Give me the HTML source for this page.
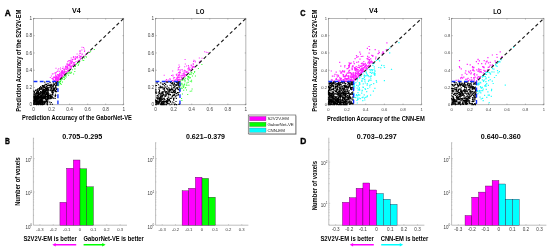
<!DOCTYPE html>
<html lang="en"><head><meta charset="utf-8"><title>Figure</title>
<style>html,body{margin:0;padding:0;background:#fff}svg{display:block}text{font-family:"Liberation Sans",sans-serif}</style></head><body>
<svg width="550" height="251" viewBox="0 0 550 251">
<rect width="550" height="251" fill="#fff"/>
<rect x="33.60" y="18.40" width="90.10" height="86.40" fill="none" stroke="#777" stroke-width="0.55"/>
<path d="M33.60 104.80v-1.2M33.60 18.40v1.2M33.60 104.80h1.2M123.70 104.80h-1.2M51.62 104.80v-1.2M51.62 18.40v1.2M33.60 87.52h1.2M123.70 87.52h-1.2M69.64 104.80v-1.2M69.64 18.40v1.2M33.60 70.24h1.2M123.70 70.24h-1.2M87.66 104.80v-1.2M87.66 18.40v1.2M33.60 52.96h1.2M123.70 52.96h-1.2M105.68 104.80v-1.2M105.68 18.40v1.2M33.60 35.68h1.2M123.70 35.68h-1.2M123.70 104.80v-1.2M123.70 18.40v1.2M33.60 18.40h1.2M123.70 18.40h-1.2" stroke="#777" stroke-width="0.5" fill="none"/>
<g font-size="4.7" fill="#444" font-family="'Liberation Sans', sans-serif">
<text x="33.60" y="110.79" text-anchor="middle">0</text>
<text x="32.20" y="106.49" text-anchor="end">0</text>
<text x="51.62" y="110.79" text-anchor="middle">0.2</text>
<text x="32.20" y="89.21" text-anchor="end">0.2</text>
<text x="69.64" y="110.79" text-anchor="middle">0.4</text>
<text x="32.20" y="71.93" text-anchor="end">0.4</text>
<text x="87.66" y="110.79" text-anchor="middle">0.6</text>
<text x="32.20" y="54.65" text-anchor="end">0.6</text>
<text x="105.68" y="110.79" text-anchor="middle">0.8</text>
<text x="32.20" y="37.37" text-anchor="end">0.8</text>
<text x="123.70" y="110.79" text-anchor="middle">1</text>
<text x="32.20" y="20.09" text-anchor="end">1</text>
</g>
<path d="M54.0 88.7h1.15v1.15h-1.15zM43.6 98.2h1.15v1.15h-1.15zM38.9 98.5h1.15v1.15h-1.15zM40.7 88.6h1.15v1.15h-1.15zM37.3 90.3h1.15v1.15h-1.15zM41.2 94.2h1.15v1.15h-1.15zM41.3 103.9h1.15v1.15h-1.15zM38.7 101.6h1.15v1.15h-1.15zM55.0 89.8h1.15v1.15h-1.15zM40.3 100.9h1.15v1.15h-1.15zM37.3 95.6h1.15v1.15h-1.15zM43.9 91.0h1.15v1.15h-1.15zM45.8 93.3h1.15v1.15h-1.15zM35.9 101.0h1.15v1.15h-1.15zM40.7 91.6h1.15v1.15h-1.15zM37.1 102.4h1.15v1.15h-1.15zM37.9 94.3h1.15v1.15h-1.15zM46.4 91.5h1.15v1.15h-1.15zM47.0 89.3h1.15v1.15h-1.15zM41.6 91.4h1.15v1.15h-1.15zM36.8 92.9h1.15v1.15h-1.15zM41.9 92.7h1.15v1.15h-1.15zM41.0 96.3h1.15v1.15h-1.15zM33.1 100.0h1.15v1.15h-1.15zM49.3 97.6h1.15v1.15h-1.15zM34.5 96.1h1.15v1.15h-1.15zM44.6 100.8h1.15v1.15h-1.15zM38.2 94.1h1.15v1.15h-1.15zM39.3 101.5h1.15v1.15h-1.15zM41.3 93.4h1.15v1.15h-1.15zM43.2 95.2h1.15v1.15h-1.15zM40.4 95.4h1.15v1.15h-1.15zM37.1 103.5h1.15v1.15h-1.15zM53.1 97.6h1.15v1.15h-1.15zM34.5 100.4h1.15v1.15h-1.15zM55.2 86.5h1.15v1.15h-1.15zM45.6 95.9h1.15v1.15h-1.15zM39.5 102.2h1.15v1.15h-1.15zM37.4 88.5h1.15v1.15h-1.15zM44.3 96.8h1.15v1.15h-1.15zM51.3 84.8h1.15v1.15h-1.15zM38.6 102.8h1.15v1.15h-1.15zM37.9 90.7h1.15v1.15h-1.15zM37.6 103.1h1.15v1.15h-1.15zM39.1 94.3h1.15v1.15h-1.15zM45.1 99.0h1.15v1.15h-1.15zM33.2 96.5h1.15v1.15h-1.15zM37.0 96.1h1.15v1.15h-1.15zM45.4 88.5h1.15v1.15h-1.15zM39.6 99.3h1.15v1.15h-1.15zM36.0 100.3h1.15v1.15h-1.15zM36.2 94.0h1.15v1.15h-1.15zM43.1 96.3h1.15v1.15h-1.15zM43.2 93.0h1.15v1.15h-1.15zM33.4 98.5h1.15v1.15h-1.15zM44.2 93.0h1.15v1.15h-1.15zM44.3 95.9h1.15v1.15h-1.15zM43.3 85.9h1.15v1.15h-1.15zM39.6 95.9h1.15v1.15h-1.15zM38.1 100.1h1.15v1.15h-1.15zM40.8 101.3h1.15v1.15h-1.15zM37.3 102.4h1.15v1.15h-1.15zM43.1 89.4h1.15v1.15h-1.15zM47.5 84.8h1.15v1.15h-1.15zM51.6 90.0h1.15v1.15h-1.15zM47.1 85.1h1.15v1.15h-1.15zM33.2 90.4h1.15v1.15h-1.15zM36.6 95.2h1.15v1.15h-1.15zM41.9 90.2h1.15v1.15h-1.15zM33.5 95.8h1.15v1.15h-1.15zM56.5 84.8h1.15v1.15h-1.15zM36.4 96.5h1.15v1.15h-1.15zM47.5 97.5h1.15v1.15h-1.15zM39.4 101.3h1.15v1.15h-1.15zM42.9 92.9h1.15v1.15h-1.15zM37.0 95.5h1.15v1.15h-1.15zM33.6 99.4h1.15v1.15h-1.15zM34.4 101.3h1.15v1.15h-1.15zM39.1 99.4h1.15v1.15h-1.15zM41.5 103.8h1.15v1.15h-1.15zM33.3 101.0h1.15v1.15h-1.15zM42.6 97.1h1.15v1.15h-1.15zM36.7 99.3h1.15v1.15h-1.15zM39.1 103.5h1.15v1.15h-1.15zM47.1 90.0h1.15v1.15h-1.15zM50.8 96.1h1.15v1.15h-1.15zM34.8 99.6h1.15v1.15h-1.15zM33.7 95.9h1.15v1.15h-1.15zM39.7 92.5h1.15v1.15h-1.15zM33.8 91.3h1.15v1.15h-1.15zM34.5 100.9h1.15v1.15h-1.15zM37.8 96.7h1.15v1.15h-1.15zM33.2 101.4h1.15v1.15h-1.15zM44.8 98.0h1.15v1.15h-1.15zM35.2 89.6h1.15v1.15h-1.15zM35.5 96.1h1.15v1.15h-1.15zM49.5 89.8h1.15v1.15h-1.15zM42.0 100.9h1.15v1.15h-1.15zM37.9 96.2h1.15v1.15h-1.15zM44.6 88.1h1.15v1.15h-1.15zM36.3 100.3h1.15v1.15h-1.15zM42.1 94.4h1.15v1.15h-1.15zM45.9 93.0h1.15v1.15h-1.15zM36.6 100.8h1.15v1.15h-1.15zM35.1 98.5h1.15v1.15h-1.15zM45.8 83.8h1.15v1.15h-1.15zM41.1 103.3h1.15v1.15h-1.15zM42.1 94.7h1.15v1.15h-1.15zM48.2 96.6h1.15v1.15h-1.15zM42.5 102.9h1.15v1.15h-1.15zM46.9 87.5h1.15v1.15h-1.15zM36.7 102.8h1.15v1.15h-1.15zM45.6 88.5h1.15v1.15h-1.15zM34.7 95.2h1.15v1.15h-1.15zM38.8 97.9h1.15v1.15h-1.15zM45.0 95.0h1.15v1.15h-1.15zM43.0 86.3h1.15v1.15h-1.15zM46.1 88.6h1.15v1.15h-1.15zM50.8 84.4h1.15v1.15h-1.15zM34.1 95.5h1.15v1.15h-1.15zM44.8 87.4h1.15v1.15h-1.15zM44.9 93.3h1.15v1.15h-1.15zM34.9 97.2h1.15v1.15h-1.15zM39.9 93.7h1.15v1.15h-1.15zM42.7 85.0h1.15v1.15h-1.15zM41.7 100.6h1.15v1.15h-1.15zM41.3 94.5h1.15v1.15h-1.15zM42.7 97.5h1.15v1.15h-1.15zM36.9 95.9h1.15v1.15h-1.15zM46.4 92.7h1.15v1.15h-1.15zM42.9 96.2h1.15v1.15h-1.15zM39.8 103.0h1.15v1.15h-1.15zM35.7 99.8h1.15v1.15h-1.15zM33.4 97.4h1.15v1.15h-1.15zM40.3 91.4h1.15v1.15h-1.15zM51.9 103.7h1.15v1.15h-1.15zM45.3 101.9h1.15v1.15h-1.15zM35.9 95.4h1.15v1.15h-1.15zM34.6 103.8h1.15v1.15h-1.15zM42.2 96.3h1.15v1.15h-1.15zM34.6 96.0h1.15v1.15h-1.15zM41.3 95.2h1.15v1.15h-1.15zM38.8 102.3h1.15v1.15h-1.15zM38.5 87.9h1.15v1.15h-1.15zM36.3 93.5h1.15v1.15h-1.15zM36.6 102.6h1.15v1.15h-1.15zM37.6 101.4h1.15v1.15h-1.15zM35.7 96.0h1.15v1.15h-1.15zM37.4 103.8h1.15v1.15h-1.15zM45.0 87.9h1.15v1.15h-1.15zM40.6 99.1h1.15v1.15h-1.15zM48.5 97.7h1.15v1.15h-1.15zM38.2 100.3h1.15v1.15h-1.15zM33.9 96.6h1.15v1.15h-1.15zM39.3 99.3h1.15v1.15h-1.15zM34.8 99.3h1.15v1.15h-1.15zM43.2 93.4h1.15v1.15h-1.15zM35.7 101.4h1.15v1.15h-1.15zM53.2 84.1h1.15v1.15h-1.15zM47.0 102.6h1.15v1.15h-1.15zM44.2 96.1h1.15v1.15h-1.15zM36.5 99.4h1.15v1.15h-1.15zM33.2 102.0h1.15v1.15h-1.15zM40.4 101.8h1.15v1.15h-1.15zM46.4 86.8h1.15v1.15h-1.15zM36.2 98.9h1.15v1.15h-1.15zM41.1 94.8h1.15v1.15h-1.15zM38.3 101.3h1.15v1.15h-1.15zM46.2 88.9h1.15v1.15h-1.15zM34.2 97.0h1.15v1.15h-1.15zM41.1 100.3h1.15v1.15h-1.15zM51.1 91.7h1.15v1.15h-1.15zM33.5 97.8h1.15v1.15h-1.15zM46.9 104.1h1.15v1.15h-1.15zM49.7 103.5h1.15v1.15h-1.15zM43.2 103.4h1.15v1.15h-1.15zM37.7 98.7h1.15v1.15h-1.15zM35.4 101.1h1.15v1.15h-1.15zM44.3 90.5h1.15v1.15h-1.15zM38.1 98.9h1.15v1.15h-1.15zM42.1 86.4h1.15v1.15h-1.15zM37.9 92.9h1.15v1.15h-1.15zM56.0 88.9h1.15v1.15h-1.15zM40.3 95.2h1.15v1.15h-1.15zM42.1 100.6h1.15v1.15h-1.15zM45.0 95.7h1.15v1.15h-1.15zM47.8 96.0h1.15v1.15h-1.15zM39.4 98.1h1.15v1.15h-1.15zM42.4 92.1h1.15v1.15h-1.15zM41.3 95.8h1.15v1.15h-1.15zM52.5 94.4h1.15v1.15h-1.15zM55.4 87.2h1.15v1.15h-1.15zM54.1 88.5h1.15v1.15h-1.15zM42.5 90.6h1.15v1.15h-1.15zM47.7 92.0h1.15v1.15h-1.15zM56.8 82.5h1.15v1.15h-1.15zM38.2 100.2h1.15v1.15h-1.15zM44.5 86.9h1.15v1.15h-1.15zM40.4 87.6h1.15v1.15h-1.15zM39.1 95.9h1.15v1.15h-1.15zM47.7 91.6h1.15v1.15h-1.15zM40.5 88.9h1.15v1.15h-1.15zM40.1 94.9h1.15v1.15h-1.15zM40.9 99.2h1.15v1.15h-1.15zM46.5 85.4h1.15v1.15h-1.15zM34.0 102.1h1.15v1.15h-1.15zM55.5 91.0h1.15v1.15h-1.15zM37.8 96.0h1.15v1.15h-1.15zM49.5 86.7h1.15v1.15h-1.15zM39.9 100.0h1.15v1.15h-1.15zM54.7 95.9h1.15v1.15h-1.15zM37.8 95.7h1.15v1.15h-1.15zM35.6 98.2h1.15v1.15h-1.15zM45.9 99.8h1.15v1.15h-1.15zM38.6 100.9h1.15v1.15h-1.15zM35.4 98.1h1.15v1.15h-1.15zM41.4 103.4h1.15v1.15h-1.15zM40.5 96.6h1.15v1.15h-1.15zM53.2 83.7h1.15v1.15h-1.15zM33.9 98.0h1.15v1.15h-1.15zM54.6 97.8h1.15v1.15h-1.15zM47.7 89.3h1.15v1.15h-1.15zM36.6 89.1h1.15v1.15h-1.15zM53.9 87.8h1.15v1.15h-1.15zM44.7 94.8h1.15v1.15h-1.15zM38.0 94.0h1.15v1.15h-1.15zM38.9 103.0h1.15v1.15h-1.15zM34.1 98.6h1.15v1.15h-1.15zM47.0 87.7h1.15v1.15h-1.15zM49.4 97.7h1.15v1.15h-1.15zM41.8 95.2h1.15v1.15h-1.15zM45.1 101.2h1.15v1.15h-1.15zM35.3 96.5h1.15v1.15h-1.15zM54.9 93.7h1.15v1.15h-1.15zM42.4 101.8h1.15v1.15h-1.15zM39.7 102.5h1.15v1.15h-1.15zM55.6 82.7h1.15v1.15h-1.15zM36.6 99.1h1.15v1.15h-1.15zM42.2 89.2h1.15v1.15h-1.15zM43.8 97.3h1.15v1.15h-1.15zM41.3 101.2h1.15v1.15h-1.15zM39.9 93.1h1.15v1.15h-1.15zM35.4 97.0h1.15v1.15h-1.15zM49.2 87.2h1.15v1.15h-1.15zM43.7 97.6h1.15v1.15h-1.15zM39.6 100.9h1.15v1.15h-1.15zM38.2 102.7h1.15v1.15h-1.15zM45.5 88.0h1.15v1.15h-1.15zM40.4 103.3h1.15v1.15h-1.15zM39.3 99.7h1.15v1.15h-1.15zM42.1 102.3h1.15v1.15h-1.15zM47.1 101.7h1.15v1.15h-1.15zM50.8 101.9h1.15v1.15h-1.15zM53.7 89.6h1.15v1.15h-1.15zM42.1 94.3h1.15v1.15h-1.15zM45.7 94.0h1.15v1.15h-1.15zM44.5 94.5h1.15v1.15h-1.15zM46.8 97.2h1.15v1.15h-1.15zM52.1 91.3h1.15v1.15h-1.15zM52.0 92.2h1.15v1.15h-1.15zM35.2 100.9h1.15v1.15h-1.15zM44.2 81.6h1.15v1.15h-1.15zM42.4 96.0h1.15v1.15h-1.15zM43.8 101.9h1.15v1.15h-1.15zM34.9 98.6h1.15v1.15h-1.15zM48.6 95.0h1.15v1.15h-1.15zM33.7 101.7h1.15v1.15h-1.15zM37.2 102.8h1.15v1.15h-1.15zM35.4 101.5h1.15v1.15h-1.15zM39.9 90.9h1.15v1.15h-1.15zM48.2 94.0h1.15v1.15h-1.15zM35.7 103.4h1.15v1.15h-1.15zM34.5 100.6h1.15v1.15h-1.15zM34.1 103.3h1.15v1.15h-1.15zM40.1 99.8h1.15v1.15h-1.15zM44.9 96.8h1.15v1.15h-1.15zM34.5 99.4h1.15v1.15h-1.15zM34.9 96.2h1.15v1.15h-1.15zM41.7 101.4h1.15v1.15h-1.15zM47.2 97.2h1.15v1.15h-1.15zM39.2 87.7h1.15v1.15h-1.15zM44.7 101.3h1.15v1.15h-1.15zM50.1 85.3h1.15v1.15h-1.15zM46.4 97.8h1.15v1.15h-1.15zM41.6 91.6h1.15v1.15h-1.15zM40.1 103.9h1.15v1.15h-1.15zM56.3 88.3h1.15v1.15h-1.15zM38.4 101.3h1.15v1.15h-1.15zM38.8 93.8h1.15v1.15h-1.15zM43.0 97.2h1.15v1.15h-1.15zM36.7 94.4h1.15v1.15h-1.15zM47.9 94.6h1.15v1.15h-1.15zM36.7 97.1h1.15v1.15h-1.15zM45.8 83.8h1.15v1.15h-1.15zM42.0 96.1h1.15v1.15h-1.15zM44.7 95.1h1.15v1.15h-1.15zM38.0 92.1h1.15v1.15h-1.15zM33.8 100.7h1.15v1.15h-1.15zM42.2 97.6h1.15v1.15h-1.15zM50.1 98.0h1.15v1.15h-1.15zM33.6 99.5h1.15v1.15h-1.15zM38.8 89.2h1.15v1.15h-1.15zM34.3 95.9h1.15v1.15h-1.15zM42.2 92.9h1.15v1.15h-1.15zM41.5 97.2h1.15v1.15h-1.15zM46.8 95.6h1.15v1.15h-1.15zM42.7 98.2h1.15v1.15h-1.15zM51.6 96.0h1.15v1.15h-1.15zM36.7 95.4h1.15v1.15h-1.15zM46.4 91.5h1.15v1.15h-1.15zM33.5 90.8h1.15v1.15h-1.15zM47.0 91.2h1.15v1.15h-1.15zM50.5 96.8h1.15v1.15h-1.15zM37.5 97.7h1.15v1.15h-1.15zM53.2 89.9h1.15v1.15h-1.15zM42.4 97.8h1.15v1.15h-1.15zM43.4 100.6h1.15v1.15h-1.15zM47.7 87.0h1.15v1.15h-1.15zM33.3 93.5h1.15v1.15h-1.15zM40.2 100.4h1.15v1.15h-1.15zM34.9 97.3h1.15v1.15h-1.15zM38.1 103.7h1.15v1.15h-1.15zM36.5 94.9h1.15v1.15h-1.15zM39.0 103.3h1.15v1.15h-1.15zM41.5 98.7h1.15v1.15h-1.15zM45.1 90.9h1.15v1.15h-1.15zM49.6 96.4h1.15v1.15h-1.15zM39.3 89.2h1.15v1.15h-1.15zM40.0 103.7h1.15v1.15h-1.15zM42.5 91.6h1.15v1.15h-1.15zM45.6 99.7h1.15v1.15h-1.15zM39.6 97.3h1.15v1.15h-1.15zM36.9 100.6h1.15v1.15h-1.15zM38.0 101.7h1.15v1.15h-1.15zM37.5 97.1h1.15v1.15h-1.15zM45.5 98.7h1.15v1.15h-1.15zM35.5 93.0h1.15v1.15h-1.15zM42.9 93.5h1.15v1.15h-1.15zM34.4 93.9h1.15v1.15h-1.15zM34.8 99.9h1.15v1.15h-1.15zM38.7 89.8h1.15v1.15h-1.15zM41.0 97.6h1.15v1.15h-1.15zM42.6 97.4h1.15v1.15h-1.15zM41.7 103.0h1.15v1.15h-1.15zM35.3 102.3h1.15v1.15h-1.15zM42.1 98.4h1.15v1.15h-1.15zM43.9 92.5h1.15v1.15h-1.15zM43.3 103.8h1.15v1.15h-1.15zM53.4 84.4h1.15v1.15h-1.15zM40.7 99.5h1.15v1.15h-1.15zM47.3 100.4h1.15v1.15h-1.15zM55.1 85.5h1.15v1.15h-1.15zM36.0 91.8h1.15v1.15h-1.15zM46.4 98.3h1.15v1.15h-1.15zM33.5 100.4h1.15v1.15h-1.15zM45.9 84.1h1.15v1.15h-1.15zM38.9 98.6h1.15v1.15h-1.15zM38.2 93.6h1.15v1.15h-1.15zM33.3 98.4h1.15v1.15h-1.15zM35.0 97.0h1.15v1.15h-1.15zM37.5 102.1h1.15v1.15h-1.15zM44.5 93.9h1.15v1.15h-1.15zM38.2 94.6h1.15v1.15h-1.15zM52.5 89.8h1.15v1.15h-1.15zM53.9 84.0h1.15v1.15h-1.15zM41.8 99.9h1.15v1.15h-1.15zM46.2 103.3h1.15v1.15h-1.15zM44.7 91.1h1.15v1.15h-1.15zM39.0 88.6h1.15v1.15h-1.15zM56.0 84.3h1.15v1.15h-1.15zM45.4 91.9h1.15v1.15h-1.15zM36.0 104.0h1.15v1.15h-1.15zM46.8 90.2h1.15v1.15h-1.15zM33.4 98.3h1.15v1.15h-1.15zM34.4 92.6h1.15v1.15h-1.15zM43.9 89.0h1.15v1.15h-1.15zM41.3 101.9h1.15v1.15h-1.15zM39.7 102.4h1.15v1.15h-1.15zM41.2 94.6h1.15v1.15h-1.15zM41.2 99.9h1.15v1.15h-1.15zM50.3 93.8h1.15v1.15h-1.15zM40.3 102.0h1.15v1.15h-1.15zM52.3 85.8h1.15v1.15h-1.15zM38.7 101.5h1.15v1.15h-1.15zM53.4 82.9h1.15v1.15h-1.15zM43.9 95.5h1.15v1.15h-1.15zM45.5 88.7h1.15v1.15h-1.15zM41.3 101.1h1.15v1.15h-1.15zM42.5 103.4h1.15v1.15h-1.15zM53.6 89.8h1.15v1.15h-1.15zM41.4 104.2h1.15v1.15h-1.15zM42.6 97.5h1.15v1.15h-1.15zM37.3 102.2h1.15v1.15h-1.15zM38.4 99.0h1.15v1.15h-1.15zM37.4 96.8h1.15v1.15h-1.15zM34.6 101.8h1.15v1.15h-1.15zM38.2 97.8h1.15v1.15h-1.15zM42.2 86.1h1.15v1.15h-1.15zM46.9 92.5h1.15v1.15h-1.15zM47.2 99.1h1.15v1.15h-1.15zM33.7 98.0h1.15v1.15h-1.15zM41.8 85.1h1.15v1.15h-1.15zM33.1 103.1h1.15v1.15h-1.15zM36.8 95.8h1.15v1.15h-1.15zM46.9 94.7h1.15v1.15h-1.15zM41.3 95.2h1.15v1.15h-1.15zM52.8 81.5h1.15v1.15h-1.15zM38.8 96.4h1.15v1.15h-1.15zM53.8 87.5h1.15v1.15h-1.15zM42.8 85.4h1.15v1.15h-1.15zM48.0 88.9h1.15v1.15h-1.15zM34.6 97.3h1.15v1.15h-1.15zM38.5 96.6h1.15v1.15h-1.15zM42.2 90.3h1.15v1.15h-1.15zM42.4 89.8h1.15v1.15h-1.15zM40.4 98.4h1.15v1.15h-1.15zM48.7 84.4h1.15v1.15h-1.15zM33.6 91.1h1.15v1.15h-1.15zM40.1 85.9h1.15v1.15h-1.15zM39.9 93.2h1.15v1.15h-1.15zM37.0 90.7h1.15v1.15h-1.15zM50.5 95.1h1.15v1.15h-1.15zM41.0 88.0h1.15v1.15h-1.15zM43.8 93.5h1.15v1.15h-1.15zM47.1 101.1h1.15v1.15h-1.15zM39.5 97.0h1.15v1.15h-1.15zM37.0 94.8h1.15v1.15h-1.15zM40.3 101.3h1.15v1.15h-1.15zM39.1 87.2h1.15v1.15h-1.15zM42.4 87.4h1.15v1.15h-1.15zM46.0 99.2h1.15v1.15h-1.15zM34.8 100.1h1.15v1.15h-1.15zM36.2 100.5h1.15v1.15h-1.15zM42.2 98.7h1.15v1.15h-1.15zM55.7 84.4h1.15v1.15h-1.15zM43.9 96.4h1.15v1.15h-1.15zM42.4 102.3h1.15v1.15h-1.15zM42.8 97.5h1.15v1.15h-1.15zM33.1 100.2h1.15v1.15h-1.15zM35.0 97.9h1.15v1.15h-1.15zM40.3 100.6h1.15v1.15h-1.15zM41.1 97.1h1.15v1.15h-1.15zM45.8 86.0h1.15v1.15h-1.15zM44.3 103.0h1.15v1.15h-1.15zM46.4 99.3h1.15v1.15h-1.15zM40.8 100.4h1.15v1.15h-1.15zM46.4 90.0h1.15v1.15h-1.15zM44.6 95.0h1.15v1.15h-1.15zM42.5 94.9h1.15v1.15h-1.15zM51.1 86.6h1.15v1.15h-1.15zM39.8 96.4h1.15v1.15h-1.15zM50.3 93.7h1.15v1.15h-1.15zM52.8 87.3h1.15v1.15h-1.15zM43.1 91.2h1.15v1.15h-1.15zM44.7 91.4h1.15v1.15h-1.15zM34.4 99.2h1.15v1.15h-1.15zM44.6 97.5h1.15v1.15h-1.15zM37.2 95.0h1.15v1.15h-1.15zM36.0 92.9h1.15v1.15h-1.15zM51.0 87.9h1.15v1.15h-1.15zM43.6 92.6h1.15v1.15h-1.15zM39.8 96.4h1.15v1.15h-1.15zM44.8 90.7h1.15v1.15h-1.15zM36.8 99.4h1.15v1.15h-1.15zM51.3 83.8h1.15v1.15h-1.15zM34.8 100.9h1.15v1.15h-1.15zM41.1 94.5h1.15v1.15h-1.15zM39.9 103.7h1.15v1.15h-1.15zM36.4 98.5h1.15v1.15h-1.15zM37.3 101.4h1.15v1.15h-1.15zM43.4 98.0h1.15v1.15h-1.15zM37.4 103.2h1.15v1.15h-1.15zM41.4 96.6h1.15v1.15h-1.15zM41.0 100.1h1.15v1.15h-1.15zM33.4 95.3h1.15v1.15h-1.15zM38.3 100.7h1.15v1.15h-1.15zM43.5 90.1h1.15v1.15h-1.15zM37.7 93.0h1.15v1.15h-1.15zM42.3 96.3h1.15v1.15h-1.15zM36.3 90.4h1.15v1.15h-1.15zM36.3 95.7h1.15v1.15h-1.15zM36.6 101.4h1.15v1.15h-1.15zM50.6 97.9h1.15v1.15h-1.15zM52.3 91.3h1.15v1.15h-1.15zM39.6 96.0h1.15v1.15h-1.15zM36.5 103.4h1.15v1.15h-1.15zM52.9 85.3h1.15v1.15h-1.15zM47.5 95.0h1.15v1.15h-1.15zM41.0 95.1h1.15v1.15h-1.15zM50.4 90.2h1.15v1.15h-1.15zM45.6 101.2h1.15v1.15h-1.15zM42.7 97.0h1.15v1.15h-1.15zM50.9 90.4h1.15v1.15h-1.15zM56.0 91.2h1.15v1.15h-1.15zM37.8 91.4h1.15v1.15h-1.15zM38.5 99.4h1.15v1.15h-1.15zM40.3 99.1h1.15v1.15h-1.15zM36.4 96.6h1.15v1.15h-1.15zM38.0 99.9h1.15v1.15h-1.15zM40.6 92.5h1.15v1.15h-1.15zM43.9 102.4h1.15v1.15h-1.15zM56.3 88.0h1.15v1.15h-1.15zM36.0 98.2h1.15v1.15h-1.15zM34.6 94.1h1.15v1.15h-1.15zM41.3 96.1h1.15v1.15h-1.15zM50.5 86.2h1.15v1.15h-1.15zM47.0 95.6h1.15v1.15h-1.15zM54.9 87.4h1.15v1.15h-1.15zM39.1 99.3h1.15v1.15h-1.15zM45.9 87.7h1.15v1.15h-1.15zM54.5 95.2h1.15v1.15h-1.15zM47.5 89.1h1.15v1.15h-1.15zM37.8 104.1h1.15v1.15h-1.15zM53.0 88.8h1.15v1.15h-1.15zM42.3 88.7h1.15v1.15h-1.15zM49.3 86.9h1.15v1.15h-1.15zM34.1 99.9h1.15v1.15h-1.15zM50.9 97.4h1.15v1.15h-1.15zM37.9 101.9h1.15v1.15h-1.15zM52.5 88.2h1.15v1.15h-1.15zM44.9 96.3h1.15v1.15h-1.15zM36.7 98.1h1.15v1.15h-1.15zM40.2 92.2h1.15v1.15h-1.15zM39.7 104.2h1.15v1.15h-1.15zM53.6 90.1h1.15v1.15h-1.15zM43.2 101.7h1.15v1.15h-1.15zM49.5 81.8h1.15v1.15h-1.15zM40.5 97.6h1.15v1.15h-1.15zM35.6 103.7h1.15v1.15h-1.15zM53.6 90.1h1.15v1.15h-1.15zM35.2 100.0h1.15v1.15h-1.15zM37.6 97.6h1.15v1.15h-1.15zM39.7 92.4h1.15v1.15h-1.15zM40.0 98.8h1.15v1.15h-1.15zM55.1 84.7h1.15v1.15h-1.15zM37.6 103.2h1.15v1.15h-1.15zM35.8 92.9h1.15v1.15h-1.15zM34.4 97.0h1.15v1.15h-1.15zM34.8 102.8h1.15v1.15h-1.15zM33.8 99.8h1.15v1.15h-1.15zM46.7 94.5h1.15v1.15h-1.15zM37.1 88.4h1.15v1.15h-1.15zM43.1 98.0h1.15v1.15h-1.15zM47.1 92.9h1.15v1.15h-1.15zM37.0 102.6h1.15v1.15h-1.15zM40.8 86.9h1.15v1.15h-1.15zM33.5 102.9h1.15v1.15h-1.15zM49.4 82.2h1.15v1.15h-1.15zM42.3 96.0h1.15v1.15h-1.15zM38.5 102.4h1.15v1.15h-1.15zM41.6 99.6h1.15v1.15h-1.15zM42.2 103.1h1.15v1.15h-1.15zM40.1 99.8h1.15v1.15h-1.15zM49.6 84.6h1.15v1.15h-1.15zM36.5 97.3h1.15v1.15h-1.15zM55.4 90.8h1.15v1.15h-1.15zM49.2 101.5h1.15v1.15h-1.15zM41.8 90.4h1.15v1.15h-1.15zM37.2 98.5h1.15v1.15h-1.15zM51.9 89.4h1.15v1.15h-1.15zM45.5 89.8h1.15v1.15h-1.15zM38.5 94.7h1.15v1.15h-1.15zM39.3 87.1h1.15v1.15h-1.15zM41.2 97.1h1.15v1.15h-1.15zM47.4 83.0h1.15v1.15h-1.15zM41.2 99.0h1.15v1.15h-1.15zM39.9 100.6h1.15v1.15h-1.15zM33.9 101.0h1.15v1.15h-1.15zM52.8 91.7h1.15v1.15h-1.15zM54.7 91.0h1.15v1.15h-1.15zM35.2 96.6h1.15v1.15h-1.15zM52.1 97.3h1.15v1.15h-1.15zM42.5 94.4h1.15v1.15h-1.15zM43.4 96.1h1.15v1.15h-1.15zM55.9 84.4h1.15v1.15h-1.15zM47.4 98.1h1.15v1.15h-1.15zM55.1 94.9h1.15v1.15h-1.15zM48.4 93.3h1.15v1.15h-1.15zM46.1 98.5h1.15v1.15h-1.15zM42.5 97.6h1.15v1.15h-1.15zM39.6 97.4h1.15v1.15h-1.15zM55.2 87.3h1.15v1.15h-1.15zM49.1 95.0h1.15v1.15h-1.15zM34.2 101.4h1.15v1.15h-1.15zM45.5 96.7h1.15v1.15h-1.15zM40.1 103.1h1.15v1.15h-1.15zM44.1 95.3h1.15v1.15h-1.15zM35.1 100.6h1.15v1.15h-1.15zM35.0 90.1h1.15v1.15h-1.15zM44.7 83.7h1.15v1.15h-1.15zM50.2 95.1h1.15v1.15h-1.15zM46.0 99.5h1.15v1.15h-1.15zM33.5 103.4h1.15v1.15h-1.15zM34.8 99.3h1.15v1.15h-1.15zM37.2 101.0h1.15v1.15h-1.15zM33.7 92.2h1.15v1.15h-1.15zM38.3 92.3h1.15v1.15h-1.15zM36.1 91.7h1.15v1.15h-1.15zM46.8 93.5h1.15v1.15h-1.15zM42.1 100.7h1.15v1.15h-1.15zM48.0 96.1h1.15v1.15h-1.15zM47.0 91.5h1.15v1.15h-1.15zM49.5 95.8h1.15v1.15h-1.15zM44.9 96.6h1.15v1.15h-1.15zM47.2 93.1h1.15v1.15h-1.15zM39.7 92.3h1.15v1.15h-1.15zM50.1 96.1h1.15v1.15h-1.15zM42.0 98.3h1.15v1.15h-1.15zM36.8 99.5h1.15v1.15h-1.15zM46.7 87.8h1.15v1.15h-1.15zM46.9 96.3h1.15v1.15h-1.15zM49.9 84.3h1.15v1.15h-1.15zM44.2 85.5h1.15v1.15h-1.15zM35.1 99.4h1.15v1.15h-1.15zM37.5 98.6h1.15v1.15h-1.15zM46.9 93.5h1.15v1.15h-1.15zM37.7 103.3h1.15v1.15h-1.15zM40.9 100.0h1.15v1.15h-1.15zM45.9 88.4h1.15v1.15h-1.15zM37.9 101.6h1.15v1.15h-1.15zM37.6 97.0h1.15v1.15h-1.15zM46.5 95.9h1.15v1.15h-1.15zM39.2 92.4h1.15v1.15h-1.15zM38.0 98.8h1.15v1.15h-1.15zM33.2 95.7h1.15v1.15h-1.15zM48.0 88.9h1.15v1.15h-1.15zM45.0 90.8h1.15v1.15h-1.15zM39.0 100.0h1.15v1.15h-1.15zM42.9 101.5h1.15v1.15h-1.15zM40.9 99.8h1.15v1.15h-1.15zM44.8 94.7h1.15v1.15h-1.15zM48.5 98.3h1.15v1.15h-1.15zM41.5 100.7h1.15v1.15h-1.15zM43.5 101.6h1.15v1.15h-1.15zM35.1 101.2h1.15v1.15h-1.15zM39.7 102.5h1.15v1.15h-1.15zM38.4 96.9h1.15v1.15h-1.15zM40.0 99.1h1.15v1.15h-1.15zM47.0 95.7h1.15v1.15h-1.15zM51.1 95.9h1.15v1.15h-1.15zM55.0 81.4h1.15v1.15h-1.15zM50.3 88.4h1.15v1.15h-1.15zM36.2 97.3h1.15v1.15h-1.15zM44.6 97.7h1.15v1.15h-1.15zM37.6 90.5h1.15v1.15h-1.15zM37.8 101.0h1.15v1.15h-1.15zM47.1 95.6h1.15v1.15h-1.15zM34.8 98.3h1.15v1.15h-1.15zM34.8 94.7h1.15v1.15h-1.15zM37.1 100.9h1.15v1.15h-1.15zM39.3 101.0h1.15v1.15h-1.15zM34.1 97.9h1.15v1.15h-1.15zM47.6 95.4h1.15v1.15h-1.15zM44.9 87.4h1.15v1.15h-1.15zM51.8 94.3h1.15v1.15h-1.15zM39.9 98.2h1.15v1.15h-1.15zM42.2 95.4h1.15v1.15h-1.15zM43.8 86.9h1.15v1.15h-1.15zM39.9 100.2h1.15v1.15h-1.15zM50.3 86.3h1.15v1.15h-1.15zM41.2 97.1h1.15v1.15h-1.15zM33.5 103.8h1.15v1.15h-1.15zM52.2 91.0h1.15v1.15h-1.15zM51.9 93.6h1.15v1.15h-1.15zM40.0 100.2h1.15v1.15h-1.15zM50.5 88.9h1.15v1.15h-1.15zM36.7 92.1h1.15v1.15h-1.15zM34.2 103.1h1.15v1.15h-1.15zM34.6 98.7h1.15v1.15h-1.15zM43.6 103.5h1.15v1.15h-1.15zM48.7 85.0h1.15v1.15h-1.15zM34.1 97.9h1.15v1.15h-1.15zM41.5 90.8h1.15v1.15h-1.15zM39.4 100.0h1.15v1.15h-1.15zM40.9 103.9h1.15v1.15h-1.15zM44.8 91.5h1.15v1.15h-1.15zM37.5 96.8h1.15v1.15h-1.15zM35.0 98.7h1.15v1.15h-1.15zM44.1 84.8h1.15v1.15h-1.15zM35.5 96.8h1.15v1.15h-1.15zM35.1 102.0h1.15v1.15h-1.15zM34.6 101.2h1.15v1.15h-1.15zM37.6 101.2h1.15v1.15h-1.15zM42.8 88.8h1.15v1.15h-1.15zM41.9 92.2h1.15v1.15h-1.15zM40.6 95.7h1.15v1.15h-1.15zM36.8 94.5h1.15v1.15h-1.15zM42.1 104.1h1.15v1.15h-1.15zM42.4 88.1h1.15v1.15h-1.15zM34.9 96.7h1.15v1.15h-1.15zM45.9 101.1h1.15v1.15h-1.15zM52.5 92.7h1.15v1.15h-1.15zM35.9 102.3h1.15v1.15h-1.15zM44.9 89.6h1.15v1.15h-1.15zM50.4 88.4h1.15v1.15h-1.15zM46.3 99.4h1.15v1.15h-1.15zM34.6 101.2h1.15v1.15h-1.15zM42.3 93.8h1.15v1.15h-1.15zM41.0 96.7h1.15v1.15h-1.15zM38.6 103.5h1.15v1.15h-1.15zM38.8 100.7h1.15v1.15h-1.15zM42.6 93.5h1.15v1.15h-1.15zM50.8 88.1h1.15v1.15h-1.15zM36.9 95.7h1.15v1.15h-1.15zM47.9 88.5h1.15v1.15h-1.15zM41.1 97.7h1.15v1.15h-1.15zM38.0 96.6h1.15v1.15h-1.15zM45.7 98.5h1.15v1.15h-1.15zM43.6 91.7h1.15v1.15h-1.15zM37.1 91.0h1.15v1.15h-1.15zM36.9 102.8h1.15v1.15h-1.15zM35.4 100.2h1.15v1.15h-1.15zM56.0 81.5h1.15v1.15h-1.15zM55.5 82.6h1.15v1.15h-1.15zM57.1 81.1h1.15v1.15h-1.15zM55.7 81.7h1.15v1.15h-1.15zM56.5 83.0h1.15v1.15h-1.15zM57.0 83.5h1.15v1.15h-1.15z" fill="#000"/>
<path d="M62.1 77.7h1.0v1.0h-1.0zM60.2 80.8h1.0v1.0h-1.0zM58.3 84.2h1.0v1.0h-1.0zM60.2 82.7h1.0v1.0h-1.0zM57.6 85.2h1.0v1.0h-1.0zM58.1 85.3h1.0v1.0h-1.0zM59.8 78.8h1.0v1.0h-1.0zM78.1 64.2h1.0v1.0h-1.0zM57.4 83.7h1.0v1.0h-1.0zM63.6 79.0h1.0v1.0h-1.0zM64.8 74.2h1.0v1.0h-1.0zM60.7 79.5h1.0v1.0h-1.0zM68.5 71.8h1.0v1.0h-1.0zM57.7 82.1h1.0v1.0h-1.0zM74.7 65.9h1.0v1.0h-1.0zM66.7 72.1h1.0v1.0h-1.0zM68.3 72.7h1.0v1.0h-1.0zM79.3 60.8h1.0v1.0h-1.0zM74.5 64.7h1.0v1.0h-1.0zM66.9 73.3h1.0v1.0h-1.0zM93.8 49.1h1.0v1.0h-1.0zM65.7 74.8h1.0v1.0h-1.0zM75.5 64.0h1.0v1.0h-1.0zM64.0 76.8h1.0v1.0h-1.0zM84.1 57.5h1.0v1.0h-1.0zM71.9 69.3h1.0v1.0h-1.0zM77.7 64.8h1.0v1.0h-1.0zM71.1 71.7h1.0v1.0h-1.0zM63.0 76.5h1.0v1.0h-1.0zM62.4 76.2h1.0v1.0h-1.0zM59.1 82.2h1.0v1.0h-1.0zM84.6 55.7h1.0v1.0h-1.0zM70.3 73.0h1.0v1.0h-1.0zM74.3 70.9h1.0v1.0h-1.0zM63.0 76.7h1.0v1.0h-1.0zM75.0 66.0h1.0v1.0h-1.0zM60.0 82.9h1.0v1.0h-1.0zM64.8 75.8h1.0v1.0h-1.0zM83.2 59.9h1.0v1.0h-1.0zM78.7 60.9h1.0v1.0h-1.0zM60.7 78.4h1.0v1.0h-1.0zM58.0 81.6h1.0v1.0h-1.0zM81.8 59.5h1.0v1.0h-1.0zM58.5 82.6h1.0v1.0h-1.0zM76.4 63.1h1.0v1.0h-1.0zM65.3 73.8h1.0v1.0h-1.0zM74.4 68.2h1.0v1.0h-1.0zM77.4 62.5h1.0v1.0h-1.0zM59.9 81.0h1.0v1.0h-1.0zM63.8 79.0h1.0v1.0h-1.0zM64.6 74.9h1.0v1.0h-1.0zM70.3 71.7h1.0v1.0h-1.0zM68.1 74.8h1.0v1.0h-1.0zM68.8 72.4h1.0v1.0h-1.0zM64.5 78.0h1.0v1.0h-1.0zM60.6 78.9h1.0v1.0h-1.0zM73.1 73.5h1.0v1.0h-1.0zM86.0 56.4h1.0v1.0h-1.0zM60.2 79.5h1.0v1.0h-1.0zM58.6 80.8h1.0v1.0h-1.0zM60.7 84.0h1.0v1.0h-1.0zM59.6 81.3h1.0v1.0h-1.0zM62.0 81.5h1.0v1.0h-1.0zM63.6 76.5h1.0v1.0h-1.0zM58.2 82.6h1.0v1.0h-1.0zM74.4 68.6h1.0v1.0h-1.0zM89.0 52.0h1.0v1.0h-1.0zM59.8 79.2h1.0v1.0h-1.0zM61.9 78.4h1.0v1.0h-1.0zM78.8 62.2h1.0v1.0h-1.0zM90.1 51.3h1.0v1.0h-1.0zM65.7 76.5h1.0v1.0h-1.0z" fill="#0f0" fill-opacity="0.85"/>
<path d="M57.6 79.5h1.0v1.0h-1.0zM56.3 79.5h1.0v1.0h-1.0zM61.1 76.6h1.0v1.0h-1.0zM54.0 80.1h1.0v1.0h-1.0zM58.2 80.2h1.0v1.0h-1.0zM56.9 77.8h1.0v1.0h-1.0zM59.0 74.4h1.0v1.0h-1.0zM56.2 79.0h1.0v1.0h-1.0zM60.3 73.7h1.0v1.0h-1.0zM64.5 73.3h1.0v1.0h-1.0zM58.7 79.1h1.0v1.0h-1.0zM74.3 62.8h1.0v1.0h-1.0zM66.7 71.2h1.0v1.0h-1.0zM71.0 62.6h1.0v1.0h-1.0zM72.9 62.8h1.0v1.0h-1.0zM68.9 62.5h1.0v1.0h-1.0zM60.7 76.6h1.0v1.0h-1.0zM58.9 76.0h1.0v1.0h-1.0zM75.0 58.6h1.0v1.0h-1.0zM62.4 71.8h1.0v1.0h-1.0zM60.5 75.3h1.0v1.0h-1.0zM54.7 72.0h1.0v1.0h-1.0zM58.7 75.7h1.0v1.0h-1.0zM57.7 74.4h1.0v1.0h-1.0zM68.9 62.5h1.0v1.0h-1.0zM52.6 73.2h1.0v1.0h-1.0zM53.8 76.5h1.0v1.0h-1.0zM61.5 72.6h1.0v1.0h-1.0zM70.0 62.5h1.0v1.0h-1.0zM85.3 53.8h1.0v1.0h-1.0zM63.7 69.4h1.0v1.0h-1.0zM69.5 63.8h1.0v1.0h-1.0zM54.7 78.4h1.0v1.0h-1.0zM64.3 69.3h1.0v1.0h-1.0zM67.1 61.3h1.0v1.0h-1.0zM52.7 79.1h1.0v1.0h-1.0zM65.2 67.2h1.0v1.0h-1.0zM51.8 73.6h1.0v1.0h-1.0zM81.6 56.2h1.0v1.0h-1.0zM61.3 71.6h1.0v1.0h-1.0zM74.2 64.0h1.0v1.0h-1.0zM63.8 69.1h1.0v1.0h-1.0zM73.2 55.9h1.0v1.0h-1.0zM58.6 70.8h1.0v1.0h-1.0zM65.0 66.1h1.0v1.0h-1.0zM69.5 66.6h1.0v1.0h-1.0zM80.1 57.7h1.0v1.0h-1.0zM55.5 67.7h1.0v1.0h-1.0zM62.4 75.3h1.0v1.0h-1.0zM61.2 74.3h1.0v1.0h-1.0zM78.0 60.6h1.0v1.0h-1.0zM55.5 80.3h1.0v1.0h-1.0zM60.0 67.6h1.0v1.0h-1.0zM61.2 70.4h1.0v1.0h-1.0zM60.4 72.2h1.0v1.0h-1.0zM53.5 76.4h1.0v1.0h-1.0zM55.8 76.9h1.0v1.0h-1.0zM61.7 72.9h1.0v1.0h-1.0zM66.7 67.0h1.0v1.0h-1.0zM81.8 53.5h1.0v1.0h-1.0zM68.4 63.7h1.0v1.0h-1.0zM55.5 76.5h1.0v1.0h-1.0zM68.2 70.2h1.0v1.0h-1.0zM74.9 58.9h1.0v1.0h-1.0zM73.4 64.7h1.0v1.0h-1.0zM81.6 54.1h1.0v1.0h-1.0zM72.6 58.8h1.0v1.0h-1.0zM61.6 73.9h1.0v1.0h-1.0zM60.8 77.1h1.0v1.0h-1.0zM73.1 63.9h1.0v1.0h-1.0zM60.4 73.2h1.0v1.0h-1.0zM78.2 59.7h1.0v1.0h-1.0zM58.9 75.8h1.0v1.0h-1.0zM66.2 69.0h1.0v1.0h-1.0zM63.7 70.5h1.0v1.0h-1.0zM51.5 78.0h1.0v1.0h-1.0zM55.1 78.3h1.0v1.0h-1.0zM59.7 77.5h1.0v1.0h-1.0zM59.8 75.5h1.0v1.0h-1.0zM69.9 66.2h1.0v1.0h-1.0zM64.2 72.5h1.0v1.0h-1.0zM61.5 71.9h1.0v1.0h-1.0zM70.7 68.0h1.0v1.0h-1.0zM70.6 59.4h1.0v1.0h-1.0zM67.9 64.8h1.0v1.0h-1.0zM61.0 72.3h1.0v1.0h-1.0zM55.5 75.8h1.0v1.0h-1.0zM65.9 72.5h1.0v1.0h-1.0zM54.5 76.4h1.0v1.0h-1.0zM60.0 77.4h1.0v1.0h-1.0zM56.9 77.9h1.0v1.0h-1.0zM61.8 70.0h1.0v1.0h-1.0zM84.9 54.4h1.0v1.0h-1.0zM60.8 74.8h1.0v1.0h-1.0zM72.0 61.4h1.0v1.0h-1.0zM56.2 80.0h1.0v1.0h-1.0zM62.1 70.6h1.0v1.0h-1.0zM64.3 71.0h1.0v1.0h-1.0zM52.8 77.4h1.0v1.0h-1.0zM73.1 62.0h1.0v1.0h-1.0zM65.8 72.3h1.0v1.0h-1.0zM57.1 80.9h1.0v1.0h-1.0zM53.2 76.5h1.0v1.0h-1.0zM60.6 71.4h1.0v1.0h-1.0zM70.7 57.5h1.0v1.0h-1.0zM78.7 57.3h1.0v1.0h-1.0zM52.6 77.6h1.0v1.0h-1.0zM49.8 77.0h1.0v1.0h-1.0zM73.8 64.5h1.0v1.0h-1.0zM56.5 77.9h1.0v1.0h-1.0zM66.6 67.0h1.0v1.0h-1.0zM54.5 72.7h1.0v1.0h-1.0zM56.6 75.4h1.0v1.0h-1.0zM55.3 73.5h1.0v1.0h-1.0zM74.3 62.3h1.0v1.0h-1.0zM71.9 65.3h1.0v1.0h-1.0zM70.5 66.4h1.0v1.0h-1.0zM54.9 79.1h1.0v1.0h-1.0zM65.1 68.4h1.0v1.0h-1.0zM61.3 76.0h1.0v1.0h-1.0zM71.2 66.0h1.0v1.0h-1.0zM75.1 57.4h1.0v1.0h-1.0zM54.8 78.9h1.0v1.0h-1.0zM65.5 66.6h1.0v1.0h-1.0zM71.2 62.9h1.0v1.0h-1.0zM59.1 73.5h1.0v1.0h-1.0zM88.4 51.2h1.0v1.0h-1.0zM72.8 56.7h1.0v1.0h-1.0zM68.5 67.7h1.0v1.0h-1.0zM78.8 54.7h1.0v1.0h-1.0zM76.6 56.8h1.0v1.0h-1.0zM56.4 80.0h1.0v1.0h-1.0zM54.7 77.2h1.0v1.0h-1.0zM69.0 65.3h1.0v1.0h-1.0zM63.1 73.5h1.0v1.0h-1.0zM83.1 47.0h1.0v1.0h-1.0zM64.4 67.8h1.0v1.0h-1.0zM80.5 55.6h1.0v1.0h-1.0zM61.0 76.6h1.0v1.0h-1.0zM70.5 66.8h1.0v1.0h-1.0zM59.1 72.7h1.0v1.0h-1.0zM70.4 60.1h1.0v1.0h-1.0zM66.2 66.3h1.0v1.0h-1.0zM57.0 76.7h1.0v1.0h-1.0zM60.3 75.3h1.0v1.0h-1.0zM59.3 74.7h1.0v1.0h-1.0zM63.1 72.7h1.0v1.0h-1.0zM57.0 80.4h1.0v1.0h-1.0zM77.4 60.8h1.0v1.0h-1.0zM65.4 68.4h1.0v1.0h-1.0zM61.9 68.1h1.0v1.0h-1.0zM66.8 68.4h1.0v1.0h-1.0zM53.2 77.1h1.0v1.0h-1.0zM69.6 64.5h1.0v1.0h-1.0zM67.0 67.7h1.0v1.0h-1.0zM61.9 72.1h1.0v1.0h-1.0zM76.7 57.2h1.0v1.0h-1.0zM71.0 67.4h1.0v1.0h-1.0zM83.7 48.4h1.0v1.0h-1.0zM79.4 51.0h1.0v1.0h-1.0zM71.7 64.6h1.0v1.0h-1.0zM55.9 76.2h1.0v1.0h-1.0zM76.9 57.2h1.0v1.0h-1.0zM57.2 79.0h1.0v1.0h-1.0zM58.7 70.9h1.0v1.0h-1.0zM60.5 73.9h1.0v1.0h-1.0zM61.2 71.7h1.0v1.0h-1.0zM67.2 69.9h1.0v1.0h-1.0zM76.6 53.6h1.0v1.0h-1.0zM55.4 76.3h1.0v1.0h-1.0zM63.5 74.1h1.0v1.0h-1.0zM76.8 57.5h1.0v1.0h-1.0zM58.0 78.3h1.0v1.0h-1.0zM83.3 55.5h1.0v1.0h-1.0zM57.9 78.0h1.0v1.0h-1.0zM78.5 54.8h1.0v1.0h-1.0zM62.6 66.6h1.0v1.0h-1.0zM58.3 68.3h1.0v1.0h-1.0zM79.4 50.3h1.0v1.0h-1.0zM55.5 80.6h1.0v1.0h-1.0zM68.8 63.9h1.0v1.0h-1.0zM65.5 70.9h1.0v1.0h-1.0zM63.1 71.6h1.0v1.0h-1.0zM58.7 79.0h1.0v1.0h-1.0zM56.2 75.4h1.0v1.0h-1.0zM79.3 59.4h1.0v1.0h-1.0zM59.9 77.0h1.0v1.0h-1.0zM64.2 71.6h1.0v1.0h-1.0zM55.1 78.3h1.0v1.0h-1.0zM68.8 64.1h1.0v1.0h-1.0zM79.8 50.4h1.0v1.0h-1.0zM67.2 66.0h1.0v1.0h-1.0zM84.0 50.9h1.0v1.0h-1.0zM68.0 65.0h1.0v1.0h-1.0zM58.5 75.6h1.0v1.0h-1.0zM60.2 69.2h1.0v1.0h-1.0zM57.7 75.5h1.0v1.0h-1.0zM63.7 71.1h1.0v1.0h-1.0zM56.1 76.5h1.0v1.0h-1.0zM67.3 70.0h1.0v1.0h-1.0zM60.7 77.7h1.0v1.0h-1.0zM55.7 79.5h1.0v1.0h-1.0zM57.6 79.2h1.0v1.0h-1.0zM53.4 76.7h1.0v1.0h-1.0zM56.8 71.0h1.0v1.0h-1.0zM55.1 78.5h1.0v1.0h-1.0zM70.6 61.6h1.0v1.0h-1.0zM81.5 46.8h1.0v1.0h-1.0zM73.9 58.6h1.0v1.0h-1.0zM61.3 74.8h1.0v1.0h-1.0zM60.8 71.8h1.0v1.0h-1.0zM57.8 74.1h1.0v1.0h-1.0zM61.2 74.3h1.0v1.0h-1.0zM63.0 68.4h1.0v1.0h-1.0zM68.7 60.1h1.0v1.0h-1.0zM56.5 77.5h1.0v1.0h-1.0zM67.8 69.7h1.0v1.0h-1.0zM67.7 70.0h1.0v1.0h-1.0zM58.4 77.8h1.0v1.0h-1.0zM57.8 77.1h1.0v1.0h-1.0zM79.5 56.1h1.0v1.0h-1.0zM55.2 79.7h1.0v1.0h-1.0zM75.8 57.3h1.0v1.0h-1.0zM61.0 75.4h1.0v1.0h-1.0zM74.9 63.9h1.0v1.0h-1.0zM62.2 70.8h1.0v1.0h-1.0zM55.9 71.7h1.0v1.0h-1.0zM65.4 65.5h1.0v1.0h-1.0zM64.3 71.2h1.0v1.0h-1.0zM57.1 74.0h1.0v1.0h-1.0zM53.7 80.0h1.0v1.0h-1.0zM55.6 77.8h1.0v1.0h-1.0zM63.9 71.4h1.0v1.0h-1.0zM66.7 64.8h1.0v1.0h-1.0zM56.1 78.0h1.0v1.0h-1.0zM57.4 76.7h1.0v1.0h-1.0zM70.4 61.0h1.0v1.0h-1.0zM56.8 79.1h1.0v1.0h-1.0zM58.4 76.4h1.0v1.0h-1.0zM70.7 61.0h1.0v1.0h-1.0zM84.2 50.3h1.0v1.0h-1.0zM60.1 78.1h1.0v1.0h-1.0zM67.3 70.8h1.0v1.0h-1.0zM79.9 58.7h1.0v1.0h-1.0zM67.9 60.6h1.0v1.0h-1.0zM57.8 79.6h1.0v1.0h-1.0zM75.3 56.0h1.0v1.0h-1.0zM77.0 56.1h1.0v1.0h-1.0zM52.8 79.2h1.0v1.0h-1.0zM62.5 76.0h1.0v1.0h-1.0zM56.8 77.0h1.0v1.0h-1.0zM73.4 56.9h1.0v1.0h-1.0zM58.4 77.0h1.0v1.0h-1.0zM73.7 62.1h1.0v1.0h-1.0zM78.0 60.2h1.0v1.0h-1.0zM68.5 64.6h1.0v1.0h-1.0zM63.6 71.8h1.0v1.0h-1.0zM68.7 69.2h1.0v1.0h-1.0zM52.9 79.5h1.0v1.0h-1.0zM57.8 78.3h1.0v1.0h-1.0zM67.3 66.8h1.0v1.0h-1.0zM71.7 65.0h1.0v1.0h-1.0zM61.0 71.2h1.0v1.0h-1.0zM70.9 61.6h1.0v1.0h-1.0zM66.5 64.0h1.0v1.0h-1.0zM61.1 75.9h1.0v1.0h-1.0zM79.2 52.8h1.0v1.0h-1.0zM52.1 78.6h1.0v1.0h-1.0zM50.9 75.6h1.0v1.0h-1.0zM81.4 49.4h1.0v1.0h-1.0zM67.2 64.2h1.0v1.0h-1.0zM80.2 52.8h1.0v1.0h-1.0zM78.9 60.0h1.0v1.0h-1.0zM52.9 78.8h1.0v1.0h-1.0zM70.6 62.8h1.0v1.0h-1.0zM71.9 58.9h1.0v1.0h-1.0zM60.9 77.4h1.0v1.0h-1.0zM71.9 60.5h1.0v1.0h-1.0zM79.4 56.6h1.0v1.0h-1.0zM66.6 63.0h1.0v1.0h-1.0zM64.3 74.2h1.0v1.0h-1.0zM69.4 60.6h1.0v1.0h-1.0zM75.5 60.9h1.0v1.0h-1.0zM57.2 79.3h1.0v1.0h-1.0zM80.5 56.2h1.0v1.0h-1.0zM66.4 67.5h1.0v1.0h-1.0zM62.3 72.8h1.0v1.0h-1.0zM57.4 79.9h1.0v1.0h-1.0zM58.0 74.8h1.0v1.0h-1.0zM55.1 74.7h1.0v1.0h-1.0zM70.4 65.5h1.0v1.0h-1.0zM54.2 77.0h1.0v1.0h-1.0zM57.4 69.6h1.0v1.0h-1.0zM67.2 70.0h1.0v1.0h-1.0zM70.1 65.7h1.0v1.0h-1.0zM86.4 53.1h1.0v1.0h-1.0zM74.6 64.1h1.0v1.0h-1.0zM61.0 73.7h1.0v1.0h-1.0zM70.4 60.5h1.0v1.0h-1.0zM68.5 68.3h1.0v1.0h-1.0zM59.3 77.8h1.0v1.0h-1.0zM62.1 74.9h1.0v1.0h-1.0zM64.3 71.8h1.0v1.0h-1.0zM77.8 60.3h1.0v1.0h-1.0z" fill="#f0f" fill-opacity="0.85"/>
<line x1="33.60" y1="104.80" x2="123.70" y2="18.40" stroke="#1a1a1a" stroke-width="1.15" stroke-dasharray="3.4 2.65"/>
<path d="M33.60 81.47H57.93V104.80" fill="none" stroke="#1030ff" stroke-width="1.35" stroke-dasharray="3.8 2.4"/>
<rect x="155.60" y="18.40" width="90.30" height="86.40" fill="none" stroke="#777" stroke-width="0.55"/>
<path d="M155.60 104.80v-1.2M155.60 18.40v1.2M155.60 104.80h1.2M245.90 104.80h-1.2M173.66 104.80v-1.2M173.66 18.40v1.2M155.60 87.52h1.2M245.90 87.52h-1.2M191.72 104.80v-1.2M191.72 18.40v1.2M155.60 70.24h1.2M245.90 70.24h-1.2M209.78 104.80v-1.2M209.78 18.40v1.2M155.60 52.96h1.2M245.90 52.96h-1.2M227.84 104.80v-1.2M227.84 18.40v1.2M155.60 35.68h1.2M245.90 35.68h-1.2M245.90 104.80v-1.2M245.90 18.40v1.2M155.60 18.40h1.2M245.90 18.40h-1.2" stroke="#777" stroke-width="0.5" fill="none"/>
<g font-size="4.7" fill="#444" font-family="'Liberation Sans', sans-serif">
<text x="155.60" y="110.79" text-anchor="middle">0</text>
<text x="154.20" y="106.49" text-anchor="end">0</text>
<text x="173.66" y="110.79" text-anchor="middle">0.2</text>
<text x="154.20" y="89.21" text-anchor="end">0.2</text>
<text x="191.72" y="110.79" text-anchor="middle">0.4</text>
<text x="154.20" y="71.93" text-anchor="end">0.4</text>
<text x="209.78" y="110.79" text-anchor="middle">0.6</text>
<text x="154.20" y="54.65" text-anchor="end">0.6</text>
<text x="227.84" y="110.79" text-anchor="middle">0.8</text>
<text x="154.20" y="37.37" text-anchor="end">0.8</text>
<text x="245.90" y="110.79" text-anchor="middle">1</text>
<text x="154.20" y="20.09" text-anchor="end">1</text>
</g>
<path d="M164.0 90.4h1.15v1.15h-1.15zM166.9 100.2h1.15v1.15h-1.15zM163.6 98.0h1.15v1.15h-1.15zM161.5 91.6h1.15v1.15h-1.15zM158.7 97.4h1.15v1.15h-1.15zM168.7 89.5h1.15v1.15h-1.15zM160.0 86.6h1.15v1.15h-1.15zM168.8 91.0h1.15v1.15h-1.15zM166.4 92.5h1.15v1.15h-1.15zM157.2 101.8h1.15v1.15h-1.15zM173.3 90.7h1.15v1.15h-1.15zM156.2 97.4h1.15v1.15h-1.15zM165.8 101.0h1.15v1.15h-1.15zM157.1 101.9h1.15v1.15h-1.15zM168.1 96.6h1.15v1.15h-1.15zM159.1 101.6h1.15v1.15h-1.15zM159.0 101.3h1.15v1.15h-1.15zM161.9 103.6h1.15v1.15h-1.15zM164.8 91.2h1.15v1.15h-1.15zM158.6 96.9h1.15v1.15h-1.15zM169.3 89.4h1.15v1.15h-1.15zM165.2 93.5h1.15v1.15h-1.15zM165.8 90.9h1.15v1.15h-1.15zM162.8 98.3h1.15v1.15h-1.15zM173.5 92.0h1.15v1.15h-1.15zM167.7 94.2h1.15v1.15h-1.15zM157.8 91.7h1.15v1.15h-1.15zM178.4 81.9h1.15v1.15h-1.15zM165.6 100.1h1.15v1.15h-1.15zM161.7 98.8h1.15v1.15h-1.15zM167.4 89.2h1.15v1.15h-1.15zM163.8 82.8h1.15v1.15h-1.15zM164.0 85.2h1.15v1.15h-1.15zM173.0 98.1h1.15v1.15h-1.15zM166.6 85.5h1.15v1.15h-1.15zM166.8 102.9h1.15v1.15h-1.15zM156.2 101.1h1.15v1.15h-1.15zM162.3 86.7h1.15v1.15h-1.15zM175.1 88.4h1.15v1.15h-1.15zM163.3 102.2h1.15v1.15h-1.15zM155.3 88.8h1.15v1.15h-1.15zM159.6 87.4h1.15v1.15h-1.15zM156.0 101.0h1.15v1.15h-1.15zM179.2 89.8h1.15v1.15h-1.15zM168.3 93.6h1.15v1.15h-1.15zM172.7 94.3h1.15v1.15h-1.15zM157.9 84.2h1.15v1.15h-1.15zM160.6 92.6h1.15v1.15h-1.15zM162.1 95.2h1.15v1.15h-1.15zM178.9 81.7h1.15v1.15h-1.15zM164.2 104.0h1.15v1.15h-1.15zM165.7 95.2h1.15v1.15h-1.15zM161.3 95.8h1.15v1.15h-1.15zM162.8 104.0h1.15v1.15h-1.15zM174.6 92.1h1.15v1.15h-1.15zM162.6 94.6h1.15v1.15h-1.15zM173.6 90.8h1.15v1.15h-1.15zM160.1 99.9h1.15v1.15h-1.15zM155.3 85.0h1.15v1.15h-1.15zM169.9 93.9h1.15v1.15h-1.15zM163.5 100.3h1.15v1.15h-1.15zM162.0 101.5h1.15v1.15h-1.15zM166.9 98.2h1.15v1.15h-1.15zM178.6 87.3h1.15v1.15h-1.15zM156.8 95.0h1.15v1.15h-1.15zM161.1 92.4h1.15v1.15h-1.15zM172.0 101.4h1.15v1.15h-1.15zM169.8 97.8h1.15v1.15h-1.15zM158.9 98.8h1.15v1.15h-1.15zM169.4 104.2h1.15v1.15h-1.15zM169.9 82.1h1.15v1.15h-1.15zM157.9 102.0h1.15v1.15h-1.15zM176.0 93.0h1.15v1.15h-1.15zM173.1 99.5h1.15v1.15h-1.15zM157.2 98.6h1.15v1.15h-1.15zM175.6 87.4h1.15v1.15h-1.15zM172.3 89.3h1.15v1.15h-1.15zM173.6 87.3h1.15v1.15h-1.15zM166.8 101.1h1.15v1.15h-1.15zM159.0 100.8h1.15v1.15h-1.15zM177.0 87.5h1.15v1.15h-1.15zM161.9 83.5h1.15v1.15h-1.15zM163.6 88.9h1.15v1.15h-1.15zM166.7 98.0h1.15v1.15h-1.15zM168.5 90.7h1.15v1.15h-1.15zM168.0 94.3h1.15v1.15h-1.15zM159.6 99.2h1.15v1.15h-1.15zM158.3 103.1h1.15v1.15h-1.15zM156.8 97.8h1.15v1.15h-1.15zM160.2 82.3h1.15v1.15h-1.15zM155.1 92.3h1.15v1.15h-1.15zM160.7 93.6h1.15v1.15h-1.15zM156.5 81.7h1.15v1.15h-1.15zM160.4 99.8h1.15v1.15h-1.15zM164.9 83.7h1.15v1.15h-1.15zM166.9 98.8h1.15v1.15h-1.15zM174.9 84.3h1.15v1.15h-1.15zM155.7 103.5h1.15v1.15h-1.15zM157.8 95.5h1.15v1.15h-1.15zM158.9 99.2h1.15v1.15h-1.15zM169.6 94.4h1.15v1.15h-1.15zM173.6 85.4h1.15v1.15h-1.15zM155.4 91.2h1.15v1.15h-1.15zM171.0 85.4h1.15v1.15h-1.15zM156.3 101.9h1.15v1.15h-1.15zM162.1 93.3h1.15v1.15h-1.15zM168.0 99.7h1.15v1.15h-1.15zM155.7 92.4h1.15v1.15h-1.15zM155.6 100.3h1.15v1.15h-1.15zM158.5 99.7h1.15v1.15h-1.15zM175.8 84.9h1.15v1.15h-1.15zM163.9 101.4h1.15v1.15h-1.15zM160.6 98.6h1.15v1.15h-1.15zM168.6 99.2h1.15v1.15h-1.15zM178.1 83.5h1.15v1.15h-1.15zM164.3 98.9h1.15v1.15h-1.15zM158.7 100.4h1.15v1.15h-1.15zM163.8 98.5h1.15v1.15h-1.15zM164.2 89.7h1.15v1.15h-1.15zM165.8 104.0h1.15v1.15h-1.15zM166.3 101.8h1.15v1.15h-1.15zM155.6 102.6h1.15v1.15h-1.15zM157.8 93.5h1.15v1.15h-1.15zM164.4 103.6h1.15v1.15h-1.15zM171.1 83.1h1.15v1.15h-1.15zM173.1 94.8h1.15v1.15h-1.15zM173.0 91.2h1.15v1.15h-1.15zM178.1 89.1h1.15v1.15h-1.15zM161.5 104.0h1.15v1.15h-1.15zM172.2 83.3h1.15v1.15h-1.15zM163.5 94.3h1.15v1.15h-1.15zM164.2 101.1h1.15v1.15h-1.15zM171.3 91.9h1.15v1.15h-1.15zM155.1 99.6h1.15v1.15h-1.15zM155.3 90.2h1.15v1.15h-1.15zM169.9 94.1h1.15v1.15h-1.15zM160.4 104.0h1.15v1.15h-1.15zM158.6 102.6h1.15v1.15h-1.15zM162.9 103.0h1.15v1.15h-1.15zM167.5 93.1h1.15v1.15h-1.15zM177.0 81.5h1.15v1.15h-1.15zM171.0 97.7h1.15v1.15h-1.15zM165.7 101.3h1.15v1.15h-1.15zM159.0 93.2h1.15v1.15h-1.15zM163.6 97.6h1.15v1.15h-1.15zM167.3 103.2h1.15v1.15h-1.15zM175.8 95.2h1.15v1.15h-1.15zM177.3 94.7h1.15v1.15h-1.15zM177.7 85.1h1.15v1.15h-1.15zM161.9 103.4h1.15v1.15h-1.15zM158.7 98.4h1.15v1.15h-1.15zM173.5 81.6h1.15v1.15h-1.15zM167.4 99.2h1.15v1.15h-1.15zM173.8 83.0h1.15v1.15h-1.15zM174.6 92.7h1.15v1.15h-1.15zM158.7 97.5h1.15v1.15h-1.15zM171.8 88.8h1.15v1.15h-1.15zM173.8 89.7h1.15v1.15h-1.15zM156.7 103.4h1.15v1.15h-1.15zM159.0 90.3h1.15v1.15h-1.15zM171.5 96.3h1.15v1.15h-1.15zM171.3 103.5h1.15v1.15h-1.15zM172.8 84.5h1.15v1.15h-1.15zM161.5 102.7h1.15v1.15h-1.15zM159.2 100.4h1.15v1.15h-1.15zM168.9 88.8h1.15v1.15h-1.15zM163.5 87.4h1.15v1.15h-1.15zM162.8 103.9h1.15v1.15h-1.15zM162.7 84.2h1.15v1.15h-1.15zM158.1 101.3h1.15v1.15h-1.15zM178.8 83.0h1.15v1.15h-1.15zM159.6 85.5h1.15v1.15h-1.15zM173.4 97.6h1.15v1.15h-1.15zM172.6 90.6h1.15v1.15h-1.15zM174.8 96.2h1.15v1.15h-1.15zM164.7 91.5h1.15v1.15h-1.15zM166.6 98.1h1.15v1.15h-1.15zM163.9 87.9h1.15v1.15h-1.15zM169.3 88.5h1.15v1.15h-1.15zM156.3 102.5h1.15v1.15h-1.15zM171.3 87.8h1.15v1.15h-1.15zM156.6 101.3h1.15v1.15h-1.15zM176.1 84.3h1.15v1.15h-1.15zM169.6 84.8h1.15v1.15h-1.15zM165.1 83.8h1.15v1.15h-1.15zM156.3 102.7h1.15v1.15h-1.15zM166.0 81.3h1.15v1.15h-1.15zM168.5 102.8h1.15v1.15h-1.15zM161.3 97.2h1.15v1.15h-1.15zM179.1 103.4h1.15v1.15h-1.15zM179.3 85.0h1.15v1.15h-1.15zM174.4 90.0h1.15v1.15h-1.15zM171.8 95.2h1.15v1.15h-1.15zM178.0 81.3h1.15v1.15h-1.15zM175.2 81.0h1.15v1.15h-1.15zM169.3 100.3h1.15v1.15h-1.15zM168.9 90.0h1.15v1.15h-1.15zM162.0 95.6h1.15v1.15h-1.15zM174.4 103.7h1.15v1.15h-1.15zM166.3 87.6h1.15v1.15h-1.15zM164.7 86.5h1.15v1.15h-1.15zM159.9 93.6h1.15v1.15h-1.15zM163.2 103.3h1.15v1.15h-1.15zM164.0 82.9h1.15v1.15h-1.15zM155.2 99.8h1.15v1.15h-1.15zM155.4 101.9h1.15v1.15h-1.15zM162.5 91.8h1.15v1.15h-1.15zM156.5 96.7h1.15v1.15h-1.15zM158.5 88.8h1.15v1.15h-1.15zM162.4 104.1h1.15v1.15h-1.15zM171.7 82.0h1.15v1.15h-1.15zM157.1 102.9h1.15v1.15h-1.15zM159.7 97.7h1.15v1.15h-1.15zM176.0 104.0h1.15v1.15h-1.15zM176.6 84.1h1.15v1.15h-1.15zM178.4 91.9h1.15v1.15h-1.15zM170.1 101.7h1.15v1.15h-1.15zM162.6 103.3h1.15v1.15h-1.15zM161.6 95.1h1.15v1.15h-1.15zM170.7 81.0h1.15v1.15h-1.15zM166.5 81.5h1.15v1.15h-1.15zM159.6 95.3h1.15v1.15h-1.15zM177.8 94.0h1.15v1.15h-1.15zM167.1 92.8h1.15v1.15h-1.15zM162.1 92.6h1.15v1.15h-1.15zM155.1 101.2h1.15v1.15h-1.15zM159.7 100.8h1.15v1.15h-1.15zM155.9 92.7h1.15v1.15h-1.15zM156.5 103.0h1.15v1.15h-1.15zM156.0 101.8h1.15v1.15h-1.15zM177.5 88.9h1.15v1.15h-1.15zM158.7 99.2h1.15v1.15h-1.15zM164.7 95.9h1.15v1.15h-1.15zM163.5 101.8h1.15v1.15h-1.15zM160.6 100.1h1.15v1.15h-1.15zM161.3 97.1h1.15v1.15h-1.15zM158.8 91.2h1.15v1.15h-1.15zM156.9 102.3h1.15v1.15h-1.15zM169.4 81.0h1.15v1.15h-1.15zM175.9 82.1h1.15v1.15h-1.15zM162.8 93.4h1.15v1.15h-1.15zM168.5 100.1h1.15v1.15h-1.15zM166.2 100.8h1.15v1.15h-1.15zM161.4 86.3h1.15v1.15h-1.15zM177.4 82.8h1.15v1.15h-1.15zM175.0 91.2h1.15v1.15h-1.15zM174.8 89.4h1.15v1.15h-1.15zM178.1 84.1h1.15v1.15h-1.15zM155.0 99.6h1.15v1.15h-1.15zM165.4 92.1h1.15v1.15h-1.15zM177.6 92.4h1.15v1.15h-1.15zM159.5 98.2h1.15v1.15h-1.15zM165.8 102.1h1.15v1.15h-1.15zM161.5 99.1h1.15v1.15h-1.15zM160.9 103.3h1.15v1.15h-1.15zM173.0 98.6h1.15v1.15h-1.15zM155.4 92.1h1.15v1.15h-1.15zM163.8 90.4h1.15v1.15h-1.15zM169.0 93.5h1.15v1.15h-1.15zM171.1 87.5h1.15v1.15h-1.15zM156.5 95.2h1.15v1.15h-1.15zM176.6 87.1h1.15v1.15h-1.15zM174.3 94.7h1.15v1.15h-1.15zM162.5 88.3h1.15v1.15h-1.15zM158.4 87.0h1.15v1.15h-1.15zM155.9 84.9h1.15v1.15h-1.15zM161.0 101.6h1.15v1.15h-1.15zM171.3 88.4h1.15v1.15h-1.15zM174.0 104.1h1.15v1.15h-1.15zM161.4 96.5h1.15v1.15h-1.15zM159.0 92.5h1.15v1.15h-1.15zM161.4 103.9h1.15v1.15h-1.15zM178.4 103.8h1.15v1.15h-1.15zM156.5 100.0h1.15v1.15h-1.15zM157.8 97.5h1.15v1.15h-1.15zM170.8 89.0h1.15v1.15h-1.15zM157.3 101.0h1.15v1.15h-1.15zM160.0 96.5h1.15v1.15h-1.15zM173.8 83.5h1.15v1.15h-1.15zM160.8 98.2h1.15v1.15h-1.15zM168.2 87.3h1.15v1.15h-1.15zM167.5 92.0h1.15v1.15h-1.15zM160.0 103.5h1.15v1.15h-1.15zM160.5 102.6h1.15v1.15h-1.15zM175.8 97.8h1.15v1.15h-1.15zM156.4 99.9h1.15v1.15h-1.15zM159.0 90.0h1.15v1.15h-1.15zM167.3 101.0h1.15v1.15h-1.15zM166.7 102.0h1.15v1.15h-1.15zM165.5 81.4h1.15v1.15h-1.15zM160.8 95.3h1.15v1.15h-1.15zM165.9 88.2h1.15v1.15h-1.15zM173.3 102.2h1.15v1.15h-1.15zM174.0 93.9h1.15v1.15h-1.15zM166.5 102.8h1.15v1.15h-1.15zM155.5 104.1h1.15v1.15h-1.15zM157.6 103.7h1.15v1.15h-1.15zM161.2 87.1h1.15v1.15h-1.15zM167.5 93.3h1.15v1.15h-1.15zM162.5 101.5h1.15v1.15h-1.15zM176.8 88.0h1.15v1.15h-1.15zM162.8 100.6h1.15v1.15h-1.15zM174.7 103.5h1.15v1.15h-1.15zM168.3 98.4h1.15v1.15h-1.15zM176.9 92.0h1.15v1.15h-1.15zM165.2 92.0h1.15v1.15h-1.15zM167.6 96.6h1.15v1.15h-1.15zM155.4 101.8h1.15v1.15h-1.15zM175.4 100.9h1.15v1.15h-1.15zM156.5 82.7h1.15v1.15h-1.15zM167.3 90.6h1.15v1.15h-1.15zM172.0 95.6h1.15v1.15h-1.15zM159.1 101.1h1.15v1.15h-1.15zM169.4 91.7h1.15v1.15h-1.15zM166.4 100.4h1.15v1.15h-1.15zM166.8 88.6h1.15v1.15h-1.15zM172.1 92.1h1.15v1.15h-1.15zM162.4 83.7h1.15v1.15h-1.15zM170.4 89.0h1.15v1.15h-1.15zM167.3 81.7h1.15v1.15h-1.15zM158.7 99.3h1.15v1.15h-1.15zM166.8 81.3h1.15v1.15h-1.15zM165.0 101.0h1.15v1.15h-1.15zM161.7 101.0h1.15v1.15h-1.15zM169.9 101.0h1.15v1.15h-1.15zM155.9 102.4h1.15v1.15h-1.15zM162.5 90.9h1.15v1.15h-1.15zM178.6 86.2h1.15v1.15h-1.15zM170.9 91.6h1.15v1.15h-1.15zM168.9 98.7h1.15v1.15h-1.15z" fill="#000"/>
<path d="M183.7 84.1h1.0v1.0h-1.0zM191.6 88.6h1.0v1.0h-1.0zM190.0 77.3h1.0v1.0h-1.0zM179.9 81.0h1.0v1.0h-1.0zM191.1 79.8h1.0v1.0h-1.0zM181.1 98.0h1.0v1.0h-1.0zM181.6 80.1h1.0v1.0h-1.0zM181.7 83.7h1.0v1.0h-1.0zM189.0 74.1h1.0v1.0h-1.0zM194.9 75.6h1.0v1.0h-1.0zM180.4 83.8h1.0v1.0h-1.0zM181.6 87.9h1.0v1.0h-1.0zM194.1 71.8h1.0v1.0h-1.0zM181.7 79.7h1.0v1.0h-1.0zM187.6 76.8h1.0v1.0h-1.0zM180.1 80.5h1.0v1.0h-1.0zM189.4 73.5h1.0v1.0h-1.0zM183.2 85.9h1.0v1.0h-1.0zM181.1 87.6h1.0v1.0h-1.0zM181.7 80.1h1.0v1.0h-1.0zM188.4 84.8h1.0v1.0h-1.0zM193.0 73.2h1.0v1.0h-1.0zM191.9 75.6h1.0v1.0h-1.0zM187.9 79.4h1.0v1.0h-1.0zM188.8 77.5h1.0v1.0h-1.0zM187.8 81.7h1.0v1.0h-1.0zM184.5 79.9h1.0v1.0h-1.0zM190.7 72.0h1.0v1.0h-1.0zM179.6 86.4h1.0v1.0h-1.0zM183.2 89.7h1.0v1.0h-1.0zM191.2 90.5h1.0v1.0h-1.0zM179.8 88.6h1.0v1.0h-1.0zM182.8 86.9h1.0v1.0h-1.0zM185.8 84.6h1.0v1.0h-1.0zM184.5 81.3h1.0v1.0h-1.0zM184.1 83.6h1.0v1.0h-1.0zM201.4 63.9h1.0v1.0h-1.0zM179.7 82.8h1.0v1.0h-1.0zM189.5 73.7h1.0v1.0h-1.0zM183.2 79.2h1.0v1.0h-1.0zM187.3 75.9h1.0v1.0h-1.0zM189.7 90.7h1.0v1.0h-1.0zM191.4 72.4h1.0v1.0h-1.0zM183.4 85.1h1.0v1.0h-1.0zM186.5 84.7h1.0v1.0h-1.0zM186.0 89.5h1.0v1.0h-1.0zM184.7 87.6h1.0v1.0h-1.0zM185.2 77.7h1.0v1.0h-1.0zM181.7 85.6h1.0v1.0h-1.0zM188.2 75.8h1.0v1.0h-1.0zM185.2 87.0h1.0v1.0h-1.0zM184.3 78.8h1.0v1.0h-1.0zM181.9 93.4h1.0v1.0h-1.0zM189.8 80.7h1.0v1.0h-1.0zM194.2 71.1h1.0v1.0h-1.0zM190.6 73.8h1.0v1.0h-1.0zM188.6 76.5h1.0v1.0h-1.0zM187.2 78.3h1.0v1.0h-1.0zM197.9 68.1h1.0v1.0h-1.0zM191.1 81.2h1.0v1.0h-1.0zM179.9 83.9h1.0v1.0h-1.0zM187.6 81.7h1.0v1.0h-1.0zM180.1 88.6h1.0v1.0h-1.0zM186.4 82.5h1.0v1.0h-1.0zM181.3 82.8h1.0v1.0h-1.0zM187.2 94.0h1.0v1.0h-1.0zM181.4 100.0h1.0v1.0h-1.0zM187.4 78.8h1.0v1.0h-1.0z" fill="#0f0" fill-opacity="0.85"/>
<path d="M165.9 78.9h1.0v1.0h-1.0zM201.5 57.8h1.0v1.0h-1.0zM177.3 75.8h1.0v1.0h-1.0zM172.9 78.2h1.0v1.0h-1.0zM178.4 72.0h1.0v1.0h-1.0zM179.7 75.3h1.0v1.0h-1.0zM183.6 75.9h1.0v1.0h-1.0zM172.5 75.4h1.0v1.0h-1.0zM188.0 67.2h1.0v1.0h-1.0zM198.7 62.4h1.0v1.0h-1.0zM183.9 69.7h1.0v1.0h-1.0zM178.0 72.2h1.0v1.0h-1.0zM179.4 70.6h1.0v1.0h-1.0zM179.5 80.4h1.0v1.0h-1.0zM175.8 74.1h1.0v1.0h-1.0zM194.5 60.6h1.0v1.0h-1.0zM184.6 59.1h1.0v1.0h-1.0zM207.5 51.9h1.0v1.0h-1.0zM192.4 66.5h1.0v1.0h-1.0zM169.3 78.2h1.0v1.0h-1.0zM189.6 69.6h1.0v1.0h-1.0zM178.6 74.1h1.0v1.0h-1.0zM186.5 72.1h1.0v1.0h-1.0zM190.2 69.5h1.0v1.0h-1.0zM177.7 77.1h1.0v1.0h-1.0zM178.4 67.0h1.0v1.0h-1.0zM192.8 63.9h1.0v1.0h-1.0zM178.4 69.0h1.0v1.0h-1.0zM179.8 78.9h1.0v1.0h-1.0zM192.1 66.5h1.0v1.0h-1.0zM184.0 73.5h1.0v1.0h-1.0zM184.6 69.9h1.0v1.0h-1.0zM178.5 75.1h1.0v1.0h-1.0zM174.2 77.2h1.0v1.0h-1.0zM187.9 64.9h1.0v1.0h-1.0zM193.4 59.8h1.0v1.0h-1.0zM177.4 75.8h1.0v1.0h-1.0zM184.5 74.6h1.0v1.0h-1.0zM192.7 62.9h1.0v1.0h-1.0zM178.7 79.1h1.0v1.0h-1.0zM177.8 80.1h1.0v1.0h-1.0zM187.5 68.1h1.0v1.0h-1.0zM188.3 72.0h1.0v1.0h-1.0zM176.8 79.7h1.0v1.0h-1.0zM183.8 74.9h1.0v1.0h-1.0zM193.0 60.9h1.0v1.0h-1.0zM186.8 73.4h1.0v1.0h-1.0zM176.9 76.9h1.0v1.0h-1.0zM182.8 73.2h1.0v1.0h-1.0zM183.3 74.8h1.0v1.0h-1.0zM184.5 76.0h1.0v1.0h-1.0zM188.5 69.7h1.0v1.0h-1.0zM179.2 72.4h1.0v1.0h-1.0zM179.1 73.7h1.0v1.0h-1.0zM171.0 74.9h1.0v1.0h-1.0zM191.0 67.8h1.0v1.0h-1.0zM178.6 77.6h1.0v1.0h-1.0zM166.6 80.5h1.0v1.0h-1.0zM189.4 66.8h1.0v1.0h-1.0zM182.3 70.4h1.0v1.0h-1.0zM176.6 73.4h1.0v1.0h-1.0zM186.1 65.5h1.0v1.0h-1.0zM193.8 67.0h1.0v1.0h-1.0zM177.0 78.3h1.0v1.0h-1.0zM181.6 73.4h1.0v1.0h-1.0zM193.5 66.1h1.0v1.0h-1.0zM179.6 80.8h1.0v1.0h-1.0zM182.3 75.1h1.0v1.0h-1.0zM188.7 67.9h1.0v1.0h-1.0zM192.7 65.8h1.0v1.0h-1.0zM190.7 64.5h1.0v1.0h-1.0zM181.1 76.8h1.0v1.0h-1.0zM184.2 66.2h1.0v1.0h-1.0zM182.4 70.6h1.0v1.0h-1.0zM205.8 51.7h1.0v1.0h-1.0zM187.6 69.3h1.0v1.0h-1.0zM179.3 79.4h1.0v1.0h-1.0zM176.9 80.4h1.0v1.0h-1.0zM177.2 79.5h1.0v1.0h-1.0zM185.1 74.0h1.0v1.0h-1.0zM179.3 80.1h1.0v1.0h-1.0zM172.2 70.4h1.0v1.0h-1.0zM177.8 67.6h1.0v1.0h-1.0zM185.8 70.9h1.0v1.0h-1.0zM181.2 75.0h1.0v1.0h-1.0zM183.6 71.7h1.0v1.0h-1.0zM176.2 75.1h1.0v1.0h-1.0zM178.0 79.1h1.0v1.0h-1.0zM179.4 71.6h1.0v1.0h-1.0zM165.0 80.6h1.0v1.0h-1.0zM178.5 76.7h1.0v1.0h-1.0zM190.7 65.1h1.0v1.0h-1.0zM184.8 63.6h1.0v1.0h-1.0zM188.9 68.9h1.0v1.0h-1.0zM183.6 72.4h1.0v1.0h-1.0zM178.0 75.3h1.0v1.0h-1.0zM179.9 72.3h1.0v1.0h-1.0zM191.3 65.5h1.0v1.0h-1.0zM176.7 76.8h1.0v1.0h-1.0zM183.2 73.4h1.0v1.0h-1.0zM173.8 79.8h1.0v1.0h-1.0zM181.1 78.5h1.0v1.0h-1.0zM180.2 69.6h1.0v1.0h-1.0zM166.4 79.6h1.0v1.0h-1.0zM182.4 75.1h1.0v1.0h-1.0zM185.3 74.8h1.0v1.0h-1.0zM178.5 64.5h1.0v1.0h-1.0zM194.8 61.5h1.0v1.0h-1.0zM177.5 79.3h1.0v1.0h-1.0zM180.9 77.3h1.0v1.0h-1.0zM177.5 79.5h1.0v1.0h-1.0zM198.8 57.5h1.0v1.0h-1.0zM181.5 76.2h1.0v1.0h-1.0zM179.5 76.4h1.0v1.0h-1.0zM182.9 73.4h1.0v1.0h-1.0zM173.4 76.9h1.0v1.0h-1.0zM199.9 60.4h1.0v1.0h-1.0zM192.0 67.6h1.0v1.0h-1.0zM175.6 80.7h1.0v1.0h-1.0zM185.5 71.9h1.0v1.0h-1.0zM177.5 69.4h1.0v1.0h-1.0zM182.2 77.2h1.0v1.0h-1.0zM188.0 65.6h1.0v1.0h-1.0zM175.7 79.1h1.0v1.0h-1.0zM172.8 80.5h1.0v1.0h-1.0zM176.0 77.8h1.0v1.0h-1.0zM181.2 74.9h1.0v1.0h-1.0zM172.4 74.5h1.0v1.0h-1.0zM163.7 74.7h1.0v1.0h-1.0zM169.9 78.8h1.0v1.0h-1.0zM198.9 61.2h1.0v1.0h-1.0zM204.2 51.3h1.0v1.0h-1.0zM171.9 80.2h1.0v1.0h-1.0zM168.3 79.4h1.0v1.0h-1.0zM189.4 69.0h1.0v1.0h-1.0zM171.6 79.9h1.0v1.0h-1.0zM181.6 69.1h1.0v1.0h-1.0zM193.1 66.5h1.0v1.0h-1.0zM174.6 79.7h1.0v1.0h-1.0zM177.9 74.6h1.0v1.0h-1.0zM187.2 71.2h1.0v1.0h-1.0zM175.4 79.1h1.0v1.0h-1.0zM179.1 66.3h1.0v1.0h-1.0zM177.2 78.5h1.0v1.0h-1.0zM183.5 72.6h1.0v1.0h-1.0zM178.0 74.8h1.0v1.0h-1.0zM184.5 70.8h1.0v1.0h-1.0zM179.8 72.1h1.0v1.0h-1.0zM171.6 80.3h1.0v1.0h-1.0zM169.6 78.6h1.0v1.0h-1.0z" fill="#f0f" fill-opacity="0.85"/>
<line x1="155.60" y1="104.80" x2="245.90" y2="18.40" stroke="#1a1a1a" stroke-width="1.15" stroke-dasharray="3.4 2.65"/>
<path d="M155.60 81.47H179.98V104.80" fill="none" stroke="#1030ff" stroke-width="1.35" stroke-dasharray="3.8 2.4"/>
<rect x="328.40" y="18.40" width="93.30" height="86.40" fill="none" stroke="#777" stroke-width="0.55"/>
<path d="M328.40 104.80v-1.2M328.40 18.40v1.2M328.40 104.80h1.2M421.70 104.80h-1.2M347.06 104.80v-1.2M347.06 18.40v1.2M328.40 87.52h1.2M421.70 87.52h-1.2M365.72 104.80v-1.2M365.72 18.40v1.2M328.40 70.24h1.2M421.70 70.24h-1.2M384.38 104.80v-1.2M384.38 18.40v1.2M328.40 52.96h1.2M421.70 52.96h-1.2M403.04 104.80v-1.2M403.04 18.40v1.2M328.40 35.68h1.2M421.70 35.68h-1.2M421.70 104.80v-1.2M421.70 18.40v1.2M328.40 18.40h1.2M421.70 18.40h-1.2" stroke="#777" stroke-width="0.5" fill="none"/>
<g font-size="4.1" fill="#444" font-family="'Liberation Sans', sans-serif">
<text x="328.40" y="110.58" text-anchor="middle">0</text>
<text x="327.00" y="106.28" text-anchor="end">0</text>
<text x="347.06" y="110.58" text-anchor="middle">0.2</text>
<text x="327.00" y="89.00" text-anchor="end">0.2</text>
<text x="365.72" y="110.58" text-anchor="middle">0.4</text>
<text x="327.00" y="71.72" text-anchor="end">0.4</text>
<text x="384.38" y="110.58" text-anchor="middle">0.6</text>
<text x="327.00" y="54.44" text-anchor="end">0.6</text>
<text x="403.04" y="110.58" text-anchor="middle">0.8</text>
<text x="327.00" y="37.16" text-anchor="end">0.8</text>
<text x="421.70" y="110.58" text-anchor="middle">1</text>
<text x="327.00" y="19.88" text-anchor="end">1</text>
</g>
<path d="M339.8 96.9h1.15v1.15h-1.15zM344.2 92.4h1.15v1.15h-1.15zM333.2 101.1h1.15v1.15h-1.15zM338.7 87.1h1.15v1.15h-1.15zM349.7 102.2h1.15v1.15h-1.15zM329.7 104.1h1.15v1.15h-1.15zM331.3 103.9h1.15v1.15h-1.15zM328.4 101.1h1.15v1.15h-1.15zM336.9 92.1h1.15v1.15h-1.15zM328.1 86.8h1.15v1.15h-1.15zM337.3 101.4h1.15v1.15h-1.15zM342.5 100.6h1.15v1.15h-1.15zM332.9 101.6h1.15v1.15h-1.15zM343.3 92.5h1.15v1.15h-1.15zM340.9 81.5h1.15v1.15h-1.15zM328.1 93.8h1.15v1.15h-1.15zM340.0 104.1h1.15v1.15h-1.15zM332.5 88.6h1.15v1.15h-1.15zM336.2 100.2h1.15v1.15h-1.15zM333.0 103.7h1.15v1.15h-1.15zM343.8 87.5h1.15v1.15h-1.15zM336.9 103.2h1.15v1.15h-1.15zM330.3 102.2h1.15v1.15h-1.15zM339.6 82.2h1.15v1.15h-1.15zM346.3 85.5h1.15v1.15h-1.15zM333.6 98.0h1.15v1.15h-1.15zM331.7 96.9h1.15v1.15h-1.15zM335.5 101.0h1.15v1.15h-1.15zM351.0 92.3h1.15v1.15h-1.15zM343.2 102.4h1.15v1.15h-1.15zM348.3 85.8h1.15v1.15h-1.15zM335.3 101.3h1.15v1.15h-1.15zM329.1 101.5h1.15v1.15h-1.15zM340.0 88.7h1.15v1.15h-1.15zM334.9 86.0h1.15v1.15h-1.15zM331.7 93.3h1.15v1.15h-1.15zM336.0 102.8h1.15v1.15h-1.15zM337.6 100.2h1.15v1.15h-1.15zM332.7 99.3h1.15v1.15h-1.15zM333.2 100.2h1.15v1.15h-1.15zM337.3 98.1h1.15v1.15h-1.15zM348.7 98.5h1.15v1.15h-1.15zM340.7 90.1h1.15v1.15h-1.15zM333.0 103.1h1.15v1.15h-1.15zM332.9 102.0h1.15v1.15h-1.15zM331.3 101.2h1.15v1.15h-1.15zM331.2 93.0h1.15v1.15h-1.15zM338.8 93.6h1.15v1.15h-1.15zM329.0 93.7h1.15v1.15h-1.15zM338.0 82.8h1.15v1.15h-1.15zM334.9 98.8h1.15v1.15h-1.15zM345.3 103.0h1.15v1.15h-1.15zM343.7 82.6h1.15v1.15h-1.15zM343.6 94.0h1.15v1.15h-1.15zM335.2 99.4h1.15v1.15h-1.15zM343.0 96.7h1.15v1.15h-1.15zM334.4 100.4h1.15v1.15h-1.15zM340.4 90.2h1.15v1.15h-1.15zM334.0 102.4h1.15v1.15h-1.15zM337.0 91.8h1.15v1.15h-1.15zM328.6 87.9h1.15v1.15h-1.15zM332.1 99.7h1.15v1.15h-1.15zM352.1 81.6h1.15v1.15h-1.15zM331.9 98.2h1.15v1.15h-1.15zM343.7 81.3h1.15v1.15h-1.15zM342.5 97.8h1.15v1.15h-1.15zM344.6 95.4h1.15v1.15h-1.15zM341.0 89.4h1.15v1.15h-1.15zM328.7 103.2h1.15v1.15h-1.15zM328.8 98.9h1.15v1.15h-1.15zM331.2 96.0h1.15v1.15h-1.15zM330.2 97.5h1.15v1.15h-1.15zM329.2 94.5h1.15v1.15h-1.15zM329.8 102.5h1.15v1.15h-1.15zM339.8 88.3h1.15v1.15h-1.15zM330.9 100.6h1.15v1.15h-1.15zM351.5 93.9h1.15v1.15h-1.15zM343.4 89.1h1.15v1.15h-1.15zM339.5 101.9h1.15v1.15h-1.15zM344.2 90.7h1.15v1.15h-1.15zM332.6 88.1h1.15v1.15h-1.15zM350.7 101.7h1.15v1.15h-1.15zM348.1 92.2h1.15v1.15h-1.15zM344.7 93.0h1.15v1.15h-1.15zM337.9 81.9h1.15v1.15h-1.15zM348.1 86.2h1.15v1.15h-1.15zM345.3 96.8h1.15v1.15h-1.15zM342.8 89.7h1.15v1.15h-1.15zM335.0 100.4h1.15v1.15h-1.15zM339.8 101.2h1.15v1.15h-1.15zM331.1 95.3h1.15v1.15h-1.15zM331.0 94.3h1.15v1.15h-1.15zM344.7 103.9h1.15v1.15h-1.15zM346.4 104.1h1.15v1.15h-1.15zM348.4 96.5h1.15v1.15h-1.15zM339.6 98.3h1.15v1.15h-1.15zM329.1 103.7h1.15v1.15h-1.15zM338.1 104.1h1.15v1.15h-1.15zM346.5 100.3h1.15v1.15h-1.15zM338.0 98.0h1.15v1.15h-1.15zM337.2 86.1h1.15v1.15h-1.15zM331.6 104.2h1.15v1.15h-1.15zM330.7 89.3h1.15v1.15h-1.15zM328.8 88.1h1.15v1.15h-1.15zM349.7 103.3h1.15v1.15h-1.15zM342.3 93.3h1.15v1.15h-1.15zM330.0 102.0h1.15v1.15h-1.15zM336.2 101.3h1.15v1.15h-1.15zM328.4 100.2h1.15v1.15h-1.15zM331.4 93.1h1.15v1.15h-1.15zM344.8 104.2h1.15v1.15h-1.15zM342.6 96.2h1.15v1.15h-1.15zM337.9 98.7h1.15v1.15h-1.15zM332.8 88.7h1.15v1.15h-1.15zM342.6 89.6h1.15v1.15h-1.15zM351.7 87.0h1.15v1.15h-1.15zM336.7 83.0h1.15v1.15h-1.15zM328.7 94.6h1.15v1.15h-1.15zM328.5 104.1h1.15v1.15h-1.15zM328.9 83.2h1.15v1.15h-1.15zM351.8 103.3h1.15v1.15h-1.15zM339.5 83.3h1.15v1.15h-1.15zM348.0 86.8h1.15v1.15h-1.15zM330.6 101.2h1.15v1.15h-1.15zM332.5 97.5h1.15v1.15h-1.15zM343.7 92.7h1.15v1.15h-1.15zM349.8 96.4h1.15v1.15h-1.15zM334.4 87.3h1.15v1.15h-1.15zM328.6 103.8h1.15v1.15h-1.15zM348.8 93.2h1.15v1.15h-1.15zM333.2 102.5h1.15v1.15h-1.15zM345.1 96.3h1.15v1.15h-1.15zM330.3 87.6h1.15v1.15h-1.15zM343.8 85.8h1.15v1.15h-1.15zM348.1 102.3h1.15v1.15h-1.15zM344.7 89.2h1.15v1.15h-1.15zM334.8 103.4h1.15v1.15h-1.15zM344.7 85.5h1.15v1.15h-1.15zM330.0 97.3h1.15v1.15h-1.15zM333.7 101.3h1.15v1.15h-1.15zM336.3 91.6h1.15v1.15h-1.15zM349.2 103.9h1.15v1.15h-1.15zM349.3 82.9h1.15v1.15h-1.15zM346.9 81.5h1.15v1.15h-1.15zM352.1 97.4h1.15v1.15h-1.15zM335.0 100.1h1.15v1.15h-1.15zM331.3 82.8h1.15v1.15h-1.15zM332.1 83.2h1.15v1.15h-1.15zM347.7 83.2h1.15v1.15h-1.15zM351.9 83.3h1.15v1.15h-1.15zM343.9 90.9h1.15v1.15h-1.15zM338.0 104.2h1.15v1.15h-1.15zM333.1 88.2h1.15v1.15h-1.15zM347.9 82.5h1.15v1.15h-1.15zM329.1 100.1h1.15v1.15h-1.15zM331.5 99.6h1.15v1.15h-1.15zM347.8 87.3h1.15v1.15h-1.15zM348.3 91.6h1.15v1.15h-1.15zM333.8 103.8h1.15v1.15h-1.15zM332.9 93.6h1.15v1.15h-1.15zM336.6 98.4h1.15v1.15h-1.15zM339.5 87.5h1.15v1.15h-1.15zM329.2 91.7h1.15v1.15h-1.15zM348.0 98.2h1.15v1.15h-1.15zM339.3 101.7h1.15v1.15h-1.15zM346.1 103.3h1.15v1.15h-1.15zM331.9 88.9h1.15v1.15h-1.15zM351.4 103.2h1.15v1.15h-1.15zM344.0 84.9h1.15v1.15h-1.15zM348.1 101.3h1.15v1.15h-1.15zM328.4 89.4h1.15v1.15h-1.15zM328.5 99.6h1.15v1.15h-1.15zM345.2 102.6h1.15v1.15h-1.15zM333.5 98.8h1.15v1.15h-1.15zM338.9 87.7h1.15v1.15h-1.15zM330.3 89.7h1.15v1.15h-1.15zM352.3 88.5h1.15v1.15h-1.15zM338.5 99.4h1.15v1.15h-1.15zM347.8 86.1h1.15v1.15h-1.15zM328.8 103.3h1.15v1.15h-1.15zM337.9 101.4h1.15v1.15h-1.15zM328.6 82.9h1.15v1.15h-1.15zM349.4 93.4h1.15v1.15h-1.15zM328.7 91.8h1.15v1.15h-1.15zM328.8 100.3h1.15v1.15h-1.15zM339.5 99.1h1.15v1.15h-1.15zM328.8 89.0h1.15v1.15h-1.15zM330.9 95.1h1.15v1.15h-1.15zM336.8 88.1h1.15v1.15h-1.15zM338.4 84.7h1.15v1.15h-1.15zM340.7 95.3h1.15v1.15h-1.15zM341.7 85.8h1.15v1.15h-1.15zM335.2 93.0h1.15v1.15h-1.15zM341.6 81.5h1.15v1.15h-1.15zM330.3 94.6h1.15v1.15h-1.15zM332.9 81.2h1.15v1.15h-1.15zM346.8 92.9h1.15v1.15h-1.15zM330.2 87.2h1.15v1.15h-1.15zM331.7 85.7h1.15v1.15h-1.15zM332.1 84.5h1.15v1.15h-1.15zM337.9 97.2h1.15v1.15h-1.15zM327.8 102.6h1.15v1.15h-1.15zM328.1 104.1h1.15v1.15h-1.15zM337.4 83.1h1.15v1.15h-1.15zM330.4 101.2h1.15v1.15h-1.15zM343.4 85.3h1.15v1.15h-1.15zM346.7 95.0h1.15v1.15h-1.15zM340.5 95.8h1.15v1.15h-1.15zM343.8 82.4h1.15v1.15h-1.15zM335.6 93.7h1.15v1.15h-1.15zM328.4 103.5h1.15v1.15h-1.15zM336.8 86.5h1.15v1.15h-1.15zM335.1 103.3h1.15v1.15h-1.15zM341.0 93.3h1.15v1.15h-1.15zM331.8 95.2h1.15v1.15h-1.15zM347.3 84.0h1.15v1.15h-1.15zM332.6 102.9h1.15v1.15h-1.15zM336.1 98.5h1.15v1.15h-1.15zM351.0 83.9h1.15v1.15h-1.15zM332.9 85.8h1.15v1.15h-1.15zM344.0 98.8h1.15v1.15h-1.15zM340.2 102.3h1.15v1.15h-1.15zM341.4 85.4h1.15v1.15h-1.15zM328.3 100.4h1.15v1.15h-1.15zM336.3 89.0h1.15v1.15h-1.15zM327.9 96.6h1.15v1.15h-1.15zM332.2 91.7h1.15v1.15h-1.15zM344.1 101.8h1.15v1.15h-1.15zM328.6 92.6h1.15v1.15h-1.15zM337.9 100.8h1.15v1.15h-1.15zM345.0 83.1h1.15v1.15h-1.15zM342.0 87.8h1.15v1.15h-1.15zM337.5 101.9h1.15v1.15h-1.15zM348.6 81.7h1.15v1.15h-1.15zM347.7 91.2h1.15v1.15h-1.15zM348.9 84.3h1.15v1.15h-1.15zM343.3 87.3h1.15v1.15h-1.15zM337.0 84.8h1.15v1.15h-1.15zM343.1 103.6h1.15v1.15h-1.15zM337.4 100.8h1.15v1.15h-1.15zM346.3 88.8h1.15v1.15h-1.15zM329.5 86.7h1.15v1.15h-1.15zM338.6 101.8h1.15v1.15h-1.15zM349.0 95.3h1.15v1.15h-1.15zM350.8 98.4h1.15v1.15h-1.15zM331.6 84.4h1.15v1.15h-1.15zM332.3 96.3h1.15v1.15h-1.15zM350.0 88.7h1.15v1.15h-1.15zM334.5 90.0h1.15v1.15h-1.15zM328.5 98.7h1.15v1.15h-1.15zM344.4 81.1h1.15v1.15h-1.15zM336.2 85.8h1.15v1.15h-1.15zM345.0 99.5h1.15v1.15h-1.15zM337.8 97.0h1.15v1.15h-1.15zM338.4 101.7h1.15v1.15h-1.15zM336.3 83.0h1.15v1.15h-1.15zM333.2 101.4h1.15v1.15h-1.15zM349.9 81.4h1.15v1.15h-1.15zM343.1 98.2h1.15v1.15h-1.15zM346.6 91.1h1.15v1.15h-1.15zM332.3 89.1h1.15v1.15h-1.15zM350.5 88.6h1.15v1.15h-1.15zM348.8 83.2h1.15v1.15h-1.15zM338.6 94.5h1.15v1.15h-1.15zM340.2 99.4h1.15v1.15h-1.15zM329.5 89.6h1.15v1.15h-1.15zM345.8 104.0h1.15v1.15h-1.15zM330.6 91.4h1.15v1.15h-1.15zM339.3 103.8h1.15v1.15h-1.15zM329.7 84.5h1.15v1.15h-1.15zM328.8 84.6h1.15v1.15h-1.15zM341.4 88.2h1.15v1.15h-1.15zM338.2 92.4h1.15v1.15h-1.15zM346.6 101.5h1.15v1.15h-1.15zM352.5 83.9h1.15v1.15h-1.15zM329.0 104.0h1.15v1.15h-1.15zM342.0 99.1h1.15v1.15h-1.15zM340.5 103.6h1.15v1.15h-1.15zM342.5 93.3h1.15v1.15h-1.15zM339.6 91.1h1.15v1.15h-1.15zM340.0 103.0h1.15v1.15h-1.15zM337.2 99.4h1.15v1.15h-1.15zM339.4 91.8h1.15v1.15h-1.15zM343.7 96.9h1.15v1.15h-1.15zM329.1 100.3h1.15v1.15h-1.15zM336.6 103.6h1.15v1.15h-1.15zM329.9 82.9h1.15v1.15h-1.15zM327.8 98.7h1.15v1.15h-1.15zM331.5 101.5h1.15v1.15h-1.15zM338.8 95.0h1.15v1.15h-1.15zM340.3 93.2h1.15v1.15h-1.15zM347.6 81.5h1.15v1.15h-1.15zM338.1 99.9h1.15v1.15h-1.15zM349.6 85.0h1.15v1.15h-1.15zM335.7 100.1h1.15v1.15h-1.15zM345.2 100.8h1.15v1.15h-1.15zM339.8 103.4h1.15v1.15h-1.15zM341.8 100.3h1.15v1.15h-1.15zM332.7 103.5h1.15v1.15h-1.15zM351.1 84.0h1.15v1.15h-1.15zM339.4 92.4h1.15v1.15h-1.15zM328.4 97.4h1.15v1.15h-1.15zM333.5 93.6h1.15v1.15h-1.15zM345.1 90.4h1.15v1.15h-1.15zM328.3 96.7h1.15v1.15h-1.15zM345.3 101.5h1.15v1.15h-1.15zM340.4 100.7h1.15v1.15h-1.15zM344.9 94.8h1.15v1.15h-1.15zM339.8 92.6h1.15v1.15h-1.15zM351.1 83.0h1.15v1.15h-1.15zM334.5 102.4h1.15v1.15h-1.15zM340.4 99.3h1.15v1.15h-1.15zM328.4 94.8h1.15v1.15h-1.15zM339.8 87.7h1.15v1.15h-1.15zM336.3 97.6h1.15v1.15h-1.15zM352.5 95.7h1.15v1.15h-1.15zM351.3 81.2h1.15v1.15h-1.15zM329.9 104.1h1.15v1.15h-1.15zM328.3 103.2h1.15v1.15h-1.15zM329.6 100.8h1.15v1.15h-1.15zM344.7 100.8h1.15v1.15h-1.15zM339.6 97.5h1.15v1.15h-1.15zM339.3 90.4h1.15v1.15h-1.15zM337.5 94.4h1.15v1.15h-1.15zM327.9 98.4h1.15v1.15h-1.15zM340.4 86.6h1.15v1.15h-1.15zM331.1 83.3h1.15v1.15h-1.15zM350.5 101.0h1.15v1.15h-1.15zM336.4 93.5h1.15v1.15h-1.15zM331.3 98.9h1.15v1.15h-1.15zM334.1 81.0h1.15v1.15h-1.15zM334.5 96.2h1.15v1.15h-1.15zM335.7 97.1h1.15v1.15h-1.15zM328.0 100.6h1.15v1.15h-1.15zM342.8 101.7h1.15v1.15h-1.15zM330.6 103.2h1.15v1.15h-1.15zM341.2 104.2h1.15v1.15h-1.15zM341.7 86.4h1.15v1.15h-1.15zM343.9 91.2h1.15v1.15h-1.15zM333.2 104.1h1.15v1.15h-1.15zM333.2 103.0h1.15v1.15h-1.15zM335.5 86.6h1.15v1.15h-1.15zM330.2 101.7h1.15v1.15h-1.15zM350.1 81.1h1.15v1.15h-1.15zM327.9 91.6h1.15v1.15h-1.15zM349.5 96.8h1.15v1.15h-1.15zM333.2 102.8h1.15v1.15h-1.15zM335.4 103.5h1.15v1.15h-1.15zM352.3 99.1h1.15v1.15h-1.15zM336.8 102.0h1.15v1.15h-1.15zM344.4 96.3h1.15v1.15h-1.15zM336.1 93.6h1.15v1.15h-1.15zM350.3 97.2h1.15v1.15h-1.15zM344.5 99.1h1.15v1.15h-1.15zM337.9 84.3h1.15v1.15h-1.15zM329.0 94.1h1.15v1.15h-1.15zM334.9 81.7h1.15v1.15h-1.15zM338.2 99.0h1.15v1.15h-1.15zM333.0 99.1h1.15v1.15h-1.15zM339.3 88.6h1.15v1.15h-1.15zM331.4 102.3h1.15v1.15h-1.15zM338.3 81.5h1.15v1.15h-1.15zM339.2 99.6h1.15v1.15h-1.15zM343.2 85.1h1.15v1.15h-1.15zM345.3 95.9h1.15v1.15h-1.15zM344.8 87.1h1.15v1.15h-1.15zM336.4 99.2h1.15v1.15h-1.15zM337.3 89.2h1.15v1.15h-1.15zM334.9 91.2h1.15v1.15h-1.15zM350.7 82.5h1.15v1.15h-1.15zM339.7 102.9h1.15v1.15h-1.15zM333.5 104.0h1.15v1.15h-1.15zM341.7 82.7h1.15v1.15h-1.15zM343.5 85.2h1.15v1.15h-1.15zM339.1 103.2h1.15v1.15h-1.15zM334.4 100.2h1.15v1.15h-1.15zM337.2 94.1h1.15v1.15h-1.15zM328.9 103.1h1.15v1.15h-1.15zM333.2 96.5h1.15v1.15h-1.15zM330.1 81.8h1.15v1.15h-1.15zM343.0 88.5h1.15v1.15h-1.15zM351.7 92.4h1.15v1.15h-1.15zM330.3 102.5h1.15v1.15h-1.15zM328.1 93.1h1.15v1.15h-1.15zM345.2 83.0h1.15v1.15h-1.15zM334.7 83.8h1.15v1.15h-1.15zM338.6 90.2h1.15v1.15h-1.15zM330.7 89.1h1.15v1.15h-1.15zM343.8 104.1h1.15v1.15h-1.15zM341.3 103.7h1.15v1.15h-1.15zM348.5 89.9h1.15v1.15h-1.15zM351.9 93.6h1.15v1.15h-1.15zM334.8 85.7h1.15v1.15h-1.15zM341.7 99.6h1.15v1.15h-1.15zM337.0 92.5h1.15v1.15h-1.15zM338.6 95.3h1.15v1.15h-1.15zM335.6 88.6h1.15v1.15h-1.15zM352.3 103.4h1.15v1.15h-1.15zM341.8 95.6h1.15v1.15h-1.15zM330.0 86.4h1.15v1.15h-1.15zM343.9 104.2h1.15v1.15h-1.15zM349.7 98.1h1.15v1.15h-1.15zM340.0 96.2h1.15v1.15h-1.15zM328.0 90.0h1.15v1.15h-1.15zM347.0 95.0h1.15v1.15h-1.15zM350.9 88.3h1.15v1.15h-1.15zM344.9 93.9h1.15v1.15h-1.15zM336.6 99.1h1.15v1.15h-1.15zM335.4 85.3h1.15v1.15h-1.15zM345.2 95.5h1.15v1.15h-1.15zM329.4 100.9h1.15v1.15h-1.15zM346.4 98.5h1.15v1.15h-1.15zM338.4 83.3h1.15v1.15h-1.15zM328.7 82.4h1.15v1.15h-1.15zM347.6 91.5h1.15v1.15h-1.15zM335.6 100.4h1.15v1.15h-1.15zM329.4 96.1h1.15v1.15h-1.15zM330.7 84.6h1.15v1.15h-1.15zM348.7 100.3h1.15v1.15h-1.15zM330.6 99.9h1.15v1.15h-1.15zM346.4 98.8h1.15v1.15h-1.15zM347.0 96.7h1.15v1.15h-1.15zM329.0 102.2h1.15v1.15h-1.15zM336.7 100.4h1.15v1.15h-1.15zM346.5 103.2h1.15v1.15h-1.15zM338.2 94.6h1.15v1.15h-1.15zM348.9 101.5h1.15v1.15h-1.15zM335.3 100.8h1.15v1.15h-1.15zM341.9 98.9h1.15v1.15h-1.15zM331.5 96.2h1.15v1.15h-1.15zM348.2 97.3h1.15v1.15h-1.15zM348.1 93.2h1.15v1.15h-1.15zM340.2 103.6h1.15v1.15h-1.15zM334.0 104.1h1.15v1.15h-1.15zM334.5 98.5h1.15v1.15h-1.15zM341.0 95.7h1.15v1.15h-1.15zM329.8 81.4h1.15v1.15h-1.15zM338.7 104.0h1.15v1.15h-1.15zM333.3 85.4h1.15v1.15h-1.15zM334.4 101.9h1.15v1.15h-1.15zM333.9 93.3h1.15v1.15h-1.15zM347.9 87.3h1.15v1.15h-1.15zM332.0 100.8h1.15v1.15h-1.15zM328.0 103.6h1.15v1.15h-1.15zM336.5 97.4h1.15v1.15h-1.15zM348.2 82.0h1.15v1.15h-1.15zM350.0 87.7h1.15v1.15h-1.15zM338.1 96.4h1.15v1.15h-1.15zM336.4 100.8h1.15v1.15h-1.15zM348.9 96.4h1.15v1.15h-1.15zM339.2 96.2h1.15v1.15h-1.15zM339.7 82.0h1.15v1.15h-1.15zM342.5 101.0h1.15v1.15h-1.15zM328.9 86.3h1.15v1.15h-1.15zM348.0 86.1h1.15v1.15h-1.15zM329.3 99.4h1.15v1.15h-1.15zM339.3 85.5h1.15v1.15h-1.15zM350.7 81.7h1.15v1.15h-1.15zM339.7 95.2h1.15v1.15h-1.15zM334.4 98.1h1.15v1.15h-1.15zM344.7 95.2h1.15v1.15h-1.15zM349.9 93.2h1.15v1.15h-1.15zM341.6 92.1h1.15v1.15h-1.15zM328.5 94.1h1.15v1.15h-1.15zM349.3 85.3h1.15v1.15h-1.15zM328.0 98.4h1.15v1.15h-1.15zM343.3 81.1h1.15v1.15h-1.15zM349.9 93.9h1.15v1.15h-1.15zM330.3 103.2h1.15v1.15h-1.15zM339.2 101.0h1.15v1.15h-1.15zM344.1 93.1h1.15v1.15h-1.15zM330.7 86.1h1.15v1.15h-1.15zM332.2 101.1h1.15v1.15h-1.15zM330.4 102.8h1.15v1.15h-1.15zM333.2 101.3h1.15v1.15h-1.15zM345.4 92.0h1.15v1.15h-1.15zM343.8 88.0h1.15v1.15h-1.15zM345.8 101.1h1.15v1.15h-1.15zM342.8 96.7h1.15v1.15h-1.15zM346.7 102.8h1.15v1.15h-1.15zM330.2 84.9h1.15v1.15h-1.15zM339.9 94.2h1.15v1.15h-1.15zM328.0 89.8h1.15v1.15h-1.15zM338.2 94.1h1.15v1.15h-1.15zM348.2 82.8h1.15v1.15h-1.15zM337.7 92.3h1.15v1.15h-1.15zM333.3 95.7h1.15v1.15h-1.15zM332.8 87.4h1.15v1.15h-1.15zM335.7 90.7h1.15v1.15h-1.15zM352.6 103.1h1.15v1.15h-1.15zM345.8 96.3h1.15v1.15h-1.15zM336.7 100.5h1.15v1.15h-1.15zM344.6 98.4h1.15v1.15h-1.15zM344.2 102.0h1.15v1.15h-1.15zM343.3 102.5h1.15v1.15h-1.15zM338.1 90.9h1.15v1.15h-1.15zM330.0 99.6h1.15v1.15h-1.15zM351.8 103.1h1.15v1.15h-1.15zM331.6 83.0h1.15v1.15h-1.15zM352.4 99.5h1.15v1.15h-1.15zM352.4 91.4h1.15v1.15h-1.15zM335.2 90.8h1.15v1.15h-1.15zM347.2 97.5h1.15v1.15h-1.15zM327.9 92.4h1.15v1.15h-1.15zM337.0 85.8h1.15v1.15h-1.15zM332.3 93.8h1.15v1.15h-1.15zM343.8 99.0h1.15v1.15h-1.15zM342.9 100.2h1.15v1.15h-1.15zM337.4 98.5h1.15v1.15h-1.15zM344.1 94.9h1.15v1.15h-1.15zM352.3 84.4h1.15v1.15h-1.15zM329.1 92.4h1.15v1.15h-1.15zM340.1 88.3h1.15v1.15h-1.15zM343.3 91.8h1.15v1.15h-1.15zM342.1 98.6h1.15v1.15h-1.15zM332.6 81.9h1.15v1.15h-1.15zM349.1 103.3h1.15v1.15h-1.15zM332.2 97.2h1.15v1.15h-1.15zM348.2 98.7h1.15v1.15h-1.15zM337.6 100.4h1.15v1.15h-1.15zM330.0 103.8h1.15v1.15h-1.15zM347.6 96.2h1.15v1.15h-1.15zM328.9 81.2h1.15v1.15h-1.15zM346.7 88.7h1.15v1.15h-1.15zM341.1 102.1h1.15v1.15h-1.15zM349.2 84.7h1.15v1.15h-1.15zM347.0 86.8h1.15v1.15h-1.15zM335.9 83.7h1.15v1.15h-1.15zM329.9 100.5h1.15v1.15h-1.15zM327.8 104.0h1.15v1.15h-1.15zM329.0 95.8h1.15v1.15h-1.15zM330.8 97.3h1.15v1.15h-1.15zM332.2 92.8h1.15v1.15h-1.15zM336.0 90.3h1.15v1.15h-1.15zM343.6 99.4h1.15v1.15h-1.15zM337.0 103.3h1.15v1.15h-1.15zM338.5 103.8h1.15v1.15h-1.15zM329.1 96.5h1.15v1.15h-1.15zM334.3 83.1h1.15v1.15h-1.15zM345.1 96.7h1.15v1.15h-1.15zM328.0 86.0h1.15v1.15h-1.15zM341.6 81.8h1.15v1.15h-1.15zM343.9 81.2h1.15v1.15h-1.15zM338.5 102.2h1.15v1.15h-1.15zM328.3 101.4h1.15v1.15h-1.15zM332.3 101.7h1.15v1.15h-1.15zM332.0 82.4h1.15v1.15h-1.15zM332.7 84.4h1.15v1.15h-1.15zM332.6 94.2h1.15v1.15h-1.15zM352.2 91.4h1.15v1.15h-1.15zM349.6 86.5h1.15v1.15h-1.15zM344.3 90.6h1.15v1.15h-1.15zM334.5 98.0h1.15v1.15h-1.15zM351.2 102.3h1.15v1.15h-1.15zM338.0 93.4h1.15v1.15h-1.15zM330.9 103.9h1.15v1.15h-1.15zM344.8 93.4h1.15v1.15h-1.15zM332.5 98.2h1.15v1.15h-1.15zM347.6 93.1h1.15v1.15h-1.15zM345.1 99.7h1.15v1.15h-1.15zM333.2 94.9h1.15v1.15h-1.15zM337.4 84.2h1.15v1.15h-1.15zM339.1 101.9h1.15v1.15h-1.15zM331.5 102.1h1.15v1.15h-1.15zM343.8 100.8h1.15v1.15h-1.15zM337.3 89.0h1.15v1.15h-1.15zM344.5 86.8h1.15v1.15h-1.15zM343.5 93.8h1.15v1.15h-1.15zM334.7 87.3h1.15v1.15h-1.15zM329.2 101.1h1.15v1.15h-1.15zM343.4 101.8h1.15v1.15h-1.15zM334.7 96.6h1.15v1.15h-1.15zM340.2 101.7h1.15v1.15h-1.15zM329.7 89.5h1.15v1.15h-1.15zM330.1 95.7h1.15v1.15h-1.15zM336.4 89.7h1.15v1.15h-1.15zM343.1 93.0h1.15v1.15h-1.15zM329.6 93.4h1.15v1.15h-1.15zM346.1 99.1h1.15v1.15h-1.15zM348.4 82.9h1.15v1.15h-1.15zM343.2 103.9h1.15v1.15h-1.15zM345.4 91.4h1.15v1.15h-1.15zM329.2 87.6h1.15v1.15h-1.15zM334.1 102.8h1.15v1.15h-1.15zM345.7 85.2h1.15v1.15h-1.15zM333.0 91.4h1.15v1.15h-1.15zM348.6 84.9h1.15v1.15h-1.15zM337.2 86.6h1.15v1.15h-1.15zM342.3 92.1h1.15v1.15h-1.15zM336.8 86.5h1.15v1.15h-1.15zM334.1 100.5h1.15v1.15h-1.15zM338.9 84.3h1.15v1.15h-1.15zM352.7 96.4h1.15v1.15h-1.15zM345.5 92.9h1.15v1.15h-1.15zM350.8 103.1h1.15v1.15h-1.15zM330.9 95.0h1.15v1.15h-1.15zM336.0 91.1h1.15v1.15h-1.15zM335.2 86.3h1.15v1.15h-1.15zM352.6 86.2h1.15v1.15h-1.15zM327.9 93.5h1.15v1.15h-1.15zM342.5 88.8h1.15v1.15h-1.15zM338.6 103.6h1.15v1.15h-1.15zM330.3 92.9h1.15v1.15h-1.15zM342.3 93.7h1.15v1.15h-1.15zM347.1 88.5h1.15v1.15h-1.15zM345.9 93.7h1.15v1.15h-1.15zM328.9 102.9h1.15v1.15h-1.15zM346.7 89.9h1.15v1.15h-1.15zM334.5 87.7h1.15v1.15h-1.15zM348.5 91.4h1.15v1.15h-1.15zM340.1 84.0h1.15v1.15h-1.15zM328.9 88.9h1.15v1.15h-1.15zM345.3 97.2h1.15v1.15h-1.15zM340.1 95.7h1.15v1.15h-1.15zM337.1 101.1h1.15v1.15h-1.15zM342.2 92.4h1.15v1.15h-1.15zM336.9 103.8h1.15v1.15h-1.15zM328.2 94.2h1.15v1.15h-1.15zM350.3 83.9h1.15v1.15h-1.15zM333.1 92.2h1.15v1.15h-1.15zM332.9 94.9h1.15v1.15h-1.15zM328.4 100.2h1.15v1.15h-1.15zM344.5 103.4h1.15v1.15h-1.15zM350.2 100.5h1.15v1.15h-1.15zM337.4 86.1h1.15v1.15h-1.15zM347.3 95.2h1.15v1.15h-1.15zM334.1 103.3h1.15v1.15h-1.15zM335.5 93.6h1.15v1.15h-1.15zM333.2 89.4h1.15v1.15h-1.15zM333.3 96.0h1.15v1.15h-1.15zM340.1 93.9h1.15v1.15h-1.15zM334.0 103.1h1.15v1.15h-1.15zM328.7 102.0h1.15v1.15h-1.15zM343.7 92.5h1.15v1.15h-1.15zM333.6 97.9h1.15v1.15h-1.15zM335.6 95.9h1.15v1.15h-1.15zM330.9 81.7h1.15v1.15h-1.15zM328.4 102.7h1.15v1.15h-1.15zM342.6 104.1h1.15v1.15h-1.15zM336.4 100.2h1.15v1.15h-1.15zM350.9 89.0h1.15v1.15h-1.15zM328.0 101.1h1.15v1.15h-1.15zM347.6 99.1h1.15v1.15h-1.15zM328.0 93.9h1.15v1.15h-1.15zM330.6 97.5h1.15v1.15h-1.15zM327.9 90.8h1.15v1.15h-1.15zM338.7 89.8h1.15v1.15h-1.15zM334.7 97.0h1.15v1.15h-1.15zM333.8 96.3h1.15v1.15h-1.15zM352.2 81.9h1.15v1.15h-1.15zM340.5 94.8h1.15v1.15h-1.15zM350.7 86.9h1.15v1.15h-1.15zM349.6 80.9h1.15v1.15h-1.15zM334.4 102.5h1.15v1.15h-1.15zM342.6 102.7h1.15v1.15h-1.15zM331.1 101.4h1.15v1.15h-1.15zM335.0 102.6h1.15v1.15h-1.15zM343.5 88.4h1.15v1.15h-1.15zM340.3 100.1h1.15v1.15h-1.15zM329.0 103.4h1.15v1.15h-1.15zM328.9 98.3h1.15v1.15h-1.15zM346.0 86.8h1.15v1.15h-1.15zM344.0 98.0h1.15v1.15h-1.15zM342.5 94.8h1.15v1.15h-1.15zM331.6 100.0h1.15v1.15h-1.15zM346.4 80.9h1.15v1.15h-1.15zM340.5 92.4h1.15v1.15h-1.15zM330.1 99.0h1.15v1.15h-1.15zM330.5 101.3h1.15v1.15h-1.15zM341.7 102.0h1.15v1.15h-1.15zM340.7 84.2h1.15v1.15h-1.15zM333.3 102.6h1.15v1.15h-1.15zM344.4 84.6h1.15v1.15h-1.15zM331.3 82.5h1.15v1.15h-1.15zM342.3 100.3h1.15v1.15h-1.15zM336.2 104.0h1.15v1.15h-1.15zM328.2 100.3h1.15v1.15h-1.15zM338.9 103.9h1.15v1.15h-1.15zM338.6 91.0h1.15v1.15h-1.15zM350.3 93.3h1.15v1.15h-1.15zM344.3 98.1h1.15v1.15h-1.15zM333.5 81.9h1.15v1.15h-1.15zM342.4 82.4h1.15v1.15h-1.15zM332.3 91.1h1.15v1.15h-1.15zM342.6 90.2h1.15v1.15h-1.15zM341.2 81.3h1.15v1.15h-1.15zM341.5 92.4h1.15v1.15h-1.15zM330.4 87.3h1.15v1.15h-1.15zM344.3 92.8h1.15v1.15h-1.15zM339.4 96.9h1.15v1.15h-1.15zM345.2 85.8h1.15v1.15h-1.15zM328.3 90.1h1.15v1.15h-1.15zM344.9 104.2h1.15v1.15h-1.15zM340.7 100.7h1.15v1.15h-1.15zM330.0 101.1h1.15v1.15h-1.15zM339.9 102.8h1.15v1.15h-1.15zM332.9 82.9h1.15v1.15h-1.15zM341.7 97.0h1.15v1.15h-1.15zM348.7 94.6h1.15v1.15h-1.15zM329.4 87.4h1.15v1.15h-1.15z" fill="#000"/>
<path d="M373.6 62.9h1.2v1.2h-1.2zM365.5 71.2h1.2v1.2h-1.2zM361.7 89.8h1.2v1.2h-1.2zM383.4 65.0h1.2v1.2h-1.2zM365.8 72.5h1.2v1.2h-1.2zM358.7 87.1h1.2v1.2h-1.2zM353.0 82.9h1.2v1.2h-1.2zM369.9 76.3h1.2v1.2h-1.2zM364.5 88.1h1.2v1.2h-1.2zM353.9 82.7h1.2v1.2h-1.2zM357.1 97.6h1.2v1.2h-1.2zM361.4 90.4h1.2v1.2h-1.2zM357.9 94.0h1.2v1.2h-1.2zM373.7 66.3h1.2v1.2h-1.2zM366.6 84.5h1.2v1.2h-1.2zM389.1 52.2h1.2v1.2h-1.2zM367.1 68.3h1.2v1.2h-1.2zM361.1 92.6h1.2v1.2h-1.2zM370.0 94.5h1.2v1.2h-1.2zM362.8 86.7h1.2v1.2h-1.2zM373.1 83.0h1.2v1.2h-1.2zM383.9 66.9h1.2v1.2h-1.2zM363.6 94.2h1.2v1.2h-1.2zM353.5 84.5h1.2v1.2h-1.2zM364.2 78.8h1.2v1.2h-1.2zM353.4 94.2h1.2v1.2h-1.2zM370.6 75.3h1.2v1.2h-1.2zM364.0 78.8h1.2v1.2h-1.2zM366.8 95.3h1.2v1.2h-1.2zM362.6 78.1h1.2v1.2h-1.2zM366.1 91.0h1.2v1.2h-1.2zM371.1 72.9h1.2v1.2h-1.2zM370.4 75.7h1.2v1.2h-1.2zM358.7 82.1h1.2v1.2h-1.2zM363.8 76.8h1.2v1.2h-1.2zM369.9 69.6h1.2v1.2h-1.2zM359.1 94.5h1.2v1.2h-1.2zM367.2 87.9h1.2v1.2h-1.2zM353.7 83.0h1.2v1.2h-1.2zM370.2 71.8h1.2v1.2h-1.2zM357.5 98.7h1.2v1.2h-1.2zM354.0 96.7h1.2v1.2h-1.2zM353.1 85.5h1.2v1.2h-1.2zM369.1 86.4h1.2v1.2h-1.2zM374.6 73.3h1.2v1.2h-1.2zM356.6 87.5h1.2v1.2h-1.2zM359.0 89.5h1.2v1.2h-1.2zM390.9 68.7h1.2v1.2h-1.2zM373.9 68.4h1.2v1.2h-1.2zM358.0 89.2h1.2v1.2h-1.2zM362.2 100.0h1.2v1.2h-1.2zM363.5 75.3h1.2v1.2h-1.2zM357.0 99.1h1.2v1.2h-1.2zM368.3 79.8h1.2v1.2h-1.2zM356.1 84.8h1.2v1.2h-1.2zM370.9 69.0h1.2v1.2h-1.2zM361.8 78.0h1.2v1.2h-1.2zM358.9 77.2h1.2v1.2h-1.2zM358.6 88.2h1.2v1.2h-1.2zM398.3 42.1h1.2v1.2h-1.2zM374.2 74.9h1.2v1.2h-1.2zM361.4 80.9h1.2v1.2h-1.2zM361.3 80.7h1.2v1.2h-1.2zM370.2 78.2h1.2v1.2h-1.2zM372.8 90.5h1.2v1.2h-1.2zM368.8 79.4h1.2v1.2h-1.2zM372.3 63.1h1.2v1.2h-1.2zM359.7 98.0h1.2v1.2h-1.2zM354.1 86.2h1.2v1.2h-1.2zM355.2 97.0h1.2v1.2h-1.2zM356.3 99.9h1.2v1.2h-1.2zM378.2 66.9h1.2v1.2h-1.2zM357.4 94.9h1.2v1.2h-1.2zM374.3 87.8h1.2v1.2h-1.2zM356.7 80.4h1.2v1.2h-1.2zM357.6 85.6h1.2v1.2h-1.2zM372.2 71.9h1.2v1.2h-1.2zM364.9 88.9h1.2v1.2h-1.2zM359.0 88.9h1.2v1.2h-1.2zM357.1 95.2h1.2v1.2h-1.2zM361.6 78.3h1.2v1.2h-1.2zM363.9 97.5h1.2v1.2h-1.2zM356.9 78.8h1.2v1.2h-1.2zM356.0 94.0h1.2v1.2h-1.2zM383.8 80.1h1.2v1.2h-1.2zM377.5 59.0h1.2v1.2h-1.2zM372.3 69.0h1.2v1.2h-1.2zM367.7 75.0h1.2v1.2h-1.2zM374.0 73.8h1.2v1.2h-1.2zM365.0 75.2h1.2v1.2h-1.2zM353.3 88.2h1.2v1.2h-1.2zM368.4 76.0h1.2v1.2h-1.2zM359.1 82.6h1.2v1.2h-1.2zM357.4 92.0h1.2v1.2h-1.2zM353.2 92.7h1.2v1.2h-1.2zM374.1 70.3h1.2v1.2h-1.2zM359.2 83.8h1.2v1.2h-1.2zM353.4 86.0h1.2v1.2h-1.2zM355.7 95.1h1.2v1.2h-1.2zM365.2 96.7h1.2v1.2h-1.2zM381.0 64.8h1.2v1.2h-1.2zM366.4 75.0h1.2v1.2h-1.2zM374.5 70.6h1.2v1.2h-1.2zM379.0 60.2h1.2v1.2h-1.2zM373.9 72.2h1.2v1.2h-1.2zM380.2 67.2h1.2v1.2h-1.2zM361.3 80.1h1.2v1.2h-1.2zM366.5 96.1h1.2v1.2h-1.2zM369.3 84.8h1.2v1.2h-1.2zM366.6 73.7h1.2v1.2h-1.2zM373.3 73.2h1.2v1.2h-1.2zM375.7 80.1h1.2v1.2h-1.2zM363.9 75.2h1.2v1.2h-1.2zM364.2 99.4h1.2v1.2h-1.2zM362.6 83.2h1.2v1.2h-1.2zM359.2 76.5h1.2v1.2h-1.2zM364.7 82.4h1.2v1.2h-1.2zM372.3 64.9h1.2v1.2h-1.2zM362.5 72.2h1.2v1.2h-1.2zM370.3 79.9h1.2v1.2h-1.2zM358.6 84.4h1.2v1.2h-1.2zM389.1 47.8h1.2v1.2h-1.2zM356.7 102.4h1.2v1.2h-1.2zM369.6 71.7h1.2v1.2h-1.2zM361.6 97.0h1.2v1.2h-1.2zM375.8 59.9h1.2v1.2h-1.2zM353.8 85.6h1.2v1.2h-1.2zM362.3 86.5h1.2v1.2h-1.2zM362.5 96.5h1.2v1.2h-1.2zM367.9 80.9h1.2v1.2h-1.2zM370.6 83.9h1.2v1.2h-1.2zM369.1 69.1h1.2v1.2h-1.2zM358.6 97.4h1.2v1.2h-1.2zM376.0 81.6h1.2v1.2h-1.2zM355.3 82.0h1.2v1.2h-1.2zM363.8 74.5h1.2v1.2h-1.2zM366.7 83.0h1.2v1.2h-1.2zM364.3 80.5h1.2v1.2h-1.2zM360.7 75.4h1.2v1.2h-1.2zM371.7 70.0h1.2v1.2h-1.2zM357.4 89.4h1.2v1.2h-1.2z" fill="#0ff" fill-opacity="0.85"/>
<path d="M345.1 75.1h1.2v1.2h-1.2zM366.5 58.0h1.2v1.2h-1.2zM330.9 79.2h1.2v1.2h-1.2zM347.8 76.4h1.2v1.2h-1.2zM368.5 56.8h1.2v1.2h-1.2zM351.7 68.9h1.2v1.2h-1.2zM358.5 71.0h1.2v1.2h-1.2zM361.9 69.6h1.2v1.2h-1.2zM339.2 77.1h1.2v1.2h-1.2zM364.7 62.7h1.2v1.2h-1.2zM340.3 79.3h1.2v1.2h-1.2zM354.7 77.5h1.2v1.2h-1.2zM348.4 71.9h1.2v1.2h-1.2zM336.1 78.9h1.2v1.2h-1.2zM360.9 65.2h1.2v1.2h-1.2zM334.4 73.7h1.2v1.2h-1.2zM359.4 58.5h1.2v1.2h-1.2zM357.8 71.8h1.2v1.2h-1.2zM354.8 78.3h1.2v1.2h-1.2zM355.5 75.7h1.2v1.2h-1.2zM351.3 76.0h1.2v1.2h-1.2zM359.9 53.5h1.2v1.2h-1.2zM363.1 70.7h1.2v1.2h-1.2zM344.9 75.8h1.2v1.2h-1.2zM354.4 68.7h1.2v1.2h-1.2zM353.9 67.6h1.2v1.2h-1.2zM346.5 68.0h1.2v1.2h-1.2zM362.1 69.2h1.2v1.2h-1.2zM366.6 66.0h1.2v1.2h-1.2zM348.4 66.9h1.2v1.2h-1.2zM363.2 69.4h1.2v1.2h-1.2zM352.4 66.0h1.2v1.2h-1.2zM363.9 63.5h1.2v1.2h-1.2zM367.9 61.2h1.2v1.2h-1.2zM361.7 71.5h1.2v1.2h-1.2zM364.7 67.6h1.2v1.2h-1.2zM375.3 56.5h1.2v1.2h-1.2zM355.5 74.7h1.2v1.2h-1.2zM357.7 69.5h1.2v1.2h-1.2zM363.2 60.9h1.2v1.2h-1.2zM357.0 69.1h1.2v1.2h-1.2zM383.2 52.7h1.2v1.2h-1.2zM369.6 65.1h1.2v1.2h-1.2zM360.3 72.2h1.2v1.2h-1.2zM365.0 65.8h1.2v1.2h-1.2zM354.0 67.1h1.2v1.2h-1.2zM347.8 76.0h1.2v1.2h-1.2zM360.1 68.8h1.2v1.2h-1.2zM342.2 69.9h1.2v1.2h-1.2zM342.8 74.2h1.2v1.2h-1.2zM352.6 72.1h1.2v1.2h-1.2zM355.4 77.1h1.2v1.2h-1.2zM350.4 74.8h1.2v1.2h-1.2zM358.9 73.0h1.2v1.2h-1.2zM348.1 75.7h1.2v1.2h-1.2zM362.2 55.8h1.2v1.2h-1.2zM367.3 62.6h1.2v1.2h-1.2zM346.2 80.7h1.2v1.2h-1.2zM357.2 74.4h1.2v1.2h-1.2zM353.3 75.1h1.2v1.2h-1.2zM378.8 51.9h1.2v1.2h-1.2zM346.2 79.3h1.2v1.2h-1.2zM368.3 65.9h1.2v1.2h-1.2zM342.1 70.7h1.2v1.2h-1.2zM340.7 77.7h1.2v1.2h-1.2zM351.8 66.0h1.2v1.2h-1.2zM365.8 64.8h1.2v1.2h-1.2zM340.2 65.6h1.2v1.2h-1.2zM339.5 79.1h1.2v1.2h-1.2zM331.7 79.6h1.2v1.2h-1.2zM348.9 64.6h1.2v1.2h-1.2zM368.8 59.0h1.2v1.2h-1.2zM368.0 64.8h1.2v1.2h-1.2zM351.5 69.1h1.2v1.2h-1.2zM362.6 62.7h1.2v1.2h-1.2zM353.1 78.0h1.2v1.2h-1.2zM341.1 80.5h1.2v1.2h-1.2zM355.9 55.0h1.2v1.2h-1.2zM345.1 78.1h1.2v1.2h-1.2zM344.3 78.0h1.2v1.2h-1.2zM366.1 67.6h1.2v1.2h-1.2zM348.0 64.7h1.2v1.2h-1.2zM361.0 71.4h1.2v1.2h-1.2zM348.5 62.2h1.2v1.2h-1.2zM333.6 75.6h1.2v1.2h-1.2zM354.6 69.9h1.2v1.2h-1.2zM346.6 75.2h1.2v1.2h-1.2zM370.4 60.7h1.2v1.2h-1.2zM360.1 73.5h1.2v1.2h-1.2zM337.6 74.7h1.2v1.2h-1.2zM342.8 73.9h1.2v1.2h-1.2zM357.4 72.8h1.2v1.2h-1.2zM348.5 80.9h1.2v1.2h-1.2zM354.4 68.8h1.2v1.2h-1.2zM343.5 71.0h1.2v1.2h-1.2zM360.7 71.9h1.2v1.2h-1.2zM358.6 66.7h1.2v1.2h-1.2zM335.3 78.9h1.2v1.2h-1.2zM366.4 67.8h1.2v1.2h-1.2zM367.5 59.0h1.2v1.2h-1.2zM348.1 77.6h1.2v1.2h-1.2zM351.6 73.8h1.2v1.2h-1.2zM344.1 66.2h1.2v1.2h-1.2zM357.9 75.8h1.2v1.2h-1.2zM371.3 62.2h1.2v1.2h-1.2zM350.1 72.0h1.2v1.2h-1.2zM354.2 69.0h1.2v1.2h-1.2zM349.0 69.7h1.2v1.2h-1.2zM360.7 70.1h1.2v1.2h-1.2zM367.0 65.5h1.2v1.2h-1.2zM343.7 75.9h1.2v1.2h-1.2zM340.5 71.2h1.2v1.2h-1.2zM369.5 64.8h1.2v1.2h-1.2zM351.9 76.5h1.2v1.2h-1.2zM360.7 55.9h1.2v1.2h-1.2zM382.6 51.6h1.2v1.2h-1.2zM382.3 51.3h1.2v1.2h-1.2zM354.6 74.9h1.2v1.2h-1.2zM342.8 76.1h1.2v1.2h-1.2zM345.8 75.1h1.2v1.2h-1.2zM355.6 65.9h1.2v1.2h-1.2zM368.8 61.8h1.2v1.2h-1.2zM372.2 55.8h1.2v1.2h-1.2zM355.9 75.6h1.2v1.2h-1.2zM354.4 77.4h1.2v1.2h-1.2zM343.1 74.7h1.2v1.2h-1.2zM362.0 64.5h1.2v1.2h-1.2zM338.0 75.5h1.2v1.2h-1.2zM335.4 78.4h1.2v1.2h-1.2zM362.4 67.3h1.2v1.2h-1.2zM360.8 67.7h1.2v1.2h-1.2zM386.3 42.3h1.2v1.2h-1.2zM351.6 68.0h1.2v1.2h-1.2zM357.9 61.3h1.2v1.2h-1.2zM368.9 60.3h1.2v1.2h-1.2zM346.3 78.1h1.2v1.2h-1.2zM372.4 61.7h1.2v1.2h-1.2zM344.3 64.9h1.2v1.2h-1.2zM355.4 76.6h1.2v1.2h-1.2zM360.5 65.2h1.2v1.2h-1.2zM339.4 70.4h1.2v1.2h-1.2zM358.2 64.8h1.2v1.2h-1.2zM348.2 70.7h1.2v1.2h-1.2zM336.7 76.2h1.2v1.2h-1.2zM381.7 52.7h1.2v1.2h-1.2zM366.8 47.8h1.2v1.2h-1.2zM363.1 69.1h1.2v1.2h-1.2zM357.7 69.2h1.2v1.2h-1.2zM362.2 70.8h1.2v1.2h-1.2zM369.6 62.3h1.2v1.2h-1.2zM357.2 73.9h1.2v1.2h-1.2zM352.1 75.3h1.2v1.2h-1.2zM369.4 61.9h1.2v1.2h-1.2zM351.1 77.5h1.2v1.2h-1.2zM360.8 63.1h1.2v1.2h-1.2zM349.9 78.8h1.2v1.2h-1.2zM355.3 70.3h1.2v1.2h-1.2zM348.1 78.4h1.2v1.2h-1.2zM366.8 68.0h1.2v1.2h-1.2zM361.6 62.6h1.2v1.2h-1.2zM354.5 75.7h1.2v1.2h-1.2zM363.0 64.0h1.2v1.2h-1.2zM370.1 61.3h1.2v1.2h-1.2zM357.8 71.2h1.2v1.2h-1.2zM356.9 69.6h1.2v1.2h-1.2zM343.8 80.6h1.2v1.2h-1.2zM350.5 77.0h1.2v1.2h-1.2zM358.7 73.7h1.2v1.2h-1.2zM355.3 78.3h1.2v1.2h-1.2zM350.6 62.6h1.2v1.2h-1.2zM343.5 78.9h1.2v1.2h-1.2zM344.8 80.6h1.2v1.2h-1.2zM349.1 72.3h1.2v1.2h-1.2zM364.1 65.7h1.2v1.2h-1.2zM360.2 71.5h1.2v1.2h-1.2zM339.1 61.8h1.2v1.2h-1.2zM349.9 76.3h1.2v1.2h-1.2zM363.0 68.9h1.2v1.2h-1.2zM358.6 72.9h1.2v1.2h-1.2zM360.3 72.2h1.2v1.2h-1.2zM353.7 63.0h1.2v1.2h-1.2zM354.4 77.2h1.2v1.2h-1.2zM370.8 60.5h1.2v1.2h-1.2zM367.2 57.7h1.2v1.2h-1.2zM354.7 71.9h1.2v1.2h-1.2zM377.5 53.0h1.2v1.2h-1.2zM361.3 72.1h1.2v1.2h-1.2zM370.1 58.3h1.2v1.2h-1.2zM371.8 61.4h1.2v1.2h-1.2zM361.3 66.1h1.2v1.2h-1.2zM353.1 76.9h1.2v1.2h-1.2zM345.8 73.8h1.2v1.2h-1.2zM340.2 72.5h1.2v1.2h-1.2zM353.3 80.1h1.2v1.2h-1.2zM347.7 72.6h1.2v1.2h-1.2zM354.5 58.0h1.2v1.2h-1.2zM340.5 78.6h1.2v1.2h-1.2zM368.5 52.6h1.2v1.2h-1.2zM354.8 73.9h1.2v1.2h-1.2zM356.2 69.4h1.2v1.2h-1.2zM367.5 62.4h1.2v1.2h-1.2zM358.1 74.4h1.2v1.2h-1.2zM359.0 74.1h1.2v1.2h-1.2zM352.5 76.9h1.2v1.2h-1.2zM368.5 66.0h1.2v1.2h-1.2zM366.9 57.8h1.2v1.2h-1.2zM372.3 54.9h1.2v1.2h-1.2zM346.6 78.7h1.2v1.2h-1.2zM356.5 73.3h1.2v1.2h-1.2zM355.8 68.0h1.2v1.2h-1.2zM348.6 69.8h1.2v1.2h-1.2zM344.0 70.5h1.2v1.2h-1.2zM335.6 71.6h1.2v1.2h-1.2zM343.6 71.6h1.2v1.2h-1.2zM351.3 79.8h1.2v1.2h-1.2zM351.8 79.4h1.2v1.2h-1.2zM351.0 79.0h1.2v1.2h-1.2zM337.6 79.4h1.2v1.2h-1.2zM352.3 76.1h1.2v1.2h-1.2zM350.9 73.0h1.2v1.2h-1.2zM359.0 73.3h1.2v1.2h-1.2zM333.5 80.2h1.2v1.2h-1.2zM350.0 80.0h1.2v1.2h-1.2zM360.9 69.3h1.2v1.2h-1.2zM339.7 79.6h1.2v1.2h-1.2zM351.8 80.0h1.2v1.2h-1.2zM365.8 67.1h1.2v1.2h-1.2zM342.5 79.1h1.2v1.2h-1.2zM337.7 80.7h1.2v1.2h-1.2zM359.2 51.5h1.2v1.2h-1.2zM352.2 75.8h1.2v1.2h-1.2zM352.6 72.5h1.2v1.2h-1.2zM356.2 61.8h1.2v1.2h-1.2zM360.3 69.8h1.2v1.2h-1.2zM351.4 67.6h1.2v1.2h-1.2zM356.2 56.8h1.2v1.2h-1.2zM353.5 78.8h1.2v1.2h-1.2zM348.3 79.7h1.2v1.2h-1.2zM355.1 67.3h1.2v1.2h-1.2zM360.9 62.9h1.2v1.2h-1.2zM350.6 74.2h1.2v1.2h-1.2zM342.4 74.3h1.2v1.2h-1.2zM346.7 72.5h1.2v1.2h-1.2zM378.0 52.7h1.2v1.2h-1.2zM336.3 74.3h1.2v1.2h-1.2zM359.0 74.1h1.2v1.2h-1.2zM348.0 66.6h1.2v1.2h-1.2zM369.0 63.0h1.2v1.2h-1.2zM385.8 49.1h1.2v1.2h-1.2zM366.0 68.4h1.2v1.2h-1.2zM331.8 75.6h1.2v1.2h-1.2zM351.2 73.4h1.2v1.2h-1.2zM355.1 72.8h1.2v1.2h-1.2zM344.4 76.5h1.2v1.2h-1.2zM354.8 78.5h1.2v1.2h-1.2zM359.2 69.9h1.2v1.2h-1.2zM341.2 72.2h1.2v1.2h-1.2zM359.7 65.8h1.2v1.2h-1.2zM353.0 73.8h1.2v1.2h-1.2zM343.0 80.8h1.2v1.2h-1.2zM355.1 69.2h1.2v1.2h-1.2zM348.1 75.1h1.2v1.2h-1.2zM352.3 65.0h1.2v1.2h-1.2zM339.6 78.0h1.2v1.2h-1.2zM357.1 76.9h1.2v1.2h-1.2zM358.0 75.2h1.2v1.2h-1.2zM348.9 64.7h1.2v1.2h-1.2zM346.9 78.0h1.2v1.2h-1.2zM353.1 61.2h1.2v1.2h-1.2zM361.7 68.8h1.2v1.2h-1.2zM369.0 49.0h1.2v1.2h-1.2zM367.1 57.8h1.2v1.2h-1.2zM345.7 78.9h1.2v1.2h-1.2zM341.2 80.1h1.2v1.2h-1.2zM363.1 68.3h1.2v1.2h-1.2zM360.0 68.8h1.2v1.2h-1.2zM347.4 67.9h1.2v1.2h-1.2zM352.6 76.2h1.2v1.2h-1.2zM354.2 68.5h1.2v1.2h-1.2zM355.9 72.8h1.2v1.2h-1.2zM352.5 75.1h1.2v1.2h-1.2zM335.8 78.0h1.2v1.2h-1.2zM367.0 55.7h1.2v1.2h-1.2zM363.4 66.9h1.2v1.2h-1.2zM370.7 60.9h1.2v1.2h-1.2zM343.4 79.6h1.2v1.2h-1.2zM350.5 75.0h1.2v1.2h-1.2zM354.6 79.1h1.2v1.2h-1.2zM355.4 68.2h1.2v1.2h-1.2zM354.5 73.3h1.2v1.2h-1.2zM338.9 80.2h1.2v1.2h-1.2zM349.6 76.6h1.2v1.2h-1.2zM361.5 70.6h1.2v1.2h-1.2zM349.7 62.7h1.2v1.2h-1.2zM350.8 80.1h1.2v1.2h-1.2zM356.4 68.5h1.2v1.2h-1.2zM374.6 49.1h1.2v1.2h-1.2zM364.8 64.5h1.2v1.2h-1.2zM349.1 63.6h1.2v1.2h-1.2zM356.3 71.4h1.2v1.2h-1.2zM363.9 66.7h1.2v1.2h-1.2zM356.6 71.3h1.2v1.2h-1.2zM357.3 66.8h1.2v1.2h-1.2zM358.9 73.0h1.2v1.2h-1.2zM345.4 79.1h1.2v1.2h-1.2zM353.4 77.4h1.2v1.2h-1.2zM361.9 68.0h1.2v1.2h-1.2zM375.0 58.3h1.2v1.2h-1.2zM371.2 54.8h1.2v1.2h-1.2zM365.6 64.2h1.2v1.2h-1.2zM357.5 56.0h1.2v1.2h-1.2zM357.4 72.5h1.2v1.2h-1.2zM348.7 66.0h1.2v1.2h-1.2zM356.6 76.5h1.2v1.2h-1.2zM362.8 64.9h1.2v1.2h-1.2zM348.7 78.4h1.2v1.2h-1.2zM359.6 69.8h1.2v1.2h-1.2zM350.7 77.0h1.2v1.2h-1.2zM353.1 76.0h1.2v1.2h-1.2zM358.9 67.3h1.2v1.2h-1.2zM330.7 70.4h1.2v1.2h-1.2zM368.5 45.9h1.2v1.2h-1.2zM378.2 50.4h1.2v1.2h-1.2zM344.3 76.0h1.2v1.2h-1.2zM349.9 72.5h1.2v1.2h-1.2z" fill="#f0f" fill-opacity="0.85"/>
<line x1="328.40" y1="104.80" x2="421.70" y2="18.40" stroke="#1a1a1a" stroke-width="1.15" stroke-dasharray="3.4 2.65"/>
<path d="M328.40 81.47H353.59V104.80" fill="none" stroke="#1030ff" stroke-width="1.35" stroke-dasharray="3.8 2.4"/>
<rect x="451.60" y="18.40" width="92.30" height="86.40" fill="none" stroke="#777" stroke-width="0.55"/>
<path d="M451.60 104.80v-1.2M451.60 18.40v1.2M451.60 104.80h1.2M543.90 104.80h-1.2M470.06 104.80v-1.2M470.06 18.40v1.2M451.60 87.52h1.2M543.90 87.52h-1.2M488.52 104.80v-1.2M488.52 18.40v1.2M451.60 70.24h1.2M543.90 70.24h-1.2M506.98 104.80v-1.2M506.98 18.40v1.2M451.60 52.96h1.2M543.90 52.96h-1.2M525.44 104.80v-1.2M525.44 18.40v1.2M451.60 35.68h1.2M543.90 35.68h-1.2M543.90 104.80v-1.2M543.90 18.40v1.2M451.60 18.40h1.2M543.90 18.40h-1.2" stroke="#777" stroke-width="0.5" fill="none"/>
<g font-size="4.1" fill="#444" font-family="'Liberation Sans', sans-serif">
<text x="451.60" y="110.58" text-anchor="middle">0</text>
<text x="450.20" y="106.28" text-anchor="end">0</text>
<text x="470.06" y="110.58" text-anchor="middle">0.2</text>
<text x="450.20" y="89.00" text-anchor="end">0.2</text>
<text x="488.52" y="110.58" text-anchor="middle">0.4</text>
<text x="450.20" y="71.72" text-anchor="end">0.4</text>
<text x="506.98" y="110.58" text-anchor="middle">0.6</text>
<text x="450.20" y="54.44" text-anchor="end">0.6</text>
<text x="525.44" y="110.58" text-anchor="middle">0.8</text>
<text x="450.20" y="37.16" text-anchor="end">0.8</text>
<text x="543.90" y="110.58" text-anchor="middle">1</text>
<text x="450.20" y="19.88" text-anchor="end">1</text>
</g>
<path d="M475.0 96.7h1.15v1.15h-1.15zM463.5 94.8h1.15v1.15h-1.15zM475.2 90.0h1.15v1.15h-1.15zM468.0 93.6h1.15v1.15h-1.15zM467.5 92.5h1.15v1.15h-1.15zM455.3 88.5h1.15v1.15h-1.15zM475.3 96.7h1.15v1.15h-1.15zM451.1 88.0h1.15v1.15h-1.15zM456.2 89.1h1.15v1.15h-1.15zM460.6 98.0h1.15v1.15h-1.15zM469.7 90.3h1.15v1.15h-1.15zM454.9 94.8h1.15v1.15h-1.15zM472.1 97.0h1.15v1.15h-1.15zM475.5 89.4h1.15v1.15h-1.15zM454.1 101.2h1.15v1.15h-1.15zM464.8 101.3h1.15v1.15h-1.15zM451.1 98.1h1.15v1.15h-1.15zM459.4 84.3h1.15v1.15h-1.15zM451.7 100.2h1.15v1.15h-1.15zM474.7 93.9h1.15v1.15h-1.15zM460.6 82.5h1.15v1.15h-1.15zM474.5 103.6h1.15v1.15h-1.15zM469.9 91.2h1.15v1.15h-1.15zM472.2 89.0h1.15v1.15h-1.15zM454.3 100.3h1.15v1.15h-1.15zM464.9 99.8h1.15v1.15h-1.15zM454.2 93.4h1.15v1.15h-1.15zM468.5 92.4h1.15v1.15h-1.15zM459.9 93.6h1.15v1.15h-1.15zM463.0 85.9h1.15v1.15h-1.15zM474.2 91.2h1.15v1.15h-1.15zM462.8 94.2h1.15v1.15h-1.15zM453.0 97.3h1.15v1.15h-1.15zM454.0 84.6h1.15v1.15h-1.15zM463.4 95.6h1.15v1.15h-1.15zM462.9 103.2h1.15v1.15h-1.15zM465.9 101.3h1.15v1.15h-1.15zM459.8 88.4h1.15v1.15h-1.15zM466.2 99.5h1.15v1.15h-1.15zM459.6 93.0h1.15v1.15h-1.15zM465.5 84.3h1.15v1.15h-1.15zM469.4 102.9h1.15v1.15h-1.15zM454.5 101.4h1.15v1.15h-1.15zM459.1 81.9h1.15v1.15h-1.15zM462.3 83.0h1.15v1.15h-1.15zM467.2 82.5h1.15v1.15h-1.15zM456.2 97.8h1.15v1.15h-1.15zM463.7 97.7h1.15v1.15h-1.15zM465.5 96.3h1.15v1.15h-1.15zM473.0 83.5h1.15v1.15h-1.15zM458.8 101.8h1.15v1.15h-1.15zM465.9 93.2h1.15v1.15h-1.15zM454.7 99.2h1.15v1.15h-1.15zM462.2 99.0h1.15v1.15h-1.15zM454.5 103.1h1.15v1.15h-1.15zM473.6 96.2h1.15v1.15h-1.15zM460.5 103.4h1.15v1.15h-1.15zM471.1 94.7h1.15v1.15h-1.15zM460.1 88.6h1.15v1.15h-1.15zM473.2 98.6h1.15v1.15h-1.15zM459.8 97.5h1.15v1.15h-1.15zM458.0 103.0h1.15v1.15h-1.15zM464.1 82.3h1.15v1.15h-1.15zM471.6 103.1h1.15v1.15h-1.15zM472.0 87.0h1.15v1.15h-1.15zM464.8 89.7h1.15v1.15h-1.15zM452.5 101.1h1.15v1.15h-1.15zM464.8 102.5h1.15v1.15h-1.15zM456.0 99.4h1.15v1.15h-1.15zM468.4 100.0h1.15v1.15h-1.15zM473.0 94.9h1.15v1.15h-1.15zM462.6 97.6h1.15v1.15h-1.15zM452.1 89.8h1.15v1.15h-1.15zM463.3 103.3h1.15v1.15h-1.15zM453.4 99.5h1.15v1.15h-1.15zM465.3 86.9h1.15v1.15h-1.15zM458.8 84.0h1.15v1.15h-1.15zM469.4 86.3h1.15v1.15h-1.15zM451.8 87.9h1.15v1.15h-1.15zM453.0 101.6h1.15v1.15h-1.15zM467.1 85.2h1.15v1.15h-1.15zM462.6 103.3h1.15v1.15h-1.15zM464.1 97.9h1.15v1.15h-1.15zM471.5 91.5h1.15v1.15h-1.15zM461.9 85.4h1.15v1.15h-1.15zM470.6 85.2h1.15v1.15h-1.15zM462.5 100.3h1.15v1.15h-1.15zM473.9 103.6h1.15v1.15h-1.15zM466.7 99.6h1.15v1.15h-1.15zM453.8 92.8h1.15v1.15h-1.15zM458.8 82.8h1.15v1.15h-1.15zM472.1 86.7h1.15v1.15h-1.15zM458.5 95.9h1.15v1.15h-1.15zM454.7 83.8h1.15v1.15h-1.15zM461.6 98.0h1.15v1.15h-1.15zM459.5 96.1h1.15v1.15h-1.15zM460.6 103.5h1.15v1.15h-1.15zM456.3 100.3h1.15v1.15h-1.15zM460.0 84.0h1.15v1.15h-1.15zM460.2 90.8h1.15v1.15h-1.15zM473.2 96.3h1.15v1.15h-1.15zM475.4 90.7h1.15v1.15h-1.15zM465.5 100.0h1.15v1.15h-1.15zM452.5 95.9h1.15v1.15h-1.15zM468.5 101.9h1.15v1.15h-1.15zM467.0 98.6h1.15v1.15h-1.15zM471.0 83.7h1.15v1.15h-1.15zM458.4 94.3h1.15v1.15h-1.15zM465.2 91.0h1.15v1.15h-1.15zM453.3 87.9h1.15v1.15h-1.15zM469.2 100.4h1.15v1.15h-1.15zM470.2 83.0h1.15v1.15h-1.15zM459.9 101.5h1.15v1.15h-1.15zM474.3 88.1h1.15v1.15h-1.15zM454.4 88.6h1.15v1.15h-1.15zM474.3 103.1h1.15v1.15h-1.15zM461.4 91.5h1.15v1.15h-1.15zM469.3 91.2h1.15v1.15h-1.15zM469.0 85.0h1.15v1.15h-1.15zM475.4 92.3h1.15v1.15h-1.15zM475.2 83.6h1.15v1.15h-1.15zM451.2 103.6h1.15v1.15h-1.15zM463.4 89.4h1.15v1.15h-1.15zM451.5 92.8h1.15v1.15h-1.15zM466.4 93.5h1.15v1.15h-1.15zM463.2 85.2h1.15v1.15h-1.15zM466.7 95.3h1.15v1.15h-1.15zM460.8 92.7h1.15v1.15h-1.15zM456.6 83.6h1.15v1.15h-1.15zM474.5 97.7h1.15v1.15h-1.15zM468.3 84.4h1.15v1.15h-1.15zM451.1 104.2h1.15v1.15h-1.15zM452.8 100.4h1.15v1.15h-1.15zM465.7 86.8h1.15v1.15h-1.15zM457.0 92.8h1.15v1.15h-1.15zM459.9 93.5h1.15v1.15h-1.15zM469.8 87.3h1.15v1.15h-1.15zM458.6 101.2h1.15v1.15h-1.15zM473.8 94.4h1.15v1.15h-1.15zM468.1 98.6h1.15v1.15h-1.15zM463.6 85.1h1.15v1.15h-1.15zM454.5 100.5h1.15v1.15h-1.15zM460.0 104.2h1.15v1.15h-1.15zM469.3 90.5h1.15v1.15h-1.15zM475.7 102.5h1.15v1.15h-1.15zM452.3 100.7h1.15v1.15h-1.15zM453.5 93.7h1.15v1.15h-1.15zM468.7 97.0h1.15v1.15h-1.15zM471.2 91.2h1.15v1.15h-1.15zM471.1 81.6h1.15v1.15h-1.15zM469.9 91.2h1.15v1.15h-1.15zM467.2 97.9h1.15v1.15h-1.15zM458.2 99.0h1.15v1.15h-1.15zM460.8 94.7h1.15v1.15h-1.15zM458.9 88.6h1.15v1.15h-1.15zM471.4 87.7h1.15v1.15h-1.15zM457.9 98.8h1.15v1.15h-1.15zM457.8 103.3h1.15v1.15h-1.15zM474.1 83.1h1.15v1.15h-1.15zM473.7 91.7h1.15v1.15h-1.15zM470.5 94.9h1.15v1.15h-1.15zM452.5 103.5h1.15v1.15h-1.15zM452.6 96.3h1.15v1.15h-1.15zM463.7 95.4h1.15v1.15h-1.15zM471.9 98.9h1.15v1.15h-1.15zM472.7 93.2h1.15v1.15h-1.15zM465.9 102.0h1.15v1.15h-1.15zM474.7 104.0h1.15v1.15h-1.15zM453.9 82.0h1.15v1.15h-1.15zM455.4 90.7h1.15v1.15h-1.15zM458.0 85.7h1.15v1.15h-1.15zM456.2 93.5h1.15v1.15h-1.15zM457.6 92.1h1.15v1.15h-1.15zM453.2 102.5h1.15v1.15h-1.15zM459.1 92.5h1.15v1.15h-1.15zM451.5 90.0h1.15v1.15h-1.15zM463.2 84.1h1.15v1.15h-1.15zM474.4 95.7h1.15v1.15h-1.15zM460.8 98.5h1.15v1.15h-1.15zM465.5 99.8h1.15v1.15h-1.15zM465.2 85.2h1.15v1.15h-1.15zM474.0 88.4h1.15v1.15h-1.15zM468.5 82.9h1.15v1.15h-1.15zM458.1 91.8h1.15v1.15h-1.15zM473.3 100.8h1.15v1.15h-1.15zM454.6 94.7h1.15v1.15h-1.15zM459.9 90.2h1.15v1.15h-1.15zM468.6 95.3h1.15v1.15h-1.15zM458.1 88.7h1.15v1.15h-1.15zM472.7 85.9h1.15v1.15h-1.15zM472.0 86.8h1.15v1.15h-1.15zM454.2 82.1h1.15v1.15h-1.15zM455.6 103.7h1.15v1.15h-1.15zM451.9 100.4h1.15v1.15h-1.15zM471.9 88.3h1.15v1.15h-1.15zM458.2 103.5h1.15v1.15h-1.15zM459.5 95.2h1.15v1.15h-1.15zM456.6 90.8h1.15v1.15h-1.15zM461.2 84.3h1.15v1.15h-1.15zM455.7 89.8h1.15v1.15h-1.15zM463.9 89.2h1.15v1.15h-1.15zM455.0 84.1h1.15v1.15h-1.15zM462.5 101.9h1.15v1.15h-1.15zM474.5 91.2h1.15v1.15h-1.15zM459.0 102.3h1.15v1.15h-1.15zM474.6 92.8h1.15v1.15h-1.15zM452.0 103.3h1.15v1.15h-1.15zM463.5 90.5h1.15v1.15h-1.15zM464.9 84.2h1.15v1.15h-1.15zM474.9 89.9h1.15v1.15h-1.15zM473.8 87.6h1.15v1.15h-1.15zM462.5 92.7h1.15v1.15h-1.15zM469.2 96.4h1.15v1.15h-1.15zM475.3 94.6h1.15v1.15h-1.15zM468.6 94.1h1.15v1.15h-1.15zM474.2 99.3h1.15v1.15h-1.15zM461.8 92.3h1.15v1.15h-1.15zM466.5 91.0h1.15v1.15h-1.15zM454.5 92.8h1.15v1.15h-1.15zM460.6 83.3h1.15v1.15h-1.15zM472.1 98.4h1.15v1.15h-1.15zM464.3 86.1h1.15v1.15h-1.15zM456.8 96.6h1.15v1.15h-1.15zM453.3 85.6h1.15v1.15h-1.15zM455.7 82.2h1.15v1.15h-1.15zM453.3 98.0h1.15v1.15h-1.15zM455.7 92.6h1.15v1.15h-1.15zM459.3 94.0h1.15v1.15h-1.15zM451.7 102.0h1.15v1.15h-1.15zM471.4 104.2h1.15v1.15h-1.15zM464.0 87.3h1.15v1.15h-1.15zM465.8 103.5h1.15v1.15h-1.15zM453.5 100.9h1.15v1.15h-1.15zM452.4 98.6h1.15v1.15h-1.15zM454.0 100.6h1.15v1.15h-1.15zM475.6 82.0h1.15v1.15h-1.15zM452.9 94.0h1.15v1.15h-1.15zM460.3 95.6h1.15v1.15h-1.15zM472.4 99.9h1.15v1.15h-1.15zM464.5 92.8h1.15v1.15h-1.15zM472.8 104.0h1.15v1.15h-1.15zM459.3 92.1h1.15v1.15h-1.15zM458.2 101.9h1.15v1.15h-1.15zM464.7 90.6h1.15v1.15h-1.15zM451.6 90.5h1.15v1.15h-1.15zM465.1 98.4h1.15v1.15h-1.15zM455.6 100.8h1.15v1.15h-1.15zM454.8 88.5h1.15v1.15h-1.15zM464.4 97.0h1.15v1.15h-1.15zM460.9 94.9h1.15v1.15h-1.15zM471.5 94.2h1.15v1.15h-1.15zM454.9 100.8h1.15v1.15h-1.15zM460.7 91.6h1.15v1.15h-1.15zM466.7 101.2h1.15v1.15h-1.15zM452.2 91.4h1.15v1.15h-1.15zM458.6 81.3h1.15v1.15h-1.15zM467.2 103.1h1.15v1.15h-1.15zM456.0 95.9h1.15v1.15h-1.15zM458.8 97.7h1.15v1.15h-1.15zM464.3 92.4h1.15v1.15h-1.15zM459.9 90.7h1.15v1.15h-1.15zM472.4 93.1h1.15v1.15h-1.15zM472.0 93.7h1.15v1.15h-1.15zM471.3 85.4h1.15v1.15h-1.15zM460.4 84.1h1.15v1.15h-1.15zM454.7 100.1h1.15v1.15h-1.15zM465.9 87.5h1.15v1.15h-1.15zM460.4 94.2h1.15v1.15h-1.15zM462.4 100.8h1.15v1.15h-1.15zM466.2 102.6h1.15v1.15h-1.15zM474.2 97.1h1.15v1.15h-1.15zM470.5 103.2h1.15v1.15h-1.15zM453.3 90.2h1.15v1.15h-1.15zM466.9 91.2h1.15v1.15h-1.15zM457.7 98.4h1.15v1.15h-1.15zM468.4 100.2h1.15v1.15h-1.15zM461.6 90.8h1.15v1.15h-1.15zM463.8 99.7h1.15v1.15h-1.15zM464.1 83.7h1.15v1.15h-1.15zM453.9 99.7h1.15v1.15h-1.15zM458.8 103.4h1.15v1.15h-1.15zM460.6 100.0h1.15v1.15h-1.15zM452.0 96.4h1.15v1.15h-1.15zM468.2 96.1h1.15v1.15h-1.15zM457.9 96.4h1.15v1.15h-1.15zM461.7 93.6h1.15v1.15h-1.15zM474.5 99.4h1.15v1.15h-1.15zM472.2 90.9h1.15v1.15h-1.15zM456.6 95.0h1.15v1.15h-1.15zM459.7 85.3h1.15v1.15h-1.15zM464.1 91.1h1.15v1.15h-1.15zM453.2 88.2h1.15v1.15h-1.15zM470.2 96.1h1.15v1.15h-1.15zM467.8 85.2h1.15v1.15h-1.15zM462.6 97.4h1.15v1.15h-1.15zM451.4 83.9h1.15v1.15h-1.15zM463.9 89.0h1.15v1.15h-1.15zM469.3 97.9h1.15v1.15h-1.15zM451.5 98.8h1.15v1.15h-1.15zM466.4 103.1h1.15v1.15h-1.15zM456.1 86.9h1.15v1.15h-1.15zM460.6 89.6h1.15v1.15h-1.15zM452.2 85.0h1.15v1.15h-1.15zM463.1 103.8h1.15v1.15h-1.15zM457.4 86.3h1.15v1.15h-1.15zM452.1 100.5h1.15v1.15h-1.15zM471.6 103.5h1.15v1.15h-1.15zM474.5 86.8h1.15v1.15h-1.15zM462.0 103.5h1.15v1.15h-1.15zM473.3 92.0h1.15v1.15h-1.15zM473.3 81.5h1.15v1.15h-1.15zM468.5 100.8h1.15v1.15h-1.15zM471.2 94.6h1.15v1.15h-1.15zM454.1 93.0h1.15v1.15h-1.15zM460.1 99.4h1.15v1.15h-1.15zM456.9 84.3h1.15v1.15h-1.15zM463.9 82.8h1.15v1.15h-1.15zM452.3 84.0h1.15v1.15h-1.15zM457.0 96.8h1.15v1.15h-1.15zM467.5 92.8h1.15v1.15h-1.15zM474.7 86.6h1.15v1.15h-1.15zM463.6 85.5h1.15v1.15h-1.15zM456.2 88.3h1.15v1.15h-1.15zM453.8 98.9h1.15v1.15h-1.15zM452.0 102.3h1.15v1.15h-1.15zM466.2 103.9h1.15v1.15h-1.15zM459.1 83.5h1.15v1.15h-1.15zM461.0 84.0h1.15v1.15h-1.15zM452.3 98.6h1.15v1.15h-1.15zM461.7 94.9h1.15v1.15h-1.15zM465.0 103.6h1.15v1.15h-1.15zM451.3 95.2h1.15v1.15h-1.15zM462.7 90.1h1.15v1.15h-1.15zM461.9 94.9h1.15v1.15h-1.15zM465.5 89.1h1.15v1.15h-1.15zM471.8 103.3h1.15v1.15h-1.15zM462.2 82.8h1.15v1.15h-1.15zM464.1 82.1h1.15v1.15h-1.15zM462.3 94.3h1.15v1.15h-1.15zM470.2 91.8h1.15v1.15h-1.15zM473.3 87.1h1.15v1.15h-1.15zM457.8 89.9h1.15v1.15h-1.15zM468.2 89.1h1.15v1.15h-1.15zM466.3 96.4h1.15v1.15h-1.15zM459.0 99.0h1.15v1.15h-1.15zM470.4 89.4h1.15v1.15h-1.15zM467.4 81.2h1.15v1.15h-1.15zM462.0 102.3h1.15v1.15h-1.15zM464.1 101.5h1.15v1.15h-1.15zM474.5 93.2h1.15v1.15h-1.15zM465.9 93.4h1.15v1.15h-1.15zM465.8 93.3h1.15v1.15h-1.15zM459.2 103.4h1.15v1.15h-1.15zM469.8 93.4h1.15v1.15h-1.15zM472.3 101.0h1.15v1.15h-1.15zM457.5 90.6h1.15v1.15h-1.15zM457.9 101.7h1.15v1.15h-1.15zM466.8 95.5h1.15v1.15h-1.15zM457.0 83.5h1.15v1.15h-1.15zM452.4 99.4h1.15v1.15h-1.15zM457.0 83.9h1.15v1.15h-1.15zM467.5 89.4h1.15v1.15h-1.15zM462.3 85.3h1.15v1.15h-1.15zM464.3 98.2h1.15v1.15h-1.15zM465.6 81.8h1.15v1.15h-1.15zM463.2 90.7h1.15v1.15h-1.15zM474.8 93.5h1.15v1.15h-1.15zM470.6 86.6h1.15v1.15h-1.15zM474.9 88.6h1.15v1.15h-1.15zM467.4 100.3h1.15v1.15h-1.15zM470.4 92.9h1.15v1.15h-1.15zM469.0 102.2h1.15v1.15h-1.15zM474.3 97.6h1.15v1.15h-1.15zM458.2 93.8h1.15v1.15h-1.15zM457.9 96.8h1.15v1.15h-1.15zM452.2 90.3h1.15v1.15h-1.15zM474.9 104.1h1.15v1.15h-1.15zM461.6 84.4h1.15v1.15h-1.15zM453.2 90.3h1.15v1.15h-1.15zM453.0 90.5h1.15v1.15h-1.15zM462.7 93.6h1.15v1.15h-1.15zM466.3 98.5h1.15v1.15h-1.15zM471.3 91.0h1.15v1.15h-1.15zM464.1 100.5h1.15v1.15h-1.15zM458.1 89.0h1.15v1.15h-1.15zM467.6 97.1h1.15v1.15h-1.15zM454.7 102.5h1.15v1.15h-1.15zM458.1 84.9h1.15v1.15h-1.15zM453.2 81.4h1.15v1.15h-1.15zM467.0 83.8h1.15v1.15h-1.15zM463.3 100.1h1.15v1.15h-1.15zM460.7 87.2h1.15v1.15h-1.15zM455.6 89.3h1.15v1.15h-1.15zM471.5 85.8h1.15v1.15h-1.15zM459.6 103.3h1.15v1.15h-1.15zM473.4 91.8h1.15v1.15h-1.15zM456.6 103.6h1.15v1.15h-1.15zM465.9 97.9h1.15v1.15h-1.15zM468.6 89.0h1.15v1.15h-1.15zM454.3 88.8h1.15v1.15h-1.15zM454.5 86.9h1.15v1.15h-1.15zM469.3 85.6h1.15v1.15h-1.15zM452.6 95.9h1.15v1.15h-1.15zM461.7 84.5h1.15v1.15h-1.15zM452.4 88.4h1.15v1.15h-1.15zM474.9 94.0h1.15v1.15h-1.15zM471.3 87.2h1.15v1.15h-1.15zM455.7 96.7h1.15v1.15h-1.15zM471.5 101.0h1.15v1.15h-1.15zM468.9 88.8h1.15v1.15h-1.15zM453.0 98.6h1.15v1.15h-1.15zM456.5 101.6h1.15v1.15h-1.15zM466.0 100.5h1.15v1.15h-1.15zM467.8 86.5h1.15v1.15h-1.15zM458.3 97.6h1.15v1.15h-1.15zM453.4 103.7h1.15v1.15h-1.15zM462.1 98.9h1.15v1.15h-1.15zM469.3 83.8h1.15v1.15h-1.15zM462.8 89.9h1.15v1.15h-1.15zM454.8 104.2h1.15v1.15h-1.15zM457.4 85.1h1.15v1.15h-1.15zM469.1 102.8h1.15v1.15h-1.15zM461.2 90.6h1.15v1.15h-1.15zM469.3 83.7h1.15v1.15h-1.15zM454.4 101.6h1.15v1.15h-1.15zM470.3 81.1h1.15v1.15h-1.15zM472.7 88.1h1.15v1.15h-1.15zM457.2 97.8h1.15v1.15h-1.15zM473.4 83.5h1.15v1.15h-1.15zM464.5 97.8h1.15v1.15h-1.15z" fill="#000"/>
<path d="M481.5 76.0h1.2v1.2h-1.2zM485.3 81.1h1.2v1.2h-1.2zM484.8 73.5h1.2v1.2h-1.2zM480.1 82.2h1.2v1.2h-1.2zM478.4 79.2h1.2v1.2h-1.2zM492.6 82.9h1.2v1.2h-1.2zM489.9 73.6h1.2v1.2h-1.2zM476.1 83.1h1.2v1.2h-1.2zM482.1 90.0h1.2v1.2h-1.2zM500.6 59.1h1.2v1.2h-1.2zM478.0 83.3h1.2v1.2h-1.2zM481.7 86.7h1.2v1.2h-1.2zM489.1 72.1h1.2v1.2h-1.2zM478.1 82.4h1.2v1.2h-1.2zM480.2 92.2h1.2v1.2h-1.2zM485.4 85.7h1.2v1.2h-1.2zM483.2 75.7h1.2v1.2h-1.2zM484.0 85.2h1.2v1.2h-1.2zM484.8 76.0h1.2v1.2h-1.2zM476.3 84.1h1.2v1.2h-1.2zM485.1 85.2h1.2v1.2h-1.2zM479.2 91.3h1.2v1.2h-1.2zM497.4 72.2h1.2v1.2h-1.2zM485.8 77.4h1.2v1.2h-1.2zM484.0 94.8h1.2v1.2h-1.2zM482.8 75.0h1.2v1.2h-1.2zM482.6 100.1h1.2v1.2h-1.2zM499.4 61.2h1.2v1.2h-1.2zM485.8 71.8h1.2v1.2h-1.2zM483.1 80.0h1.2v1.2h-1.2zM487.3 91.2h1.2v1.2h-1.2zM482.6 88.5h1.2v1.2h-1.2zM476.8 90.7h1.2v1.2h-1.2zM481.0 87.5h1.2v1.2h-1.2zM504.7 84.5h1.2v1.2h-1.2zM485.9 73.9h1.2v1.2h-1.2zM495.4 65.0h1.2v1.2h-1.2zM486.9 71.6h1.2v1.2h-1.2zM487.8 84.7h1.2v1.2h-1.2zM491.9 68.1h1.2v1.2h-1.2zM481.9 76.5h1.2v1.2h-1.2zM480.6 98.2h1.2v1.2h-1.2zM487.6 94.6h1.2v1.2h-1.2zM477.4 93.0h1.2v1.2h-1.2zM489.6 79.1h1.2v1.2h-1.2zM496.5 65.7h1.2v1.2h-1.2zM498.7 60.8h1.2v1.2h-1.2zM486.1 83.0h1.2v1.2h-1.2zM493.9 76.9h1.2v1.2h-1.2zM480.2 87.1h1.2v1.2h-1.2zM491.7 80.6h1.2v1.2h-1.2zM486.2 96.7h1.2v1.2h-1.2zM478.2 79.3h1.2v1.2h-1.2zM479.9 86.1h1.2v1.2h-1.2zM491.4 71.3h1.2v1.2h-1.2zM493.4 71.4h1.2v1.2h-1.2zM478.6 89.9h1.2v1.2h-1.2zM479.4 96.5h1.2v1.2h-1.2zM498.0 61.5h1.2v1.2h-1.2zM484.9 72.6h1.2v1.2h-1.2zM490.9 90.0h1.2v1.2h-1.2zM488.8 94.5h1.2v1.2h-1.2zM478.6 83.6h1.2v1.2h-1.2zM488.0 80.0h1.2v1.2h-1.2zM477.7 84.3h1.2v1.2h-1.2zM488.6 102.0h1.2v1.2h-1.2zM489.6 73.0h1.2v1.2h-1.2zM512.9 46.7h1.2v1.2h-1.2zM483.7 79.4h1.2v1.2h-1.2zM482.0 97.8h1.2v1.2h-1.2zM478.4 91.3h1.2v1.2h-1.2zM487.6 71.6h1.2v1.2h-1.2zM491.0 88.7h1.2v1.2h-1.2zM491.9 66.0h1.2v1.2h-1.2zM496.9 70.1h1.2v1.2h-1.2zM482.9 80.7h1.2v1.2h-1.2zM476.4 83.3h1.2v1.2h-1.2zM495.0 63.8h1.2v1.2h-1.2zM476.8 90.3h1.2v1.2h-1.2zM485.2 84.1h1.2v1.2h-1.2zM496.8 62.7h1.2v1.2h-1.2zM488.2 76.8h1.2v1.2h-1.2zM480.5 90.1h1.2v1.2h-1.2zM493.3 68.6h1.2v1.2h-1.2zM490.7 95.8h1.2v1.2h-1.2zM485.2 78.2h1.2v1.2h-1.2zM479.6 81.8h1.2v1.2h-1.2zM478.9 89.9h1.2v1.2h-1.2zM498.8 71.1h1.2v1.2h-1.2zM485.7 88.8h1.2v1.2h-1.2zM481.8 79.2h1.2v1.2h-1.2zM495.6 74.9h1.2v1.2h-1.2z" fill="#0ff" fill-opacity="0.85"/>
<path d="M476.0 80.1h1.2v1.2h-1.2zM479.5 71.1h1.2v1.2h-1.2zM483.6 60.0h1.2v1.2h-1.2zM459.1 67.1h1.2v1.2h-1.2zM483.3 69.7h1.2v1.2h-1.2zM487.3 57.1h1.2v1.2h-1.2zM482.8 66.9h1.2v1.2h-1.2zM478.7 69.2h1.2v1.2h-1.2zM473.5 80.8h1.2v1.2h-1.2zM477.4 59.1h1.2v1.2h-1.2zM477.2 77.8h1.2v1.2h-1.2zM473.2 77.0h1.2v1.2h-1.2zM455.6 79.7h1.2v1.2h-1.2zM501.3 55.9h1.2v1.2h-1.2zM471.9 66.6h1.2v1.2h-1.2zM469.2 79.3h1.2v1.2h-1.2zM482.1 65.9h1.2v1.2h-1.2zM465.2 78.8h1.2v1.2h-1.2zM467.5 77.8h1.2v1.2h-1.2zM472.4 68.8h1.2v1.2h-1.2zM477.4 78.8h1.2v1.2h-1.2zM470.7 72.2h1.2v1.2h-1.2zM478.8 76.4h1.2v1.2h-1.2zM477.5 58.7h1.2v1.2h-1.2zM489.7 61.7h1.2v1.2h-1.2zM476.3 74.3h1.2v1.2h-1.2zM476.6 77.4h1.2v1.2h-1.2zM487.9 62.2h1.2v1.2h-1.2zM491.8 54.4h1.2v1.2h-1.2zM458.6 80.5h1.2v1.2h-1.2zM469.6 64.2h1.2v1.2h-1.2zM486.3 61.0h1.2v1.2h-1.2zM483.3 66.5h1.2v1.2h-1.2zM458.8 65.9h1.2v1.2h-1.2zM488.9 66.2h1.2v1.2h-1.2zM487.7 66.7h1.2v1.2h-1.2zM481.1 63.1h1.2v1.2h-1.2zM464.7 72.5h1.2v1.2h-1.2zM465.2 70.2h1.2v1.2h-1.2zM470.7 80.6h1.2v1.2h-1.2zM479.2 77.1h1.2v1.2h-1.2zM500.8 57.1h1.2v1.2h-1.2zM468.2 70.7h1.2v1.2h-1.2zM472.0 65.9h1.2v1.2h-1.2zM484.8 70.6h1.2v1.2h-1.2zM470.2 73.2h1.2v1.2h-1.2zM496.2 53.9h1.2v1.2h-1.2zM480.2 68.9h1.2v1.2h-1.2zM473.5 70.3h1.2v1.2h-1.2zM470.0 70.3h1.2v1.2h-1.2zM458.9 60.0h1.2v1.2h-1.2zM461.4 74.3h1.2v1.2h-1.2zM486.7 70.4h1.2v1.2h-1.2zM478.8 71.4h1.2v1.2h-1.2zM471.2 79.3h1.2v1.2h-1.2zM462.0 77.6h1.2v1.2h-1.2zM482.3 66.1h1.2v1.2h-1.2zM460.2 78.0h1.2v1.2h-1.2zM494.5 60.3h1.2v1.2h-1.2zM496.5 56.8h1.2v1.2h-1.2zM475.8 61.1h1.2v1.2h-1.2zM484.9 63.2h1.2v1.2h-1.2zM483.9 73.3h1.2v1.2h-1.2zM473.3 66.8h1.2v1.2h-1.2zM491.8 64.3h1.2v1.2h-1.2zM466.2 73.8h1.2v1.2h-1.2zM461.1 76.7h1.2v1.2h-1.2zM476.2 69.2h1.2v1.2h-1.2zM482.7 72.2h1.2v1.2h-1.2zM477.6 76.1h1.2v1.2h-1.2zM472.7 69.4h1.2v1.2h-1.2zM484.0 70.6h1.2v1.2h-1.2zM499.6 51.2h1.2v1.2h-1.2zM483.5 67.1h1.2v1.2h-1.2zM473.2 73.8h1.2v1.2h-1.2zM480.5 71.8h1.2v1.2h-1.2zM476.9 77.3h1.2v1.2h-1.2zM485.6 61.2h1.2v1.2h-1.2zM478.8 60.2h1.2v1.2h-1.2zM474.0 73.1h1.2v1.2h-1.2zM457.7 79.4h1.2v1.2h-1.2zM489.6 64.5h1.2v1.2h-1.2zM472.2 69.7h1.2v1.2h-1.2zM473.2 67.1h1.2v1.2h-1.2zM478.1 68.2h1.2v1.2h-1.2zM477.5 70.7h1.2v1.2h-1.2zM466.6 78.5h1.2v1.2h-1.2zM473.4 77.8h1.2v1.2h-1.2zM467.7 80.0h1.2v1.2h-1.2zM495.2 61.8h1.2v1.2h-1.2zM460.7 68.2h1.2v1.2h-1.2zM478.4 69.6h1.2v1.2h-1.2zM463.2 76.6h1.2v1.2h-1.2zM487.1 69.1h1.2v1.2h-1.2zM479.7 70.7h1.2v1.2h-1.2zM468.6 72.1h1.2v1.2h-1.2zM473.7 79.2h1.2v1.2h-1.2zM479.8 75.9h1.2v1.2h-1.2zM473.9 74.5h1.2v1.2h-1.2zM477.7 63.0h1.2v1.2h-1.2zM471.5 80.7h1.2v1.2h-1.2zM460.4 76.9h1.2v1.2h-1.2zM467.8 80.1h1.2v1.2h-1.2zM472.7 67.1h1.2v1.2h-1.2zM491.7 64.9h1.2v1.2h-1.2zM486.5 60.4h1.2v1.2h-1.2zM474.5 76.5h1.2v1.2h-1.2zM470.7 77.0h1.2v1.2h-1.2zM480.5 70.8h1.2v1.2h-1.2zM466.7 63.8h1.2v1.2h-1.2z" fill="#f0f" fill-opacity="0.85"/>
<line x1="451.60" y1="104.80" x2="543.90" y2="18.40" stroke="#1a1a1a" stroke-width="1.15" stroke-dasharray="3.4 2.65"/>
<path d="M451.60 81.47H476.52V104.80" fill="none" stroke="#1030ff" stroke-width="1.35" stroke-dasharray="3.8 2.4"/>
<path d="M33.40 137.70V225.20H127.00" fill="none" stroke="#8a8a8a" stroke-width="0.55"/>
<path d="M33.40 215.28h0.7M33.40 209.41h0.7M33.40 205.25h0.7M33.40 202.02h0.7M33.40 199.39h0.7M33.40 197.16h0.7M33.40 195.23h0.7M33.40 193.52h0.7M33.40 192.00h1.4M33.40 181.98h0.7M33.40 176.11h0.7M33.40 171.95h0.7M33.40 168.72h0.7M33.40 166.09h0.7M33.40 163.86h0.7M33.40 161.93h0.7M33.40 160.22h0.7M33.40 158.70h1.4M33.40 148.68h0.7M33.40 142.81h0.7M33.40 138.65h0.7M39.89 225.20v-1M53.26 225.20v-1M66.63 225.20v-1M80.00 225.20v-1M93.37 225.20v-1M106.74 225.20v-1M120.11 225.20v-1" stroke="#8a8a8a" stroke-width="0.4" fill="none"/>
<g font-size="4.2" fill="#383838" font-family="'Liberation Sans', sans-serif">
<text x="39.89" y="231.11" text-anchor="middle">-0.3</text>
<text x="53.26" y="231.11" text-anchor="middle">-0.2</text>
<text x="66.63" y="231.11" text-anchor="middle">-0.1</text>
<text x="80.00" y="231.11" text-anchor="middle">0</text>
<text x="93.37" y="231.11" text-anchor="middle">0.1</text>
<text x="106.74" y="231.11" text-anchor="middle">0.2</text>
<text x="120.11" y="231.11" text-anchor="middle">0.3</text>
<text x="30.40" y="228.60" text-anchor="end" font-size="4.5">10</text><text x="30.30" y="225.80" font-size="3.1">0</text>
<text x="30.40" y="195.30" text-anchor="end" font-size="4.5">10</text><text x="30.30" y="192.50" font-size="3.1">1</text>
<text x="30.40" y="162.00" text-anchor="end" font-size="4.5">10</text><text x="30.30" y="159.20" font-size="3.1">2</text>
</g>
<rect x="59.94" y="202.30" width="6.69" height="22.90" fill="#f0f" stroke="#303" stroke-width="0.35"/>
<rect x="66.63" y="168.30" width="6.69" height="56.90" fill="#f0f" stroke="#303" stroke-width="0.35"/>
<rect x="73.31" y="160.00" width="6.69" height="65.20" fill="#f0f" stroke="#303" stroke-width="0.35"/>
<rect x="80.00" y="168.80" width="6.69" height="56.40" fill="#0f0" stroke="#303" stroke-width="0.35"/>
<rect x="86.69" y="186.80" width="6.69" height="38.40" fill="#0f0" stroke="#303" stroke-width="0.35"/>
<path d="M155.60 142.30V225.20H248.40" fill="none" stroke="#8a8a8a" stroke-width="0.55"/>
<path d="M155.60 215.28h0.7M155.60 209.41h0.7M155.60 205.25h0.7M155.60 202.02h0.7M155.60 199.39h0.7M155.60 197.16h0.7M155.60 195.23h0.7M155.60 193.52h0.7M155.60 192.00h1.4M155.60 181.98h0.7M155.60 176.11h0.7M155.60 171.95h0.7M155.60 168.72h0.7M155.60 166.09h0.7M155.60 163.86h0.7M155.60 161.93h0.7M155.60 160.22h0.7M155.60 158.70h1.4M155.60 148.68h0.7M155.60 142.81h0.7M162.23 225.20v-1M175.49 225.20v-1M188.74 225.20v-1M202.00 225.20v-1M215.26 225.20v-1M228.51 225.20v-1M241.77 225.20v-1" stroke="#8a8a8a" stroke-width="0.4" fill="none"/>
<g font-size="4.2" fill="#383838" font-family="'Liberation Sans', sans-serif">
<text x="162.23" y="231.11" text-anchor="middle">-0.3</text>
<text x="175.49" y="231.11" text-anchor="middle">-0.2</text>
<text x="188.74" y="231.11" text-anchor="middle">-0.1</text>
<text x="202.00" y="231.11" text-anchor="middle">0</text>
<text x="215.26" y="231.11" text-anchor="middle">0.1</text>
<text x="228.51" y="231.11" text-anchor="middle">0.2</text>
<text x="241.77" y="231.11" text-anchor="middle">0.3</text>
<text x="152.60" y="228.60" text-anchor="end" font-size="4.5">10</text><text x="152.50" y="225.80" font-size="3.1">0</text>
<text x="152.60" y="195.30" text-anchor="end" font-size="4.5">10</text><text x="152.50" y="192.50" font-size="3.1">1</text>
<text x="152.60" y="162.00" text-anchor="end" font-size="4.5">10</text><text x="152.50" y="159.20" font-size="3.1">2</text>
</g>
<rect x="182.11" y="190.80" width="6.63" height="34.40" fill="#f0f" stroke="#303" stroke-width="0.35"/>
<rect x="188.74" y="188.30" width="6.63" height="36.90" fill="#f0f" stroke="#303" stroke-width="0.35"/>
<rect x="195.37" y="177.20" width="6.63" height="48.00" fill="#f0f" stroke="#303" stroke-width="0.35"/>
<rect x="202.00" y="178.40" width="6.63" height="46.80" fill="#0f0" stroke="#303" stroke-width="0.35"/>
<rect x="208.63" y="197.20" width="6.63" height="28.00" fill="#0f0" stroke="#303" stroke-width="0.35"/>
<path d="M328.80 137.70V225.20H424.40" fill="none" stroke="#8a8a8a" stroke-width="0.55"/>
<path d="M328.80 224.84h0.7M328.80 219.70h0.7M328.80 215.70h0.7M328.80 212.44h0.7M328.80 209.68h0.7M328.80 207.29h0.7M328.80 205.19h0.7M328.80 203.30h1.4M328.80 190.90h0.7M328.80 183.64h0.7M328.80 178.50h0.7M328.80 174.50h0.7M328.80 171.24h0.7M328.80 168.48h0.7M328.80 166.09h0.7M328.80 163.99h0.7M328.80 162.10h1.4M328.80 149.70h0.7M328.80 142.44h0.7M335.63 225.20v-1M349.29 225.20v-1M362.94 225.20v-1M376.60 225.20v-1M390.26 225.20v-1M403.91 225.20v-1M417.57 225.20v-1" stroke="#8a8a8a" stroke-width="0.4" fill="none"/>
<g font-size="4.6" fill="#383838" font-family="'Liberation Sans', sans-serif">
<text x="335.63" y="231.26" text-anchor="middle">-0.3</text>
<text x="349.29" y="231.26" text-anchor="middle">-0.2</text>
<text x="362.94" y="231.26" text-anchor="middle">-0.1</text>
<text x="376.60" y="231.26" text-anchor="middle">0</text>
<text x="390.26" y="231.26" text-anchor="middle">0.1</text>
<text x="403.91" y="231.26" text-anchor="middle">0.2</text>
<text x="417.57" y="231.26" text-anchor="middle">0.3</text>
<text x="325.80" y="206.60" text-anchor="end" font-size="4.5">10</text><text x="325.70" y="203.80" font-size="3.1">1</text>
<text x="325.80" y="165.40" text-anchor="end" font-size="4.5">10</text><text x="325.70" y="162.60" font-size="3.1">2</text>
</g>
<rect x="342.46" y="202.30" width="6.83" height="22.90" fill="#f0f" stroke="#303" stroke-width="0.35"/>
<rect x="349.29" y="197.70" width="6.83" height="27.50" fill="#f0f" stroke="#303" stroke-width="0.35"/>
<rect x="356.11" y="188.30" width="6.83" height="36.90" fill="#f0f" stroke="#303" stroke-width="0.35"/>
<rect x="362.94" y="183.00" width="6.83" height="42.20" fill="#f0f" stroke="#303" stroke-width="0.35"/>
<rect x="369.77" y="190.00" width="6.83" height="35.20" fill="#f0f" stroke="#303" stroke-width="0.35"/>
<rect x="376.60" y="193.50" width="6.83" height="31.70" fill="#0ff" stroke="#303" stroke-width="0.35"/>
<rect x="383.43" y="199.20" width="6.83" height="26.00" fill="#0ff" stroke="#303" stroke-width="0.35"/>
<rect x="390.26" y="204.30" width="6.83" height="20.90" fill="#0ff" stroke="#303" stroke-width="0.35"/>
<path d="M451.60 142.30V225.20H546.40" fill="none" stroke="#8a8a8a" stroke-width="0.55"/>
<path d="M451.60 215.28h0.7M451.60 209.41h0.7M451.60 205.25h0.7M451.60 202.02h0.7M451.60 199.39h0.7M451.60 197.16h0.7M451.60 195.23h0.7M451.60 193.52h0.7M451.60 192.00h1.4M451.60 181.98h0.7M451.60 176.11h0.7M451.60 171.95h0.7M451.60 168.72h0.7M451.60 166.09h0.7M451.60 163.86h0.7M451.60 161.93h0.7M451.60 160.22h0.7M451.60 158.70h1.4M451.60 148.68h0.7M451.60 142.81h0.7M458.27 225.20v-1M471.81 225.20v-1M485.36 225.20v-1M498.90 225.20v-1M512.44 225.20v-1M525.99 225.20v-1M539.53 225.20v-1" stroke="#8a8a8a" stroke-width="0.4" fill="none"/>
<g font-size="4.6" fill="#383838" font-family="'Liberation Sans', sans-serif">
<text x="458.27" y="231.26" text-anchor="middle">-0.3</text>
<text x="471.81" y="231.26" text-anchor="middle">-0.2</text>
<text x="485.36" y="231.26" text-anchor="middle">-0.1</text>
<text x="498.90" y="231.26" text-anchor="middle">0</text>
<text x="512.44" y="231.26" text-anchor="middle">0.1</text>
<text x="525.99" y="231.26" text-anchor="middle">0.2</text>
<text x="539.53" y="231.26" text-anchor="middle">0.3</text>
<text x="448.60" y="228.60" text-anchor="end" font-size="4.5">10</text><text x="448.50" y="225.80" font-size="3.1">0</text>
<text x="448.60" y="195.30" text-anchor="end" font-size="4.5">10</text><text x="448.50" y="192.50" font-size="3.1">1</text>
<text x="448.60" y="162.00" text-anchor="end" font-size="4.5">10</text><text x="448.50" y="159.20" font-size="3.1">2</text>
</g>
<rect x="465.04" y="215.50" width="6.77" height="9.70" fill="#f0f" stroke="#303" stroke-width="0.35"/>
<rect x="471.81" y="197.20" width="6.77" height="28.00" fill="#f0f" stroke="#303" stroke-width="0.35"/>
<rect x="478.59" y="192.10" width="6.77" height="33.10" fill="#f0f" stroke="#303" stroke-width="0.35"/>
<rect x="485.36" y="186.00" width="6.77" height="39.20" fill="#f0f" stroke="#303" stroke-width="0.35"/>
<rect x="492.13" y="180.50" width="6.77" height="44.70" fill="#f0f" stroke="#303" stroke-width="0.35"/>
<rect x="498.90" y="184.00" width="6.77" height="41.20" fill="#0ff" stroke="#303" stroke-width="0.35"/>
<rect x="505.67" y="199.20" width="6.77" height="26.00" fill="#0ff" stroke="#303" stroke-width="0.35"/>
<rect x="512.44" y="199.20" width="6.77" height="26.00" fill="#0ff" stroke="#303" stroke-width="0.35"/>
<text x="4.8" y="16" font-size="8.4" font-weight="bold" text-anchor="start" fill="#000" stroke="#000" stroke-width="0.35">A</text>
<text x="5.1" y="144.2" font-size="8.4" font-weight="bold" text-anchor="start" fill="#000" textLength="4.9" lengthAdjust="spacingAndGlyphs" stroke="#000" stroke-width="0.35">B</text>
<text x="300.2" y="15.7" font-size="8.4" font-weight="bold" text-anchor="start" fill="#000" textLength="5.3" lengthAdjust="spacingAndGlyphs" stroke="#000" stroke-width="0.35">C</text>
<text x="300.2" y="144" font-size="8.4" font-weight="bold" text-anchor="start" fill="#000" stroke="#000" stroke-width="0.35">D</text>
<text x="72" y="13.4" font-size="7" font-weight="bold" text-anchor="start" fill="#000" textLength="8.7" lengthAdjust="spacingAndGlyphs">V4</text>
<text x="196.1" y="13.5" font-size="7" font-weight="bold" text-anchor="start" fill="#000" textLength="8.3" lengthAdjust="spacingAndGlyphs">LO</text>
<text x="369.1" y="13.4" font-size="7" font-weight="bold" text-anchor="start" fill="#000" textLength="8.7" lengthAdjust="spacingAndGlyphs">V4</text>
<text x="493.2" y="13.5" font-size="7" font-weight="bold" text-anchor="start" fill="#000" textLength="8.3" lengthAdjust="spacingAndGlyphs">LO</text>
<text x="22.1" y="119.5" font-size="7.4" font-weight="bold" text-anchor="start" fill="#000" textLength="109.7" lengthAdjust="spacingAndGlyphs">Prediction Accuracy of the GaborNet-VE</text>
<text x="326.9" y="121.2" font-size="7.4" font-weight="bold" text-anchor="start" fill="#000" textLength="97.9" lengthAdjust="spacingAndGlyphs">Prediction Accuracy of the CNN-EM</text>
<text transform="translate(21,111.7) rotate(-90)" font-size="7.4" font-weight="bold" textLength="102" lengthAdjust="spacingAndGlyphs">Prediction Accuracy of the S2V2V-EM</text>
<text transform="translate(317,111.7) rotate(-90)" font-size="7.4" font-weight="bold" textLength="102" lengthAdjust="spacingAndGlyphs">Prediction Accuracy of the S2V2V-EM</text>
<text transform="translate(19.7,205.7) rotate(-90)" font-size="7.4" font-weight="bold" textLength="48.4" lengthAdjust="spacingAndGlyphs">Number of voxels</text>
<text transform="translate(316.8,210.2) rotate(-90)" font-size="7.4" font-weight="bold" textLength="49.2" lengthAdjust="spacingAndGlyphs">Number of voxels</text>
<text x="62.2" y="138.8" font-size="7.4" font-weight="bold" text-anchor="start" fill="#000" textLength="40" lengthAdjust="spacingAndGlyphs">0.705–0.295</text>
<text x="186" y="138.8" font-size="7.4" font-weight="bold" text-anchor="start" fill="#000" textLength="39" lengthAdjust="spacingAndGlyphs">0.621–0.379</text>
<text x="356.8" y="138.8" font-size="7.4" font-weight="bold" text-anchor="start" fill="#000" textLength="40" lengthAdjust="spacingAndGlyphs">0.703–0.297</text>
<text x="480.8" y="138.8" font-size="7.4" font-weight="bold" text-anchor="start" fill="#000" textLength="40" lengthAdjust="spacingAndGlyphs">0.640–0.360</text>
<text x="23.4" y="240.8" font-size="7.4" font-weight="bold" text-anchor="start" fill="#000" textLength="53.3" lengthAdjust="spacingAndGlyphs">S2V2V-EM is better</text>
<text x="83.6" y="240.8" font-size="7.4" font-weight="bold" text-anchor="start" fill="#000" textLength="60.2" lengthAdjust="spacingAndGlyphs">GaborNet-VE is better</text>
<text x="320.4" y="240.8" font-size="7.4" font-weight="bold" text-anchor="start" fill="#000" textLength="53.3" lengthAdjust="spacingAndGlyphs">S2V2V-EM is better</text>
<text x="380.7" y="240.8" font-size="7.4" font-weight="bold" text-anchor="start" fill="#000" textLength="47.5" lengthAdjust="spacingAndGlyphs">CNN-EM is better</text>
<path d="M52.3 244.8l3.4 -1.7v0.95H76.2v1.5H55.699999999999996v0.95z" fill="#f0f"/>
<path d="M105.6 244.8l-3.4 -1.7v0.95H83.6v1.5H102.19999999999999v0.95z" fill="#0f0"/>
<path d="M349.7 244.8l3.4 -1.7v0.95H373.8v1.5H353.09999999999997v0.95z" fill="#f0f"/>
<path d="M403.2 244.8l-3.4 -1.7v0.95H381.2v1.5H399.8v0.95z" fill="#0ff"/>
<rect x="249" y="115.8" width="47.5" height="18.9" fill="#aaa"/>
<rect x="248.3" y="115" width="47.5" height="18.9" fill="#fff" stroke="#666" stroke-width="0.7"/>
<rect x="249.5" y="116.4" width="16.5" height="4.4" fill="#f0f" stroke="#555" stroke-width="0.3"/>
<text x="267.4" y="120.10000000000001" font-size="4.4" fill="#222">S2V2V-EM</text>
<rect x="249.5" y="122.2" width="16.5" height="4.4" fill="#0f0" stroke="#555" stroke-width="0.3"/>
<text x="267.4" y="125.9" font-size="4.4" fill="#222">GaborNet-VE</text>
<rect x="249.5" y="128.0" width="16.5" height="4.4" fill="#0ff" stroke="#555" stroke-width="0.3"/>
<text x="267.4" y="131.7" font-size="4.4" fill="#222">CNN-EM</text>
</svg></body></html>
